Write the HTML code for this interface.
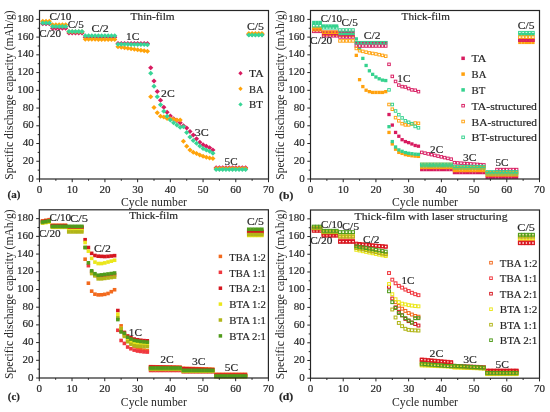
<!DOCTYPE html>
<html><head><meta charset="utf-8"><style>html,body{margin:0;padding:0;background:#fff;width:550px;height:412px;overflow:hidden;position:relative}</style></head><body>
<svg width="550" height="412" viewBox="0 0 550 412" style="position:absolute;left:0;top:0;will-change:transform">
<rect width="550" height="412" fill="#fff"/>
<path d="M40.17 23.80L42.77 21.30L45.37 23.80L42.77 26.30Z" fill="#d81b60"/>
<path d="M43.44 23.80L46.04 21.30L48.64 23.80L46.04 26.30Z" fill="#d81b60"/>
<path d="M46.71 23.80L49.31 21.30L51.91 23.80L49.31 26.30Z" fill="#d81b60"/>
<path d="M49.99 28.24L52.59 25.74L55.19 28.24L52.59 30.74Z" fill="#d81b60"/>
<path d="M53.26 28.24L55.86 25.74L58.46 28.24L55.86 30.74Z" fill="#d81b60"/>
<path d="M56.53 28.24L59.13 25.74L61.73 28.24L59.13 30.74Z" fill="#d81b60"/>
<path d="M59.80 28.24L62.40 25.74L65.00 28.24L62.40 30.74Z" fill="#d81b60"/>
<path d="M63.07 28.24L65.67 25.74L68.27 28.24L65.67 30.74Z" fill="#d81b60"/>
<path d="M66.34 33.11L68.94 30.61L71.54 33.11L68.94 35.61Z" fill="#d81b60"/>
<path d="M69.61 33.11L72.21 30.61L74.81 33.11L72.21 35.61Z" fill="#d81b60"/>
<path d="M72.89 33.11L75.49 30.61L78.09 33.11L75.49 35.61Z" fill="#d81b60"/>
<path d="M76.16 33.11L78.76 30.61L81.36 33.11L78.76 35.61Z" fill="#d81b60"/>
<path d="M79.43 33.11L82.03 30.61L84.63 33.11L82.03 35.61Z" fill="#d81b60"/>
<path d="M82.70 37.28L85.30 34.78L87.90 37.28L85.30 39.78Z" fill="#d81b60"/>
<path d="M85.97 37.28L88.57 34.78L91.17 37.28L88.57 39.78Z" fill="#d81b60"/>
<path d="M89.24 37.28L91.84 34.78L94.44 37.28L91.84 39.78Z" fill="#d81b60"/>
<path d="M92.51 37.28L95.11 34.78L97.71 37.28L95.11 39.78Z" fill="#d81b60"/>
<path d="M95.79 37.28L98.39 34.78L100.99 37.28L98.39 39.78Z" fill="#d81b60"/>
<path d="M99.06 37.28L101.66 34.78L104.26 37.28L101.66 39.78Z" fill="#d81b60"/>
<path d="M102.33 37.28L104.93 34.78L107.53 37.28L104.93 39.78Z" fill="#d81b60"/>
<path d="M105.60 37.28L108.20 34.78L110.80 37.28L108.20 39.78Z" fill="#d81b60"/>
<path d="M108.87 37.28L111.47 34.78L114.07 37.28L111.47 39.78Z" fill="#d81b60"/>
<path d="M112.14 37.28L114.74 34.78L117.34 37.28L114.74 39.78Z" fill="#d81b60"/>
<path d="M115.41 43.49L118.01 40.99L120.61 43.49L118.01 45.99Z" fill="#d81b60"/>
<path d="M118.69 43.49L121.29 40.99L123.89 43.49L121.29 45.99Z" fill="#d81b60"/>
<path d="M121.96 43.49L124.56 40.99L127.16 43.49L124.56 45.99Z" fill="#d81b60"/>
<path d="M125.23 43.49L127.83 40.99L130.43 43.49L127.83 45.99Z" fill="#d81b60"/>
<path d="M128.50 43.49L131.10 40.99L133.70 43.49L131.10 45.99Z" fill="#d81b60"/>
<path d="M131.77 43.49L134.37 40.99L136.97 43.49L134.37 45.99Z" fill="#d81b60"/>
<path d="M135.04 43.49L137.64 40.99L140.24 43.49L137.64 45.99Z" fill="#d81b60"/>
<path d="M138.31 43.49L140.91 40.99L143.51 43.49L140.91 45.99Z" fill="#d81b60"/>
<path d="M141.59 43.49L144.19 40.99L146.79 43.49L144.19 45.99Z" fill="#d81b60"/>
<path d="M144.86 43.49L147.46 40.99L150.06 43.49L147.46 45.99Z" fill="#d81b60"/>
<path d="M148.13 67.70L150.73 65.20L153.33 67.70L150.73 70.20Z" fill="#d81b60"/>
<path d="M151.40 81.00L154.00 78.50L156.60 81.00L154.00 83.50Z" fill="#d81b60"/>
<path d="M154.67 91.56L157.27 89.06L159.87 91.56L157.27 94.06Z" fill="#d81b60"/>
<path d="M157.94 100.34L160.54 97.84L163.14 100.34L160.54 102.84Z" fill="#d81b60"/>
<path d="M161.21 107.25L163.81 104.75L166.41 107.25L163.81 109.75Z" fill="#d81b60"/>
<path d="M164.49 112.31L167.09 109.81L169.69 112.31L167.09 114.81Z" fill="#d81b60"/>
<path d="M167.76 116.03L170.36 113.53L172.96 116.03L170.36 118.53Z" fill="#d81b60"/>
<path d="M171.03 118.69L173.63 116.19L176.23 118.69L173.63 121.19Z" fill="#d81b60"/>
<path d="M174.30 120.47L176.90 117.97L179.50 120.47L176.90 122.97Z" fill="#d81b60"/>
<path d="M177.57 122.69L180.17 120.19L182.77 122.69L180.17 125.19Z" fill="#d81b60"/>
<path d="M180.84 125.79L183.44 123.29L186.04 125.79L183.44 128.29Z" fill="#d81b60"/>
<path d="M184.11 128.10L186.71 125.60L189.31 128.10L186.71 130.60Z" fill="#d81b60"/>
<path d="M187.39 131.47L189.99 128.97L192.59 131.47L189.99 133.97Z" fill="#d81b60"/>
<path d="M190.66 134.92L193.26 132.42L195.86 134.92L193.26 137.42Z" fill="#d81b60"/>
<path d="M193.93 138.74L196.53 136.24L199.13 138.74L196.53 141.24Z" fill="#d81b60"/>
<path d="M197.20 142.20L199.80 139.70L202.40 142.20L199.80 144.70Z" fill="#d81b60"/>
<path d="M200.47 144.86L203.07 142.36L205.67 144.86L203.07 147.36Z" fill="#d81b60"/>
<path d="M203.74 146.28L206.34 143.78L208.94 146.28L206.34 148.78Z" fill="#d81b60"/>
<path d="M207.01 147.69L209.61 145.19L212.21 147.69L209.61 150.19Z" fill="#d81b60"/>
<path d="M210.29 149.91L212.89 147.41L215.49 149.91L212.89 152.41Z" fill="#d81b60"/>
<path d="M213.56 167.83L216.16 165.33L218.76 167.83L216.16 170.33Z" fill="#d81b60"/>
<path d="M216.83 167.83L219.43 165.33L222.03 167.83L219.43 170.33Z" fill="#d81b60"/>
<path d="M220.10 167.83L222.70 165.33L225.30 167.83L222.70 170.33Z" fill="#d81b60"/>
<path d="M223.37 167.83L225.97 165.33L228.57 167.83L225.97 170.33Z" fill="#d81b60"/>
<path d="M226.64 167.83L229.24 165.33L231.84 167.83L229.24 170.33Z" fill="#d81b60"/>
<path d="M229.91 167.83L232.51 165.33L235.11 167.83L232.51 170.33Z" fill="#d81b60"/>
<path d="M233.19 167.83L235.79 165.33L238.39 167.83L235.79 170.33Z" fill="#d81b60"/>
<path d="M236.46 167.83L239.06 165.33L241.66 167.83L239.06 170.33Z" fill="#d81b60"/>
<path d="M239.73 167.83L242.33 165.33L244.93 167.83L242.33 170.33Z" fill="#d81b60"/>
<path d="M243.00 167.83L245.60 165.33L248.20 167.83L245.60 170.33Z" fill="#d81b60"/>
<path d="M246.27 34.44L248.87 31.94L251.47 34.44L248.87 36.94Z" fill="#d81b60"/>
<path d="M249.54 34.44L252.14 31.94L254.74 34.44L252.14 36.94Z" fill="#d81b60"/>
<path d="M252.81 34.44L255.41 31.94L258.01 34.44L255.41 36.94Z" fill="#d81b60"/>
<path d="M256.09 34.44L258.69 31.94L261.29 34.44L258.69 36.94Z" fill="#d81b60"/>
<path d="M259.36 34.44L261.96 31.94L264.56 34.44L261.96 36.94Z" fill="#d81b60"/>
<path d="M40.17 21.14L42.77 18.64L45.37 21.14L42.77 23.64Z" fill="#ffa30a"/>
<path d="M43.44 21.14L46.04 18.64L48.64 21.14L46.04 23.64Z" fill="#ffa30a"/>
<path d="M46.71 21.14L49.31 18.64L51.91 21.14L49.31 23.64Z" fill="#ffa30a"/>
<path d="M49.99 24.69L52.59 22.19L55.19 24.69L52.59 27.19Z" fill="#ffa30a"/>
<path d="M53.26 24.69L55.86 22.19L58.46 24.69L55.86 27.19Z" fill="#ffa30a"/>
<path d="M56.53 24.69L59.13 22.19L61.73 24.69L59.13 27.19Z" fill="#ffa30a"/>
<path d="M59.80 24.69L62.40 22.19L65.00 24.69L62.40 27.19Z" fill="#ffa30a"/>
<path d="M63.07 24.69L65.67 22.19L68.27 24.69L65.67 27.19Z" fill="#ffa30a"/>
<path d="M66.34 31.78L68.94 29.28L71.54 31.78L68.94 34.28Z" fill="#ffa30a"/>
<path d="M69.61 31.78L72.21 29.28L74.81 31.78L72.21 34.28Z" fill="#ffa30a"/>
<path d="M72.89 31.78L75.49 29.28L78.09 31.78L75.49 34.28Z" fill="#ffa30a"/>
<path d="M76.16 31.78L78.76 29.28L81.36 31.78L78.76 34.28Z" fill="#ffa30a"/>
<path d="M79.43 31.78L82.03 29.28L84.63 31.78L82.03 34.28Z" fill="#ffa30a"/>
<path d="M82.70 39.23L85.30 36.73L87.90 39.23L85.30 41.73Z" fill="#ffa30a"/>
<path d="M85.97 39.27L88.57 36.77L91.17 39.27L88.57 41.77Z" fill="#ffa30a"/>
<path d="M89.24 39.31L91.84 36.81L94.44 39.31L91.84 41.81Z" fill="#ffa30a"/>
<path d="M92.51 39.35L95.11 36.85L97.71 39.35L95.11 41.85Z" fill="#ffa30a"/>
<path d="M95.79 39.39L98.39 36.89L100.99 39.39L98.39 41.89Z" fill="#ffa30a"/>
<path d="M99.06 39.43L101.66 36.93L104.26 39.43L101.66 41.93Z" fill="#ffa30a"/>
<path d="M102.33 39.47L104.93 36.97L107.53 39.47L104.93 41.97Z" fill="#ffa30a"/>
<path d="M105.60 39.51L108.20 37.01L110.80 39.51L108.20 42.01Z" fill="#ffa30a"/>
<path d="M108.87 39.55L111.47 37.05L114.07 39.55L111.47 42.05Z" fill="#ffa30a"/>
<path d="M112.14 39.59L114.74 37.09L117.34 39.59L114.74 42.09Z" fill="#ffa30a"/>
<path d="M115.41 46.86L118.01 44.36L120.61 46.86L118.01 49.36Z" fill="#ffa30a"/>
<path d="M118.69 47.35L121.29 44.85L123.89 47.35L121.29 49.85Z" fill="#ffa30a"/>
<path d="M121.96 47.85L124.56 45.35L127.16 47.85L124.56 50.35Z" fill="#ffa30a"/>
<path d="M125.23 48.34L127.83 45.84L130.43 48.34L127.83 50.84Z" fill="#ffa30a"/>
<path d="M128.50 48.83L131.10 46.33L133.70 48.83L131.10 51.33Z" fill="#ffa30a"/>
<path d="M131.77 49.32L134.37 46.82L136.97 49.32L134.37 51.82Z" fill="#ffa30a"/>
<path d="M135.04 49.82L137.64 47.32L140.24 49.82L137.64 52.32Z" fill="#ffa30a"/>
<path d="M138.31 50.31L140.91 47.81L143.51 50.31L140.91 52.81Z" fill="#ffa30a"/>
<path d="M141.59 50.80L144.19 48.30L146.79 50.80L144.19 53.30Z" fill="#ffa30a"/>
<path d="M144.86 51.29L147.46 48.79L150.06 51.29L147.46 53.79Z" fill="#ffa30a"/>
<path d="M148.13 96.70L150.73 94.20L153.33 96.70L150.73 99.20Z" fill="#ffa30a"/>
<path d="M151.40 107.61L154.00 105.11L156.60 107.61L154.00 110.11Z" fill="#ffa30a"/>
<path d="M154.67 112.66L157.27 110.16L159.87 112.66L157.27 115.16Z" fill="#ffa30a"/>
<path d="M157.94 116.30L160.54 113.80L163.14 116.30L160.54 118.80Z" fill="#ffa30a"/>
<path d="M161.21 117.10L163.81 114.60L166.41 117.10L163.81 119.60Z" fill="#ffa30a"/>
<path d="M164.49 118.52L167.09 116.02L169.69 118.52L167.09 121.02Z" fill="#ffa30a"/>
<path d="M167.76 118.87L170.36 116.37L172.96 118.87L170.36 121.37Z" fill="#ffa30a"/>
<path d="M171.03 119.32L173.63 116.82L176.23 119.32L173.63 121.82Z" fill="#ffa30a"/>
<path d="M174.30 119.94L176.90 117.44L179.50 119.94L176.90 122.44Z" fill="#ffa30a"/>
<path d="M177.57 119.94L180.17 117.44L182.77 119.94L180.17 122.44Z" fill="#ffa30a"/>
<path d="M180.84 141.13L183.44 138.63L186.04 141.13L183.44 143.63Z" fill="#ffa30a"/>
<path d="M184.11 146.28L186.71 143.78L189.31 146.28L186.71 148.78Z" fill="#ffa30a"/>
<path d="M187.39 149.91L189.99 147.41L192.59 149.91L189.99 152.41Z" fill="#ffa30a"/>
<path d="M190.66 152.13L193.26 149.63L195.86 152.13L193.26 154.63Z" fill="#ffa30a"/>
<path d="M193.93 153.55L196.53 151.05L199.13 153.55L196.53 156.05Z" fill="#ffa30a"/>
<path d="M197.20 155.06L199.80 152.56L202.40 155.06L199.80 157.56Z" fill="#ffa30a"/>
<path d="M200.47 156.21L203.07 153.71L205.67 156.21L203.07 158.71Z" fill="#ffa30a"/>
<path d="M203.74 157.18L206.34 154.68L208.94 157.18L206.34 159.68Z" fill="#ffa30a"/>
<path d="M207.01 157.89L209.61 155.39L212.21 157.89L209.61 160.39Z" fill="#ffa30a"/>
<path d="M210.29 158.60L212.89 156.10L215.49 158.60L212.89 161.10Z" fill="#ffa30a"/>
<path d="M213.56 168.45L216.16 165.95L218.76 168.45L216.16 170.95Z" fill="#ffa30a"/>
<path d="M216.83 168.45L219.43 165.95L222.03 168.45L219.43 170.95Z" fill="#ffa30a"/>
<path d="M220.10 168.45L222.70 165.95L225.30 168.45L222.70 170.95Z" fill="#ffa30a"/>
<path d="M223.37 168.45L225.97 165.95L228.57 168.45L225.97 170.95Z" fill="#ffa30a"/>
<path d="M226.64 168.45L229.24 165.95L231.84 168.45L229.24 170.95Z" fill="#ffa30a"/>
<path d="M229.91 168.45L232.51 165.95L235.11 168.45L232.51 170.95Z" fill="#ffa30a"/>
<path d="M233.19 168.45L235.79 165.95L238.39 168.45L235.79 170.95Z" fill="#ffa30a"/>
<path d="M236.46 168.45L239.06 165.95L241.66 168.45L239.06 170.95Z" fill="#ffa30a"/>
<path d="M239.73 168.45L242.33 165.95L244.93 168.45L242.33 170.95Z" fill="#ffa30a"/>
<path d="M243.00 168.45L245.60 165.95L248.20 168.45L245.60 170.95Z" fill="#ffa30a"/>
<path d="M246.27 33.56L248.87 31.06L251.47 33.56L248.87 36.06Z" fill="#ffa30a"/>
<path d="M249.54 33.56L252.14 31.06L254.74 33.56L252.14 36.06Z" fill="#ffa30a"/>
<path d="M252.81 33.56L255.41 31.06L258.01 33.56L255.41 36.06Z" fill="#ffa30a"/>
<path d="M256.09 33.56L258.69 31.06L261.29 33.56L258.69 36.06Z" fill="#ffa30a"/>
<path d="M259.36 33.56L261.96 31.06L264.56 33.56L261.96 36.06Z" fill="#ffa30a"/>
<path d="M40.17 22.92L42.77 20.42L45.37 22.92L42.77 25.42Z" fill="#38d596"/>
<path d="M43.44 22.92L46.04 20.42L48.64 22.92L46.04 25.42Z" fill="#38d596"/>
<path d="M46.71 22.92L49.31 20.42L51.91 22.92L49.31 25.42Z" fill="#38d596"/>
<path d="M49.99 26.46L52.59 23.96L55.19 26.46L52.59 28.96Z" fill="#38d596"/>
<path d="M53.26 26.46L55.86 23.96L58.46 26.46L55.86 28.96Z" fill="#38d596"/>
<path d="M56.53 26.46L59.13 23.96L61.73 26.46L59.13 28.96Z" fill="#38d596"/>
<path d="M59.80 26.46L62.40 23.96L65.00 26.46L62.40 28.96Z" fill="#38d596"/>
<path d="M63.07 26.46L65.67 23.96L68.27 26.46L65.67 28.96Z" fill="#38d596"/>
<path d="M66.34 31.52L68.94 29.02L71.54 31.52L68.94 34.02Z" fill="#38d596"/>
<path d="M69.61 31.52L72.21 29.02L74.81 31.52L72.21 34.02Z" fill="#38d596"/>
<path d="M72.89 31.52L75.49 29.02L78.09 31.52L75.49 34.02Z" fill="#38d596"/>
<path d="M76.16 31.52L78.76 29.02L81.36 31.52L78.76 34.02Z" fill="#38d596"/>
<path d="M79.43 31.52L82.03 29.02L84.63 31.52L82.03 34.02Z" fill="#38d596"/>
<path d="M82.70 35.86L85.30 33.36L87.90 35.86L85.30 38.36Z" fill="#38d596"/>
<path d="M85.97 35.86L88.57 33.36L91.17 35.86L88.57 38.36Z" fill="#38d596"/>
<path d="M89.24 35.86L91.84 33.36L94.44 35.86L91.84 38.36Z" fill="#38d596"/>
<path d="M92.51 35.86L95.11 33.36L97.71 35.86L95.11 38.36Z" fill="#38d596"/>
<path d="M95.79 35.86L98.39 33.36L100.99 35.86L98.39 38.36Z" fill="#38d596"/>
<path d="M99.06 35.86L101.66 33.36L104.26 35.86L101.66 38.36Z" fill="#38d596"/>
<path d="M102.33 35.86L104.93 33.36L107.53 35.86L104.93 38.36Z" fill="#38d596"/>
<path d="M105.60 35.86L108.20 33.36L110.80 35.86L108.20 38.36Z" fill="#38d596"/>
<path d="M108.87 35.86L111.47 33.36L114.07 35.86L111.47 38.36Z" fill="#38d596"/>
<path d="M112.14 35.86L114.74 33.36L117.34 35.86L114.74 38.36Z" fill="#38d596"/>
<path d="M115.41 44.20L118.01 41.70L120.61 44.20L118.01 46.70Z" fill="#38d596"/>
<path d="M118.69 44.25L121.29 41.75L123.89 44.25L121.29 46.75Z" fill="#38d596"/>
<path d="M121.96 44.30L124.56 41.80L127.16 44.30L124.56 46.80Z" fill="#38d596"/>
<path d="M125.23 44.35L127.83 41.85L130.43 44.35L127.83 46.85Z" fill="#38d596"/>
<path d="M128.50 44.40L131.10 41.90L133.70 44.40L131.10 46.90Z" fill="#38d596"/>
<path d="M131.77 44.45L134.37 41.95L136.97 44.45L134.37 46.95Z" fill="#38d596"/>
<path d="M135.04 44.50L137.64 42.00L140.24 44.50L137.64 47.00Z" fill="#38d596"/>
<path d="M138.31 44.54L140.91 42.04L143.51 44.54L140.91 47.04Z" fill="#38d596"/>
<path d="M141.59 44.59L144.19 42.09L146.79 44.59L144.19 47.09Z" fill="#38d596"/>
<path d="M144.86 44.64L147.46 42.14L150.06 44.64L147.46 47.14Z" fill="#38d596"/>
<path d="M148.13 73.20L150.73 70.70L153.33 73.20L150.73 75.70Z" fill="#38d596"/>
<path d="M151.40 86.15L154.00 83.65L156.60 86.15L154.00 88.65Z" fill="#38d596"/>
<path d="M154.67 96.70L157.27 94.20L159.87 96.70L157.27 99.20Z" fill="#38d596"/>
<path d="M157.94 104.68L160.54 102.18L163.14 104.68L160.54 107.18Z" fill="#38d596"/>
<path d="M161.21 111.16L163.81 108.66L166.41 111.16L163.81 113.66Z" fill="#38d596"/>
<path d="M164.49 116.30L167.09 113.80L169.69 116.30L167.09 118.80Z" fill="#38d596"/>
<path d="M167.76 119.94L170.36 117.44L172.96 119.94L170.36 122.44Z" fill="#38d596"/>
<path d="M171.03 122.86L173.63 120.36L176.23 122.86L173.63 125.36Z" fill="#38d596"/>
<path d="M174.30 125.08L176.90 122.58L179.50 125.08L176.90 127.58Z" fill="#38d596"/>
<path d="M177.57 127.30L180.17 124.80L182.77 127.30L180.17 129.80Z" fill="#38d596"/>
<path d="M180.84 126.68L183.44 124.18L186.04 126.68L183.44 129.18Z" fill="#38d596"/>
<path d="M184.11 132.44L186.71 129.94L189.31 132.44L186.71 134.94Z" fill="#38d596"/>
<path d="M187.39 136.88L189.99 134.38L192.59 136.88L189.99 139.38Z" fill="#38d596"/>
<path d="M190.66 140.42L193.26 137.92L195.86 140.42L193.26 142.92Z" fill="#38d596"/>
<path d="M193.93 143.35L196.53 140.85L199.13 143.35L196.53 145.85Z" fill="#38d596"/>
<path d="M197.20 146.01L199.80 143.51L202.40 146.01L199.80 148.51Z" fill="#38d596"/>
<path d="M200.47 148.40L203.07 145.90L205.67 148.40L203.07 150.90Z" fill="#38d596"/>
<path d="M203.74 149.91L206.34 147.41L208.94 149.91L206.34 152.41Z" fill="#38d596"/>
<path d="M207.01 151.33L209.61 148.83L212.21 151.33L209.61 153.83Z" fill="#38d596"/>
<path d="M210.29 153.19L212.89 150.69L215.49 153.19L212.89 155.69Z" fill="#38d596"/>
<path d="M213.56 169.60L216.16 167.10L218.76 169.60L216.16 172.10Z" fill="#38d596"/>
<path d="M216.83 169.60L219.43 167.10L222.03 169.60L219.43 172.10Z" fill="#38d596"/>
<path d="M220.10 169.60L222.70 167.10L225.30 169.60L222.70 172.10Z" fill="#38d596"/>
<path d="M223.37 169.60L225.97 167.10L228.57 169.60L225.97 172.10Z" fill="#38d596"/>
<path d="M226.64 169.60L229.24 167.10L231.84 169.60L229.24 172.10Z" fill="#38d596"/>
<path d="M229.91 169.60L232.51 167.10L235.11 169.60L232.51 172.10Z" fill="#38d596"/>
<path d="M233.19 169.60L235.79 167.10L238.39 169.60L235.79 172.10Z" fill="#38d596"/>
<path d="M236.46 169.60L239.06 167.10L241.66 169.60L239.06 172.10Z" fill="#38d596"/>
<path d="M239.73 169.60L242.33 167.10L244.93 169.60L242.33 172.10Z" fill="#38d596"/>
<path d="M243.00 169.60L245.60 167.10L248.20 169.60L245.60 172.10Z" fill="#38d596"/>
<path d="M246.27 34.89L248.87 32.39L251.47 34.89L248.87 37.39Z" fill="#38d596"/>
<path d="M249.54 34.89L252.14 32.39L254.74 34.89L252.14 37.39Z" fill="#38d596"/>
<path d="M252.81 34.89L255.41 32.39L258.01 34.89L255.41 37.39Z" fill="#38d596"/>
<path d="M256.09 34.89L258.69 32.39L261.29 34.89L258.69 37.39Z" fill="#38d596"/>
<path d="M259.36 34.89L261.96 32.39L264.56 34.89L261.96 37.39Z" fill="#38d596"/>
<rect x="39.50" y="10.50" width="229.00" height="168.50" fill="none" stroke="#262626" stroke-width="1.2"/>
<line x1="36.30" y1="179.00" x2="39.50" y2="179.00" stroke="#262626" stroke-width="1"/>
<text x="33.80" y="181.50" font-size="11" text-anchor="end" fill="#262626" stroke="#262626" stroke-width="0.18" font-family="'Liberation Serif', serif">0</text>
<line x1="37.70" y1="170.13" x2="39.50" y2="170.13" stroke="#262626" stroke-width="1"/>
<line x1="36.30" y1="161.26" x2="39.50" y2="161.26" stroke="#262626" stroke-width="1"/>
<text x="33.80" y="163.76" font-size="11" text-anchor="end" fill="#262626" stroke="#262626" stroke-width="0.18" font-family="'Liberation Serif', serif">20</text>
<line x1="37.70" y1="152.39" x2="39.50" y2="152.39" stroke="#262626" stroke-width="1"/>
<line x1="36.30" y1="143.53" x2="39.50" y2="143.53" stroke="#262626" stroke-width="1"/>
<text x="33.80" y="146.03" font-size="11" text-anchor="end" fill="#262626" stroke="#262626" stroke-width="0.18" font-family="'Liberation Serif', serif">40</text>
<line x1="37.70" y1="134.66" x2="39.50" y2="134.66" stroke="#262626" stroke-width="1"/>
<line x1="36.30" y1="125.79" x2="39.50" y2="125.79" stroke="#262626" stroke-width="1"/>
<text x="33.80" y="128.29" font-size="11" text-anchor="end" fill="#262626" stroke="#262626" stroke-width="0.18" font-family="'Liberation Serif', serif">60</text>
<line x1="37.70" y1="116.92" x2="39.50" y2="116.92" stroke="#262626" stroke-width="1"/>
<line x1="36.30" y1="108.05" x2="39.50" y2="108.05" stroke="#262626" stroke-width="1"/>
<text x="33.80" y="110.55" font-size="11" text-anchor="end" fill="#262626" stroke="#262626" stroke-width="0.18" font-family="'Liberation Serif', serif">80</text>
<line x1="37.70" y1="99.18" x2="39.50" y2="99.18" stroke="#262626" stroke-width="1"/>
<line x1="36.30" y1="90.32" x2="39.50" y2="90.32" stroke="#262626" stroke-width="1"/>
<text x="33.80" y="92.82" font-size="11" text-anchor="end" fill="#262626" stroke="#262626" stroke-width="0.18" font-family="'Liberation Serif', serif">100</text>
<line x1="37.70" y1="81.45" x2="39.50" y2="81.45" stroke="#262626" stroke-width="1"/>
<line x1="36.30" y1="72.58" x2="39.50" y2="72.58" stroke="#262626" stroke-width="1"/>
<text x="33.80" y="75.08" font-size="11" text-anchor="end" fill="#262626" stroke="#262626" stroke-width="0.18" font-family="'Liberation Serif', serif">120</text>
<line x1="37.70" y1="63.71" x2="39.50" y2="63.71" stroke="#262626" stroke-width="1"/>
<line x1="36.30" y1="54.84" x2="39.50" y2="54.84" stroke="#262626" stroke-width="1"/>
<text x="33.80" y="57.34" font-size="11" text-anchor="end" fill="#262626" stroke="#262626" stroke-width="0.18" font-family="'Liberation Serif', serif">140</text>
<line x1="37.70" y1="45.97" x2="39.50" y2="45.97" stroke="#262626" stroke-width="1"/>
<line x1="36.30" y1="37.11" x2="39.50" y2="37.11" stroke="#262626" stroke-width="1"/>
<text x="33.80" y="39.61" font-size="11" text-anchor="end" fill="#262626" stroke="#262626" stroke-width="0.18" font-family="'Liberation Serif', serif">160</text>
<line x1="37.70" y1="28.24" x2="39.50" y2="28.24" stroke="#262626" stroke-width="1"/>
<line x1="36.30" y1="19.37" x2="39.50" y2="19.37" stroke="#262626" stroke-width="1"/>
<text x="33.80" y="21.87" font-size="11" text-anchor="end" fill="#262626" stroke="#262626" stroke-width="0.18" font-family="'Liberation Serif', serif">180</text>
<line x1="39.50" y1="179.00" x2="39.50" y2="182.20" stroke="#262626" stroke-width="1"/>
<text x="39.50" y="192.50" font-size="11" text-anchor="middle" fill="#262626" stroke="#262626" stroke-width="0.18" font-family="'Liberation Serif', serif">0</text>
<line x1="55.86" y1="179.00" x2="55.86" y2="180.80" stroke="#262626" stroke-width="1"/>
<line x1="72.21" y1="179.00" x2="72.21" y2="182.20" stroke="#262626" stroke-width="1"/>
<text x="72.21" y="192.50" font-size="11" text-anchor="middle" fill="#262626" stroke="#262626" stroke-width="0.18" font-family="'Liberation Serif', serif">10</text>
<line x1="88.57" y1="179.00" x2="88.57" y2="180.80" stroke="#262626" stroke-width="1"/>
<line x1="104.93" y1="179.00" x2="104.93" y2="182.20" stroke="#262626" stroke-width="1"/>
<text x="104.93" y="192.50" font-size="11" text-anchor="middle" fill="#262626" stroke="#262626" stroke-width="0.18" font-family="'Liberation Serif', serif">20</text>
<line x1="121.29" y1="179.00" x2="121.29" y2="180.80" stroke="#262626" stroke-width="1"/>
<line x1="137.64" y1="179.00" x2="137.64" y2="182.20" stroke="#262626" stroke-width="1"/>
<text x="137.64" y="192.50" font-size="11" text-anchor="middle" fill="#262626" stroke="#262626" stroke-width="0.18" font-family="'Liberation Serif', serif">30</text>
<line x1="154.00" y1="179.00" x2="154.00" y2="180.80" stroke="#262626" stroke-width="1"/>
<line x1="170.36" y1="179.00" x2="170.36" y2="182.20" stroke="#262626" stroke-width="1"/>
<text x="170.36" y="192.50" font-size="11" text-anchor="middle" fill="#262626" stroke="#262626" stroke-width="0.18" font-family="'Liberation Serif', serif">40</text>
<line x1="186.71" y1="179.00" x2="186.71" y2="180.80" stroke="#262626" stroke-width="1"/>
<line x1="203.07" y1="179.00" x2="203.07" y2="182.20" stroke="#262626" stroke-width="1"/>
<text x="203.07" y="192.50" font-size="11" text-anchor="middle" fill="#262626" stroke="#262626" stroke-width="0.18" font-family="'Liberation Serif', serif">50</text>
<line x1="219.43" y1="179.00" x2="219.43" y2="180.80" stroke="#262626" stroke-width="1"/>
<line x1="235.79" y1="179.00" x2="235.79" y2="182.20" stroke="#262626" stroke-width="1"/>
<text x="235.79" y="192.50" font-size="11" text-anchor="middle" fill="#262626" stroke="#262626" stroke-width="0.18" font-family="'Liberation Serif', serif">60</text>
<line x1="252.14" y1="179.00" x2="252.14" y2="180.80" stroke="#262626" stroke-width="1"/>
<line x1="268.50" y1="179.00" x2="268.50" y2="182.20" stroke="#262626" stroke-width="1"/>
<text x="268.50" y="192.50" font-size="11" text-anchor="middle" fill="#262626" stroke="#262626" stroke-width="0.18" font-family="'Liberation Serif', serif">70</text>
<text x="0" y="0" transform="translate(12.70,95.05) rotate(-90)" font-size="11.9" text-anchor="middle" textLength="169.5" lengthAdjust="spacingAndGlyphs" fill="#262626" font-family="'Liberation Serif', serif">Specific discharge capacity (mAh/g)</text>
<text x="154.00" y="205.60" font-size="11.8" text-anchor="middle" textLength="66" lengthAdjust="spacingAndGlyphs" fill="#262626" font-family="'Liberation Serif', serif">Cycle number</text>
<text x="130.60" y="19.90" font-size="11.4" text-anchor="start" fill="#262626" stroke="#262626" stroke-width="0.18" font-family="'Liberation Serif', serif" textLength="44.0" lengthAdjust="spacingAndGlyphs">Thin-film</text>
<text x="49.50" y="20.00" font-size="11.4" text-anchor="start" fill="#262626" stroke="#262626" stroke-width="0.18" font-family="'Liberation Serif', serif" textLength="22.0" lengthAdjust="spacingAndGlyphs">C/10</text>
<text x="39.30" y="37.30" font-size="11.4" text-anchor="start" fill="#262626" stroke="#262626" stroke-width="0.18" font-family="'Liberation Serif', serif" textLength="21.7" lengthAdjust="spacingAndGlyphs">C/20</text>
<text x="67.70" y="27.70" font-size="11.4" text-anchor="start" fill="#262626" stroke="#262626" stroke-width="0.18" font-family="'Liberation Serif', serif" textLength="16.1" lengthAdjust="spacingAndGlyphs">C/5</text>
<text x="91.50" y="31.90" font-size="11.4" text-anchor="start" fill="#262626" stroke="#262626" stroke-width="0.18" font-family="'Liberation Serif', serif" textLength="17.2" lengthAdjust="spacingAndGlyphs">C/2</text>
<text x="126.10" y="39.70" font-size="11.4" text-anchor="start" fill="#262626" stroke="#262626" stroke-width="0.18" font-family="'Liberation Serif', serif" textLength="13.3" lengthAdjust="spacingAndGlyphs">1C</text>
<text x="161.10" y="96.80" font-size="11.4" text-anchor="start" fill="#262626" stroke="#262626" stroke-width="0.18" font-family="'Liberation Serif', serif" textLength="13.6" lengthAdjust="spacingAndGlyphs">2C</text>
<text x="194.80" y="135.80" font-size="11.4" text-anchor="start" fill="#262626" stroke="#262626" stroke-width="0.18" font-family="'Liberation Serif', serif" textLength="14.0" lengthAdjust="spacingAndGlyphs">3C</text>
<text x="224.60" y="164.50" font-size="11.4" text-anchor="start" fill="#262626" stroke="#262626" stroke-width="0.18" font-family="'Liberation Serif', serif" textLength="13.0" lengthAdjust="spacingAndGlyphs">5C</text>
<text x="247.00" y="29.50" font-size="11.4" text-anchor="start" fill="#262626" stroke="#262626" stroke-width="0.18" font-family="'Liberation Serif', serif" textLength="17.0" lengthAdjust="spacingAndGlyphs">C/5</text>
<path d="M238.30 73.20L240.50 71.00L242.70 73.20L240.50 75.40Z" fill="#d81b60"/>
<text x="249.00" y="77.20" font-size="11.4" text-anchor="start" fill="#262626" stroke="#262626" stroke-width="0.18" font-family="'Liberation Serif', serif" textLength="14.6" lengthAdjust="spacingAndGlyphs">TA</text>
<path d="M238.30 88.80L240.50 86.60L242.70 88.80L240.50 91.00Z" fill="#ffa30a"/>
<text x="249.00" y="92.80" font-size="11.4" text-anchor="start" fill="#262626" stroke="#262626" stroke-width="0.18" font-family="'Liberation Serif', serif" textLength="14.6" lengthAdjust="spacingAndGlyphs">BA</text>
<path d="M238.30 104.40L240.50 102.20L242.70 104.40L240.50 106.60Z" fill="#38d596"/>
<text x="249.00" y="108.40" font-size="11.4" text-anchor="start" fill="#262626" stroke="#262626" stroke-width="0.18" font-family="'Liberation Serif', serif" textLength="13.8" lengthAdjust="spacingAndGlyphs">BT</text>
<text x="7.60" y="198.40" font-size="11" text-anchor="start" fill="#262626" stroke="#262626" stroke-width="0.18" font-family="'Liberation Serif', serif" textLength="12.8" lengthAdjust="spacingAndGlyphs" font-weight="bold">(a)</text>
<rect x="312.12" y="27.92" width="3.30" height="3.30" fill="#d81b60"/>
<rect x="315.39" y="27.92" width="3.30" height="3.30" fill="#d81b60"/>
<rect x="318.66" y="27.92" width="3.30" height="3.30" fill="#d81b60"/>
<rect x="321.94" y="30.58" width="3.30" height="3.30" fill="#d81b60"/>
<rect x="325.21" y="30.58" width="3.30" height="3.30" fill="#d81b60"/>
<rect x="328.48" y="30.58" width="3.30" height="3.30" fill="#d81b60"/>
<rect x="331.75" y="30.58" width="3.30" height="3.30" fill="#d81b60"/>
<rect x="335.02" y="30.58" width="3.30" height="3.30" fill="#d81b60"/>
<rect x="338.29" y="30.84" width="3.30" height="3.30" fill="#d81b60"/>
<rect x="341.56" y="30.84" width="3.30" height="3.30" fill="#d81b60"/>
<rect x="344.84" y="30.84" width="3.30" height="3.30" fill="#d81b60"/>
<rect x="348.11" y="30.84" width="3.30" height="3.30" fill="#d81b60"/>
<rect x="351.38" y="30.84" width="3.30" height="3.30" fill="#d81b60"/>
<rect x="354.65" y="41.04" width="3.30" height="3.30" fill="#d81b60"/>
<rect x="357.92" y="41.04" width="3.30" height="3.30" fill="#d81b60"/>
<rect x="361.19" y="41.04" width="3.30" height="3.30" fill="#d81b60"/>
<rect x="364.46" y="41.04" width="3.30" height="3.30" fill="#d81b60"/>
<rect x="367.74" y="41.04" width="3.30" height="3.30" fill="#d81b60"/>
<rect x="371.01" y="41.04" width="3.30" height="3.30" fill="#d81b60"/>
<rect x="374.28" y="41.04" width="3.30" height="3.30" fill="#d81b60"/>
<rect x="377.55" y="41.04" width="3.30" height="3.30" fill="#d81b60"/>
<rect x="380.82" y="41.04" width="3.30" height="3.30" fill="#d81b60"/>
<rect x="384.09" y="41.04" width="3.30" height="3.30" fill="#d81b60"/>
<rect x="387.36" y="112.88" width="3.30" height="3.30" fill="#d81b60"/>
<rect x="390.64" y="123.43" width="3.30" height="3.30" fill="#d81b60"/>
<rect x="393.91" y="130.79" width="3.30" height="3.30" fill="#d81b60"/>
<rect x="397.18" y="134.60" width="3.30" height="3.30" fill="#d81b60"/>
<rect x="400.45" y="138.06" width="3.30" height="3.30" fill="#d81b60"/>
<rect x="403.72" y="139.93" width="3.30" height="3.30" fill="#d81b60"/>
<rect x="406.99" y="140.99" width="3.30" height="3.30" fill="#d81b60"/>
<rect x="410.26" y="142.32" width="3.30" height="3.30" fill="#d81b60"/>
<rect x="413.54" y="143.83" width="3.30" height="3.30" fill="#d81b60"/>
<rect x="416.81" y="144.54" width="3.30" height="3.30" fill="#d81b60"/>
<rect x="420.08" y="167.95" width="3.30" height="3.30" fill="#d81b60"/>
<rect x="423.35" y="167.95" width="3.30" height="3.30" fill="#d81b60"/>
<rect x="426.62" y="167.95" width="3.30" height="3.30" fill="#d81b60"/>
<rect x="429.89" y="167.95" width="3.30" height="3.30" fill="#d81b60"/>
<rect x="433.16" y="167.95" width="3.30" height="3.30" fill="#d81b60"/>
<rect x="436.44" y="167.95" width="3.30" height="3.30" fill="#d81b60"/>
<rect x="439.71" y="167.95" width="3.30" height="3.30" fill="#d81b60"/>
<rect x="442.98" y="167.95" width="3.30" height="3.30" fill="#d81b60"/>
<rect x="446.25" y="167.95" width="3.30" height="3.30" fill="#d81b60"/>
<rect x="449.52" y="167.95" width="3.30" height="3.30" fill="#d81b60"/>
<rect x="452.79" y="170.96" width="3.30" height="3.30" fill="#d81b60"/>
<rect x="456.06" y="170.96" width="3.30" height="3.30" fill="#d81b60"/>
<rect x="459.34" y="170.96" width="3.30" height="3.30" fill="#d81b60"/>
<rect x="462.61" y="170.96" width="3.30" height="3.30" fill="#d81b60"/>
<rect x="465.88" y="170.96" width="3.30" height="3.30" fill="#d81b60"/>
<rect x="469.15" y="170.96" width="3.30" height="3.30" fill="#d81b60"/>
<rect x="472.42" y="170.96" width="3.30" height="3.30" fill="#d81b60"/>
<rect x="475.69" y="170.96" width="3.30" height="3.30" fill="#d81b60"/>
<rect x="478.96" y="170.96" width="3.30" height="3.30" fill="#d81b60"/>
<rect x="482.24" y="170.96" width="3.30" height="3.30" fill="#d81b60"/>
<rect x="485.51" y="175.58" width="3.30" height="3.30" fill="#d81b60"/>
<rect x="488.78" y="175.58" width="3.30" height="3.30" fill="#d81b60"/>
<rect x="492.05" y="175.58" width="3.30" height="3.30" fill="#d81b60"/>
<rect x="495.32" y="175.58" width="3.30" height="3.30" fill="#d81b60"/>
<rect x="498.59" y="175.58" width="3.30" height="3.30" fill="#d81b60"/>
<rect x="501.86" y="175.58" width="3.30" height="3.30" fill="#d81b60"/>
<rect x="505.14" y="175.58" width="3.30" height="3.30" fill="#d81b60"/>
<rect x="508.41" y="175.58" width="3.30" height="3.30" fill="#d81b60"/>
<rect x="511.68" y="175.58" width="3.30" height="3.30" fill="#d81b60"/>
<rect x="514.95" y="175.58" width="3.30" height="3.30" fill="#d81b60"/>
<rect x="518.22" y="38.56" width="3.30" height="3.30" fill="#d81b60"/>
<rect x="521.49" y="38.56" width="3.30" height="3.30" fill="#d81b60"/>
<rect x="524.76" y="38.56" width="3.30" height="3.30" fill="#d81b60"/>
<rect x="528.04" y="38.56" width="3.30" height="3.30" fill="#d81b60"/>
<rect x="531.31" y="38.56" width="3.30" height="3.30" fill="#d81b60"/>
<rect x="312.12" y="26.59" width="3.30" height="3.30" fill="#ffa10e"/>
<rect x="315.39" y="26.59" width="3.30" height="3.30" fill="#ffa10e"/>
<rect x="318.66" y="26.59" width="3.30" height="3.30" fill="#ffa10e"/>
<rect x="321.94" y="32.79" width="3.30" height="3.30" fill="#ffa10e"/>
<rect x="325.21" y="32.79" width="3.30" height="3.30" fill="#ffa10e"/>
<rect x="328.48" y="32.79" width="3.30" height="3.30" fill="#ffa10e"/>
<rect x="331.75" y="32.79" width="3.30" height="3.30" fill="#ffa10e"/>
<rect x="335.02" y="32.79" width="3.30" height="3.30" fill="#ffa10e"/>
<rect x="338.29" y="33.68" width="3.30" height="3.30" fill="#ffa10e"/>
<rect x="341.56" y="33.68" width="3.30" height="3.30" fill="#ffa10e"/>
<rect x="344.84" y="33.68" width="3.30" height="3.30" fill="#ffa10e"/>
<rect x="348.11" y="33.68" width="3.30" height="3.30" fill="#ffa10e"/>
<rect x="351.38" y="33.68" width="3.30" height="3.30" fill="#ffa10e"/>
<rect x="354.65" y="53.72" width="3.30" height="3.30" fill="#ffa10e"/>
<rect x="357.92" y="78.02" width="3.30" height="3.30" fill="#ffa10e"/>
<rect x="361.19" y="84.94" width="3.30" height="3.30" fill="#ffa10e"/>
<rect x="364.46" y="88.58" width="3.30" height="3.30" fill="#ffa10e"/>
<rect x="367.74" y="90.00" width="3.30" height="3.30" fill="#ffa10e"/>
<rect x="371.01" y="90.79" width="3.30" height="3.30" fill="#ffa10e"/>
<rect x="374.28" y="90.79" width="3.30" height="3.30" fill="#ffa10e"/>
<rect x="377.55" y="90.79" width="3.30" height="3.30" fill="#ffa10e"/>
<rect x="380.82" y="90.79" width="3.30" height="3.30" fill="#ffa10e"/>
<rect x="384.09" y="90.00" width="3.30" height="3.30" fill="#ffa10e"/>
<rect x="387.36" y="130.79" width="3.30" height="3.30" fill="#ffa10e"/>
<rect x="390.64" y="142.32" width="3.30" height="3.30" fill="#ffa10e"/>
<rect x="393.91" y="147.55" width="3.30" height="3.30" fill="#ffa10e"/>
<rect x="397.18" y="150.74" width="3.30" height="3.30" fill="#ffa10e"/>
<rect x="400.45" y="151.72" width="3.30" height="3.30" fill="#ffa10e"/>
<rect x="403.72" y="152.96" width="3.30" height="3.30" fill="#ffa10e"/>
<rect x="406.99" y="153.58" width="3.30" height="3.30" fill="#ffa10e"/>
<rect x="410.26" y="154.11" width="3.30" height="3.30" fill="#ffa10e"/>
<rect x="413.54" y="154.47" width="3.30" height="3.30" fill="#ffa10e"/>
<rect x="416.81" y="154.74" width="3.30" height="3.30" fill="#ffa10e"/>
<rect x="420.08" y="165.82" width="3.30" height="3.30" fill="#ffa10e"/>
<rect x="423.35" y="165.82" width="3.30" height="3.30" fill="#ffa10e"/>
<rect x="426.62" y="165.82" width="3.30" height="3.30" fill="#ffa10e"/>
<rect x="429.89" y="165.82" width="3.30" height="3.30" fill="#ffa10e"/>
<rect x="433.16" y="165.82" width="3.30" height="3.30" fill="#ffa10e"/>
<rect x="436.44" y="165.82" width="3.30" height="3.30" fill="#ffa10e"/>
<rect x="439.71" y="165.82" width="3.30" height="3.30" fill="#ffa10e"/>
<rect x="442.98" y="165.82" width="3.30" height="3.30" fill="#ffa10e"/>
<rect x="446.25" y="165.82" width="3.30" height="3.30" fill="#ffa10e"/>
<rect x="449.52" y="165.82" width="3.30" height="3.30" fill="#ffa10e"/>
<rect x="452.79" y="168.92" width="3.30" height="3.30" fill="#ffa10e"/>
<rect x="456.06" y="168.92" width="3.30" height="3.30" fill="#ffa10e"/>
<rect x="459.34" y="168.92" width="3.30" height="3.30" fill="#ffa10e"/>
<rect x="462.61" y="168.92" width="3.30" height="3.30" fill="#ffa10e"/>
<rect x="465.88" y="168.92" width="3.30" height="3.30" fill="#ffa10e"/>
<rect x="469.15" y="168.92" width="3.30" height="3.30" fill="#ffa10e"/>
<rect x="472.42" y="168.92" width="3.30" height="3.30" fill="#ffa10e"/>
<rect x="475.69" y="168.92" width="3.30" height="3.30" fill="#ffa10e"/>
<rect x="478.96" y="168.92" width="3.30" height="3.30" fill="#ffa10e"/>
<rect x="482.24" y="168.92" width="3.30" height="3.30" fill="#ffa10e"/>
<rect x="485.51" y="173.36" width="3.30" height="3.30" fill="#ffa10e"/>
<rect x="488.78" y="173.36" width="3.30" height="3.30" fill="#ffa10e"/>
<rect x="492.05" y="173.36" width="3.30" height="3.30" fill="#ffa10e"/>
<rect x="495.32" y="173.36" width="3.30" height="3.30" fill="#ffa10e"/>
<rect x="498.59" y="173.36" width="3.30" height="3.30" fill="#ffa10e"/>
<rect x="501.86" y="173.36" width="3.30" height="3.30" fill="#ffa10e"/>
<rect x="505.14" y="173.36" width="3.30" height="3.30" fill="#ffa10e"/>
<rect x="508.41" y="173.36" width="3.30" height="3.30" fill="#ffa10e"/>
<rect x="511.68" y="173.36" width="3.30" height="3.30" fill="#ffa10e"/>
<rect x="514.95" y="173.36" width="3.30" height="3.30" fill="#ffa10e"/>
<rect x="518.22" y="40.78" width="3.30" height="3.30" fill="#ffa10e"/>
<rect x="521.49" y="40.78" width="3.30" height="3.30" fill="#ffa10e"/>
<rect x="524.76" y="40.78" width="3.30" height="3.30" fill="#ffa10e"/>
<rect x="528.04" y="40.78" width="3.30" height="3.30" fill="#ffa10e"/>
<rect x="531.31" y="40.78" width="3.30" height="3.30" fill="#ffa10e"/>
<rect x="312.12" y="20.82" width="3.30" height="3.30" fill="#34d28e"/>
<rect x="315.39" y="20.82" width="3.30" height="3.30" fill="#34d28e"/>
<rect x="318.66" y="20.82" width="3.30" height="3.30" fill="#34d28e"/>
<rect x="321.94" y="24.37" width="3.30" height="3.30" fill="#34d28e"/>
<rect x="325.21" y="24.37" width="3.30" height="3.30" fill="#34d28e"/>
<rect x="328.48" y="24.37" width="3.30" height="3.30" fill="#34d28e"/>
<rect x="331.75" y="24.37" width="3.30" height="3.30" fill="#34d28e"/>
<rect x="335.02" y="24.37" width="3.30" height="3.30" fill="#34d28e"/>
<rect x="338.29" y="32.62" width="3.30" height="3.30" fill="#34d28e"/>
<rect x="341.56" y="32.62" width="3.30" height="3.30" fill="#34d28e"/>
<rect x="344.84" y="32.62" width="3.30" height="3.30" fill="#34d28e"/>
<rect x="348.11" y="32.62" width="3.30" height="3.30" fill="#34d28e"/>
<rect x="351.38" y="32.62" width="3.30" height="3.30" fill="#34d28e"/>
<rect x="354.65" y="37.23" width="3.30" height="3.30" fill="#34d28e"/>
<rect x="357.92" y="46.98" width="3.30" height="3.30" fill="#34d28e"/>
<rect x="361.19" y="56.74" width="3.30" height="3.30" fill="#34d28e"/>
<rect x="364.46" y="63.83" width="3.30" height="3.30" fill="#34d28e"/>
<rect x="367.74" y="69.16" width="3.30" height="3.30" fill="#34d28e"/>
<rect x="371.01" y="72.70" width="3.30" height="3.30" fill="#34d28e"/>
<rect x="374.28" y="75.36" width="3.30" height="3.30" fill="#34d28e"/>
<rect x="377.55" y="77.14" width="3.30" height="3.30" fill="#34d28e"/>
<rect x="380.82" y="78.47" width="3.30" height="3.30" fill="#34d28e"/>
<rect x="384.09" y="78.91" width="3.30" height="3.30" fill="#34d28e"/>
<rect x="387.36" y="125.03" width="3.30" height="3.30" fill="#34d28e"/>
<rect x="390.64" y="139.93" width="3.30" height="3.30" fill="#34d28e"/>
<rect x="393.91" y="145.34" width="3.30" height="3.30" fill="#34d28e"/>
<rect x="397.18" y="148.26" width="3.30" height="3.30" fill="#34d28e"/>
<rect x="400.45" y="149.68" width="3.30" height="3.30" fill="#34d28e"/>
<rect x="403.72" y="150.92" width="3.30" height="3.30" fill="#34d28e"/>
<rect x="406.99" y="151.63" width="3.30" height="3.30" fill="#34d28e"/>
<rect x="410.26" y="152.07" width="3.30" height="3.30" fill="#34d28e"/>
<rect x="413.54" y="152.52" width="3.30" height="3.30" fill="#34d28e"/>
<rect x="416.81" y="152.70" width="3.30" height="3.30" fill="#34d28e"/>
<rect x="420.08" y="164.05" width="3.30" height="3.30" fill="#34d28e"/>
<rect x="423.35" y="164.05" width="3.30" height="3.30" fill="#34d28e"/>
<rect x="426.62" y="164.05" width="3.30" height="3.30" fill="#34d28e"/>
<rect x="429.89" y="164.05" width="3.30" height="3.30" fill="#34d28e"/>
<rect x="433.16" y="164.05" width="3.30" height="3.30" fill="#34d28e"/>
<rect x="436.44" y="164.05" width="3.30" height="3.30" fill="#34d28e"/>
<rect x="439.71" y="164.05" width="3.30" height="3.30" fill="#34d28e"/>
<rect x="442.98" y="164.05" width="3.30" height="3.30" fill="#34d28e"/>
<rect x="446.25" y="164.05" width="3.30" height="3.30" fill="#34d28e"/>
<rect x="449.52" y="164.05" width="3.30" height="3.30" fill="#34d28e"/>
<rect x="452.79" y="166.26" width="3.30" height="3.30" fill="#34d28e"/>
<rect x="456.06" y="166.26" width="3.30" height="3.30" fill="#34d28e"/>
<rect x="459.34" y="166.26" width="3.30" height="3.30" fill="#34d28e"/>
<rect x="462.61" y="166.26" width="3.30" height="3.30" fill="#34d28e"/>
<rect x="465.88" y="166.26" width="3.30" height="3.30" fill="#34d28e"/>
<rect x="469.15" y="166.26" width="3.30" height="3.30" fill="#34d28e"/>
<rect x="472.42" y="166.26" width="3.30" height="3.30" fill="#34d28e"/>
<rect x="475.69" y="166.26" width="3.30" height="3.30" fill="#34d28e"/>
<rect x="478.96" y="166.26" width="3.30" height="3.30" fill="#34d28e"/>
<rect x="482.24" y="166.26" width="3.30" height="3.30" fill="#34d28e"/>
<rect x="485.51" y="172.03" width="3.30" height="3.30" fill="#34d28e"/>
<rect x="488.78" y="172.03" width="3.30" height="3.30" fill="#34d28e"/>
<rect x="492.05" y="172.03" width="3.30" height="3.30" fill="#34d28e"/>
<rect x="495.32" y="172.03" width="3.30" height="3.30" fill="#34d28e"/>
<rect x="498.59" y="172.03" width="3.30" height="3.30" fill="#34d28e"/>
<rect x="501.86" y="172.03" width="3.30" height="3.30" fill="#34d28e"/>
<rect x="505.14" y="172.03" width="3.30" height="3.30" fill="#34d28e"/>
<rect x="508.41" y="172.03" width="3.30" height="3.30" fill="#34d28e"/>
<rect x="511.68" y="172.03" width="3.30" height="3.30" fill="#34d28e"/>
<rect x="514.95" y="172.03" width="3.30" height="3.30" fill="#34d28e"/>
<rect x="518.22" y="32.79" width="3.30" height="3.30" fill="#34d28e"/>
<rect x="521.49" y="32.79" width="3.30" height="3.30" fill="#34d28e"/>
<rect x="524.76" y="32.79" width="3.30" height="3.30" fill="#34d28e"/>
<rect x="528.04" y="32.79" width="3.30" height="3.30" fill="#34d28e"/>
<rect x="531.31" y="32.79" width="3.30" height="3.30" fill="#34d28e"/>
<rect x="312.50" y="30.07" width="2.55" height="2.55" fill="none" stroke="#d81b60" stroke-width="0.95"/>
<rect x="315.77" y="30.07" width="2.55" height="2.55" fill="none" stroke="#d81b60" stroke-width="0.95"/>
<rect x="319.04" y="30.07" width="2.55" height="2.55" fill="none" stroke="#d81b60" stroke-width="0.95"/>
<rect x="322.31" y="34.50" width="2.55" height="2.55" fill="none" stroke="#d81b60" stroke-width="0.95"/>
<rect x="325.58" y="34.50" width="2.55" height="2.55" fill="none" stroke="#d81b60" stroke-width="0.95"/>
<rect x="328.85" y="34.50" width="2.55" height="2.55" fill="none" stroke="#d81b60" stroke-width="0.95"/>
<rect x="332.12" y="34.50" width="2.55" height="2.55" fill="none" stroke="#d81b60" stroke-width="0.95"/>
<rect x="335.40" y="34.50" width="2.55" height="2.55" fill="none" stroke="#d81b60" stroke-width="0.95"/>
<rect x="338.67" y="35.65" width="2.55" height="2.55" fill="none" stroke="#d81b60" stroke-width="0.95"/>
<rect x="341.94" y="35.65" width="2.55" height="2.55" fill="none" stroke="#d81b60" stroke-width="0.95"/>
<rect x="345.21" y="35.65" width="2.55" height="2.55" fill="none" stroke="#d81b60" stroke-width="0.95"/>
<rect x="348.48" y="35.65" width="2.55" height="2.55" fill="none" stroke="#d81b60" stroke-width="0.95"/>
<rect x="351.75" y="35.65" width="2.55" height="2.55" fill="none" stroke="#d81b60" stroke-width="0.95"/>
<rect x="355.03" y="44.70" width="2.55" height="2.55" fill="none" stroke="#d81b60" stroke-width="0.95"/>
<rect x="358.30" y="44.70" width="2.55" height="2.55" fill="none" stroke="#d81b60" stroke-width="0.95"/>
<rect x="361.57" y="44.70" width="2.55" height="2.55" fill="none" stroke="#d81b60" stroke-width="0.95"/>
<rect x="364.84" y="44.70" width="2.55" height="2.55" fill="none" stroke="#d81b60" stroke-width="0.95"/>
<rect x="368.11" y="44.70" width="2.55" height="2.55" fill="none" stroke="#d81b60" stroke-width="0.95"/>
<rect x="371.38" y="44.70" width="2.55" height="2.55" fill="none" stroke="#d81b60" stroke-width="0.95"/>
<rect x="374.65" y="44.70" width="2.55" height="2.55" fill="none" stroke="#d81b60" stroke-width="0.95"/>
<rect x="377.93" y="44.70" width="2.55" height="2.55" fill="none" stroke="#d81b60" stroke-width="0.95"/>
<rect x="381.20" y="44.70" width="2.55" height="2.55" fill="none" stroke="#d81b60" stroke-width="0.95"/>
<rect x="384.47" y="44.70" width="2.55" height="2.55" fill="none" stroke="#d81b60" stroke-width="0.95"/>
<rect x="387.74" y="63.06" width="2.55" height="2.55" fill="none" stroke="#d81b60" stroke-width="0.95"/>
<rect x="391.01" y="75.12" width="2.55" height="2.55" fill="none" stroke="#d81b60" stroke-width="0.95"/>
<rect x="394.28" y="80.17" width="2.55" height="2.55" fill="none" stroke="#d81b60" stroke-width="0.95"/>
<rect x="397.55" y="83.81" width="2.55" height="2.55" fill="none" stroke="#d81b60" stroke-width="0.95"/>
<rect x="400.83" y="85.32" width="2.55" height="2.55" fill="none" stroke="#d81b60" stroke-width="0.95"/>
<rect x="404.10" y="85.76" width="2.55" height="2.55" fill="none" stroke="#d81b60" stroke-width="0.95"/>
<rect x="407.37" y="87.27" width="2.55" height="2.55" fill="none" stroke="#d81b60" stroke-width="0.95"/>
<rect x="410.64" y="88.60" width="2.55" height="2.55" fill="none" stroke="#d81b60" stroke-width="0.95"/>
<rect x="413.91" y="88.95" width="2.55" height="2.55" fill="none" stroke="#d81b60" stroke-width="0.95"/>
<rect x="417.18" y="90.37" width="2.55" height="2.55" fill="none" stroke="#d81b60" stroke-width="0.95"/>
<rect x="420.45" y="151.12" width="2.55" height="2.55" fill="none" stroke="#d81b60" stroke-width="0.95"/>
<rect x="423.73" y="151.87" width="2.55" height="2.55" fill="none" stroke="#d81b60" stroke-width="0.95"/>
<rect x="427.00" y="152.62" width="2.55" height="2.55" fill="none" stroke="#d81b60" stroke-width="0.95"/>
<rect x="430.27" y="153.37" width="2.55" height="2.55" fill="none" stroke="#d81b60" stroke-width="0.95"/>
<rect x="433.54" y="154.12" width="2.55" height="2.55" fill="none" stroke="#d81b60" stroke-width="0.95"/>
<rect x="436.81" y="154.86" width="2.55" height="2.55" fill="none" stroke="#d81b60" stroke-width="0.95"/>
<rect x="440.08" y="155.61" width="2.55" height="2.55" fill="none" stroke="#d81b60" stroke-width="0.95"/>
<rect x="443.35" y="156.36" width="2.55" height="2.55" fill="none" stroke="#d81b60" stroke-width="0.95"/>
<rect x="446.62" y="157.11" width="2.55" height="2.55" fill="none" stroke="#d81b60" stroke-width="0.95"/>
<rect x="449.90" y="157.86" width="2.55" height="2.55" fill="none" stroke="#d81b60" stroke-width="0.95"/>
<rect x="453.17" y="161.41" width="2.55" height="2.55" fill="none" stroke="#d81b60" stroke-width="0.95"/>
<rect x="456.44" y="161.65" width="2.55" height="2.55" fill="none" stroke="#d81b60" stroke-width="0.95"/>
<rect x="459.71" y="161.90" width="2.55" height="2.55" fill="none" stroke="#d81b60" stroke-width="0.95"/>
<rect x="462.98" y="162.15" width="2.55" height="2.55" fill="none" stroke="#d81b60" stroke-width="0.95"/>
<rect x="466.25" y="162.39" width="2.55" height="2.55" fill="none" stroke="#d81b60" stroke-width="0.95"/>
<rect x="469.53" y="162.64" width="2.55" height="2.55" fill="none" stroke="#d81b60" stroke-width="0.95"/>
<rect x="472.80" y="162.89" width="2.55" height="2.55" fill="none" stroke="#d81b60" stroke-width="0.95"/>
<rect x="476.07" y="163.13" width="2.55" height="2.55" fill="none" stroke="#d81b60" stroke-width="0.95"/>
<rect x="479.34" y="163.38" width="2.55" height="2.55" fill="none" stroke="#d81b60" stroke-width="0.95"/>
<rect x="482.61" y="163.62" width="2.55" height="2.55" fill="none" stroke="#d81b60" stroke-width="0.95"/>
<rect x="495.70" y="168.32" width="2.55" height="2.55" fill="none" stroke="#d81b60" stroke-width="0.95"/>
<rect x="498.97" y="168.32" width="2.55" height="2.55" fill="none" stroke="#d81b60" stroke-width="0.95"/>
<rect x="502.24" y="168.32" width="2.55" height="2.55" fill="none" stroke="#d81b60" stroke-width="0.95"/>
<rect x="505.51" y="168.32" width="2.55" height="2.55" fill="none" stroke="#d81b60" stroke-width="0.95"/>
<rect x="508.78" y="168.32" width="2.55" height="2.55" fill="none" stroke="#d81b60" stroke-width="0.95"/>
<rect x="512.05" y="168.32" width="2.55" height="2.55" fill="none" stroke="#d81b60" stroke-width="0.95"/>
<rect x="515.33" y="168.32" width="2.55" height="2.55" fill="none" stroke="#d81b60" stroke-width="0.95"/>
<rect x="518.60" y="38.93" width="2.55" height="2.55" fill="none" stroke="#d81b60" stroke-width="0.95"/>
<rect x="521.87" y="38.93" width="2.55" height="2.55" fill="none" stroke="#d81b60" stroke-width="0.95"/>
<rect x="525.14" y="38.93" width="2.55" height="2.55" fill="none" stroke="#d81b60" stroke-width="0.95"/>
<rect x="528.41" y="38.93" width="2.55" height="2.55" fill="none" stroke="#d81b60" stroke-width="0.95"/>
<rect x="531.68" y="38.93" width="2.55" height="2.55" fill="none" stroke="#d81b60" stroke-width="0.95"/>
<rect x="312.50" y="28.29" width="2.55" height="2.55" fill="none" stroke="#ffa10e" stroke-width="0.95"/>
<rect x="315.77" y="28.29" width="2.55" height="2.55" fill="none" stroke="#ffa10e" stroke-width="0.95"/>
<rect x="319.04" y="28.29" width="2.55" height="2.55" fill="none" stroke="#ffa10e" stroke-width="0.95"/>
<rect x="322.31" y="30.95" width="2.55" height="2.55" fill="none" stroke="#ffa10e" stroke-width="0.95"/>
<rect x="325.58" y="30.95" width="2.55" height="2.55" fill="none" stroke="#ffa10e" stroke-width="0.95"/>
<rect x="328.85" y="30.95" width="2.55" height="2.55" fill="none" stroke="#ffa10e" stroke-width="0.95"/>
<rect x="332.12" y="30.95" width="2.55" height="2.55" fill="none" stroke="#ffa10e" stroke-width="0.95"/>
<rect x="335.40" y="30.95" width="2.55" height="2.55" fill="none" stroke="#ffa10e" stroke-width="0.95"/>
<rect x="338.67" y="39.64" width="2.55" height="2.55" fill="none" stroke="#ffa10e" stroke-width="0.95"/>
<rect x="341.94" y="39.64" width="2.55" height="2.55" fill="none" stroke="#ffa10e" stroke-width="0.95"/>
<rect x="345.21" y="39.64" width="2.55" height="2.55" fill="none" stroke="#ffa10e" stroke-width="0.95"/>
<rect x="348.48" y="39.64" width="2.55" height="2.55" fill="none" stroke="#ffa10e" stroke-width="0.95"/>
<rect x="351.75" y="39.64" width="2.55" height="2.55" fill="none" stroke="#ffa10e" stroke-width="0.95"/>
<rect x="355.03" y="47.18" width="2.55" height="2.55" fill="none" stroke="#ffa10e" stroke-width="0.95"/>
<rect x="358.30" y="49.40" width="2.55" height="2.55" fill="none" stroke="#ffa10e" stroke-width="0.95"/>
<rect x="361.57" y="50.11" width="2.55" height="2.55" fill="none" stroke="#ffa10e" stroke-width="0.95"/>
<rect x="364.84" y="50.91" width="2.55" height="2.55" fill="none" stroke="#ffa10e" stroke-width="0.95"/>
<rect x="368.11" y="51.62" width="2.55" height="2.55" fill="none" stroke="#ffa10e" stroke-width="0.95"/>
<rect x="371.38" y="52.15" width="2.55" height="2.55" fill="none" stroke="#ffa10e" stroke-width="0.95"/>
<rect x="374.65" y="52.68" width="2.55" height="2.55" fill="none" stroke="#ffa10e" stroke-width="0.95"/>
<rect x="377.93" y="53.39" width="2.55" height="2.55" fill="none" stroke="#ffa10e" stroke-width="0.95"/>
<rect x="381.20" y="54.10" width="2.55" height="2.55" fill="none" stroke="#ffa10e" stroke-width="0.95"/>
<rect x="384.47" y="54.90" width="2.55" height="2.55" fill="none" stroke="#ffa10e" stroke-width="0.95"/>
<rect x="387.74" y="103.23" width="2.55" height="2.55" fill="none" stroke="#ffa10e" stroke-width="0.95"/>
<rect x="391.01" y="107.93" width="2.55" height="2.55" fill="none" stroke="#ffa10e" stroke-width="0.95"/>
<rect x="394.28" y="116.36" width="2.55" height="2.55" fill="none" stroke="#ffa10e" stroke-width="0.95"/>
<rect x="397.55" y="119.55" width="2.55" height="2.55" fill="none" stroke="#ffa10e" stroke-width="0.95"/>
<rect x="400.83" y="122.39" width="2.55" height="2.55" fill="none" stroke="#ffa10e" stroke-width="0.95"/>
<rect x="404.10" y="123.63" width="2.55" height="2.55" fill="none" stroke="#ffa10e" stroke-width="0.95"/>
<rect x="407.37" y="123.63" width="2.55" height="2.55" fill="none" stroke="#ffa10e" stroke-width="0.95"/>
<rect x="410.64" y="122.74" width="2.55" height="2.55" fill="none" stroke="#ffa10e" stroke-width="0.95"/>
<rect x="413.91" y="121.77" width="2.55" height="2.55" fill="none" stroke="#ffa10e" stroke-width="0.95"/>
<rect x="417.18" y="122.03" width="2.55" height="2.55" fill="none" stroke="#ffa10e" stroke-width="0.95"/>
<rect x="420.45" y="163.18" width="2.55" height="2.55" fill="none" stroke="#ffa10e" stroke-width="0.95"/>
<rect x="423.73" y="163.18" width="2.55" height="2.55" fill="none" stroke="#ffa10e" stroke-width="0.95"/>
<rect x="427.00" y="163.18" width="2.55" height="2.55" fill="none" stroke="#ffa10e" stroke-width="0.95"/>
<rect x="430.27" y="163.18" width="2.55" height="2.55" fill="none" stroke="#ffa10e" stroke-width="0.95"/>
<rect x="433.54" y="163.18" width="2.55" height="2.55" fill="none" stroke="#ffa10e" stroke-width="0.95"/>
<rect x="436.81" y="163.18" width="2.55" height="2.55" fill="none" stroke="#ffa10e" stroke-width="0.95"/>
<rect x="440.08" y="163.18" width="2.55" height="2.55" fill="none" stroke="#ffa10e" stroke-width="0.95"/>
<rect x="443.35" y="163.18" width="2.55" height="2.55" fill="none" stroke="#ffa10e" stroke-width="0.95"/>
<rect x="446.62" y="163.18" width="2.55" height="2.55" fill="none" stroke="#ffa10e" stroke-width="0.95"/>
<rect x="449.90" y="163.18" width="2.55" height="2.55" fill="none" stroke="#ffa10e" stroke-width="0.95"/>
<rect x="453.17" y="166.20" width="2.55" height="2.55" fill="none" stroke="#ffa10e" stroke-width="0.95"/>
<rect x="456.44" y="166.20" width="2.55" height="2.55" fill="none" stroke="#ffa10e" stroke-width="0.95"/>
<rect x="459.71" y="166.20" width="2.55" height="2.55" fill="none" stroke="#ffa10e" stroke-width="0.95"/>
<rect x="462.98" y="166.20" width="2.55" height="2.55" fill="none" stroke="#ffa10e" stroke-width="0.95"/>
<rect x="466.25" y="166.20" width="2.55" height="2.55" fill="none" stroke="#ffa10e" stroke-width="0.95"/>
<rect x="469.53" y="166.20" width="2.55" height="2.55" fill="none" stroke="#ffa10e" stroke-width="0.95"/>
<rect x="472.80" y="166.20" width="2.55" height="2.55" fill="none" stroke="#ffa10e" stroke-width="0.95"/>
<rect x="476.07" y="166.20" width="2.55" height="2.55" fill="none" stroke="#ffa10e" stroke-width="0.95"/>
<rect x="479.34" y="166.20" width="2.55" height="2.55" fill="none" stroke="#ffa10e" stroke-width="0.95"/>
<rect x="482.61" y="166.20" width="2.55" height="2.55" fill="none" stroke="#ffa10e" stroke-width="0.95"/>
<rect x="485.88" y="171.52" width="2.55" height="2.55" fill="none" stroke="#ffa10e" stroke-width="0.95"/>
<rect x="489.15" y="171.52" width="2.55" height="2.55" fill="none" stroke="#ffa10e" stroke-width="0.95"/>
<rect x="492.43" y="171.52" width="2.55" height="2.55" fill="none" stroke="#ffa10e" stroke-width="0.95"/>
<rect x="495.70" y="171.52" width="2.55" height="2.55" fill="none" stroke="#ffa10e" stroke-width="0.95"/>
<rect x="498.97" y="171.52" width="2.55" height="2.55" fill="none" stroke="#ffa10e" stroke-width="0.95"/>
<rect x="502.24" y="171.52" width="2.55" height="2.55" fill="none" stroke="#ffa10e" stroke-width="0.95"/>
<rect x="505.51" y="171.52" width="2.55" height="2.55" fill="none" stroke="#ffa10e" stroke-width="0.95"/>
<rect x="508.78" y="171.52" width="2.55" height="2.55" fill="none" stroke="#ffa10e" stroke-width="0.95"/>
<rect x="512.05" y="171.52" width="2.55" height="2.55" fill="none" stroke="#ffa10e" stroke-width="0.95"/>
<rect x="515.33" y="171.52" width="2.55" height="2.55" fill="none" stroke="#ffa10e" stroke-width="0.95"/>
<rect x="518.60" y="35.83" width="2.55" height="2.55" fill="none" stroke="#ffa10e" stroke-width="0.95"/>
<rect x="521.87" y="35.83" width="2.55" height="2.55" fill="none" stroke="#ffa10e" stroke-width="0.95"/>
<rect x="525.14" y="35.83" width="2.55" height="2.55" fill="none" stroke="#ffa10e" stroke-width="0.95"/>
<rect x="528.41" y="35.83" width="2.55" height="2.55" fill="none" stroke="#ffa10e" stroke-width="0.95"/>
<rect x="531.68" y="35.83" width="2.55" height="2.55" fill="none" stroke="#ffa10e" stroke-width="0.95"/>
<rect x="312.50" y="24.48" width="2.55" height="2.55" fill="none" stroke="#34d28e" stroke-width="0.95"/>
<rect x="315.77" y="24.48" width="2.55" height="2.55" fill="none" stroke="#34d28e" stroke-width="0.95"/>
<rect x="319.04" y="24.48" width="2.55" height="2.55" fill="none" stroke="#34d28e" stroke-width="0.95"/>
<rect x="322.31" y="26.52" width="2.55" height="2.55" fill="none" stroke="#34d28e" stroke-width="0.95"/>
<rect x="325.58" y="26.52" width="2.55" height="2.55" fill="none" stroke="#34d28e" stroke-width="0.95"/>
<rect x="328.85" y="26.52" width="2.55" height="2.55" fill="none" stroke="#34d28e" stroke-width="0.95"/>
<rect x="332.12" y="26.52" width="2.55" height="2.55" fill="none" stroke="#34d28e" stroke-width="0.95"/>
<rect x="335.40" y="26.52" width="2.55" height="2.55" fill="none" stroke="#34d28e" stroke-width="0.95"/>
<rect x="338.67" y="28.74" width="2.55" height="2.55" fill="none" stroke="#34d28e" stroke-width="0.95"/>
<rect x="341.94" y="28.74" width="2.55" height="2.55" fill="none" stroke="#34d28e" stroke-width="0.95"/>
<rect x="345.21" y="28.74" width="2.55" height="2.55" fill="none" stroke="#34d28e" stroke-width="0.95"/>
<rect x="348.48" y="28.74" width="2.55" height="2.55" fill="none" stroke="#34d28e" stroke-width="0.95"/>
<rect x="351.75" y="28.74" width="2.55" height="2.55" fill="none" stroke="#34d28e" stroke-width="0.95"/>
<rect x="355.03" y="41.42" width="2.55" height="2.55" fill="none" stroke="#34d28e" stroke-width="0.95"/>
<rect x="358.30" y="41.42" width="2.55" height="2.55" fill="none" stroke="#34d28e" stroke-width="0.95"/>
<rect x="361.57" y="41.42" width="2.55" height="2.55" fill="none" stroke="#34d28e" stroke-width="0.95"/>
<rect x="364.84" y="41.42" width="2.55" height="2.55" fill="none" stroke="#34d28e" stroke-width="0.95"/>
<rect x="368.11" y="41.42" width="2.55" height="2.55" fill="none" stroke="#34d28e" stroke-width="0.95"/>
<rect x="371.38" y="41.42" width="2.55" height="2.55" fill="none" stroke="#34d28e" stroke-width="0.95"/>
<rect x="374.65" y="41.42" width="2.55" height="2.55" fill="none" stroke="#34d28e" stroke-width="0.95"/>
<rect x="377.93" y="41.42" width="2.55" height="2.55" fill="none" stroke="#34d28e" stroke-width="0.95"/>
<rect x="381.20" y="41.42" width="2.55" height="2.55" fill="none" stroke="#34d28e" stroke-width="0.95"/>
<rect x="384.47" y="41.42" width="2.55" height="2.55" fill="none" stroke="#34d28e" stroke-width="0.95"/>
<rect x="387.74" y="88.60" width="2.55" height="2.55" fill="none" stroke="#34d28e" stroke-width="0.95"/>
<rect x="391.01" y="103.23" width="2.55" height="2.55" fill="none" stroke="#34d28e" stroke-width="0.95"/>
<rect x="394.28" y="109.70" width="2.55" height="2.55" fill="none" stroke="#34d28e" stroke-width="0.95"/>
<rect x="397.55" y="113.43" width="2.55" height="2.55" fill="none" stroke="#34d28e" stroke-width="0.95"/>
<rect x="400.83" y="116.62" width="2.55" height="2.55" fill="none" stroke="#34d28e" stroke-width="0.95"/>
<rect x="404.10" y="119.55" width="2.55" height="2.55" fill="none" stroke="#34d28e" stroke-width="0.95"/>
<rect x="407.37" y="120.97" width="2.55" height="2.55" fill="none" stroke="#34d28e" stroke-width="0.95"/>
<rect x="410.64" y="122.39" width="2.55" height="2.55" fill="none" stroke="#34d28e" stroke-width="0.95"/>
<rect x="413.91" y="125.14" width="2.55" height="2.55" fill="none" stroke="#34d28e" stroke-width="0.95"/>
<rect x="417.18" y="126.55" width="2.55" height="2.55" fill="none" stroke="#34d28e" stroke-width="0.95"/>
<rect x="420.45" y="163.09" width="2.55" height="2.55" fill="none" stroke="#34d28e" stroke-width="0.95"/>
<rect x="423.73" y="163.09" width="2.55" height="2.55" fill="none" stroke="#34d28e" stroke-width="0.95"/>
<rect x="427.00" y="163.09" width="2.55" height="2.55" fill="none" stroke="#34d28e" stroke-width="0.95"/>
<rect x="430.27" y="163.09" width="2.55" height="2.55" fill="none" stroke="#34d28e" stroke-width="0.95"/>
<rect x="433.54" y="163.09" width="2.55" height="2.55" fill="none" stroke="#34d28e" stroke-width="0.95"/>
<rect x="436.81" y="163.09" width="2.55" height="2.55" fill="none" stroke="#34d28e" stroke-width="0.95"/>
<rect x="440.08" y="163.09" width="2.55" height="2.55" fill="none" stroke="#34d28e" stroke-width="0.95"/>
<rect x="443.35" y="163.09" width="2.55" height="2.55" fill="none" stroke="#34d28e" stroke-width="0.95"/>
<rect x="446.62" y="163.09" width="2.55" height="2.55" fill="none" stroke="#34d28e" stroke-width="0.95"/>
<rect x="449.90" y="163.09" width="2.55" height="2.55" fill="none" stroke="#34d28e" stroke-width="0.95"/>
<rect x="453.17" y="165.31" width="2.55" height="2.55" fill="none" stroke="#34d28e" stroke-width="0.95"/>
<rect x="456.44" y="165.31" width="2.55" height="2.55" fill="none" stroke="#34d28e" stroke-width="0.95"/>
<rect x="459.71" y="165.31" width="2.55" height="2.55" fill="none" stroke="#34d28e" stroke-width="0.95"/>
<rect x="462.98" y="165.31" width="2.55" height="2.55" fill="none" stroke="#34d28e" stroke-width="0.95"/>
<rect x="466.25" y="165.31" width="2.55" height="2.55" fill="none" stroke="#34d28e" stroke-width="0.95"/>
<rect x="469.53" y="165.31" width="2.55" height="2.55" fill="none" stroke="#34d28e" stroke-width="0.95"/>
<rect x="472.80" y="165.31" width="2.55" height="2.55" fill="none" stroke="#34d28e" stroke-width="0.95"/>
<rect x="476.07" y="165.31" width="2.55" height="2.55" fill="none" stroke="#34d28e" stroke-width="0.95"/>
<rect x="479.34" y="165.31" width="2.55" height="2.55" fill="none" stroke="#34d28e" stroke-width="0.95"/>
<rect x="482.61" y="165.31" width="2.55" height="2.55" fill="none" stroke="#34d28e" stroke-width="0.95"/>
<rect x="485.88" y="170.63" width="2.55" height="2.55" fill="none" stroke="#34d28e" stroke-width="0.95"/>
<rect x="489.15" y="170.63" width="2.55" height="2.55" fill="none" stroke="#34d28e" stroke-width="0.95"/>
<rect x="492.43" y="170.63" width="2.55" height="2.55" fill="none" stroke="#34d28e" stroke-width="0.95"/>
<rect x="495.70" y="170.63" width="2.55" height="2.55" fill="none" stroke="#34d28e" stroke-width="0.95"/>
<rect x="498.97" y="170.63" width="2.55" height="2.55" fill="none" stroke="#34d28e" stroke-width="0.95"/>
<rect x="502.24" y="170.63" width="2.55" height="2.55" fill="none" stroke="#34d28e" stroke-width="0.95"/>
<rect x="505.51" y="170.63" width="2.55" height="2.55" fill="none" stroke="#34d28e" stroke-width="0.95"/>
<rect x="508.78" y="170.63" width="2.55" height="2.55" fill="none" stroke="#34d28e" stroke-width="0.95"/>
<rect x="512.05" y="170.63" width="2.55" height="2.55" fill="none" stroke="#34d28e" stroke-width="0.95"/>
<rect x="515.33" y="170.63" width="2.55" height="2.55" fill="none" stroke="#34d28e" stroke-width="0.95"/>
<rect x="518.60" y="31.40" width="2.55" height="2.55" fill="none" stroke="#34d28e" stroke-width="0.95"/>
<rect x="521.87" y="31.40" width="2.55" height="2.55" fill="none" stroke="#34d28e" stroke-width="0.95"/>
<rect x="525.14" y="31.40" width="2.55" height="2.55" fill="none" stroke="#34d28e" stroke-width="0.95"/>
<rect x="528.41" y="31.40" width="2.55" height="2.55" fill="none" stroke="#34d28e" stroke-width="0.95"/>
<rect x="531.68" y="31.40" width="2.55" height="2.55" fill="none" stroke="#34d28e" stroke-width="0.95"/>
<rect x="310.50" y="10.50" width="229.00" height="168.50" fill="none" stroke="#262626" stroke-width="1.2"/>
<line x1="307.30" y1="179.00" x2="310.50" y2="179.00" stroke="#262626" stroke-width="1"/>
<text x="304.80" y="181.50" font-size="11" text-anchor="end" fill="#262626" stroke="#262626" stroke-width="0.18" font-family="'Liberation Serif', serif">0</text>
<line x1="308.70" y1="170.13" x2="310.50" y2="170.13" stroke="#262626" stroke-width="1"/>
<line x1="307.30" y1="161.26" x2="310.50" y2="161.26" stroke="#262626" stroke-width="1"/>
<text x="304.80" y="163.76" font-size="11" text-anchor="end" fill="#262626" stroke="#262626" stroke-width="0.18" font-family="'Liberation Serif', serif">20</text>
<line x1="308.70" y1="152.39" x2="310.50" y2="152.39" stroke="#262626" stroke-width="1"/>
<line x1="307.30" y1="143.53" x2="310.50" y2="143.53" stroke="#262626" stroke-width="1"/>
<text x="304.80" y="146.03" font-size="11" text-anchor="end" fill="#262626" stroke="#262626" stroke-width="0.18" font-family="'Liberation Serif', serif">40</text>
<line x1="308.70" y1="134.66" x2="310.50" y2="134.66" stroke="#262626" stroke-width="1"/>
<line x1="307.30" y1="125.79" x2="310.50" y2="125.79" stroke="#262626" stroke-width="1"/>
<text x="304.80" y="128.29" font-size="11" text-anchor="end" fill="#262626" stroke="#262626" stroke-width="0.18" font-family="'Liberation Serif', serif">60</text>
<line x1="308.70" y1="116.92" x2="310.50" y2="116.92" stroke="#262626" stroke-width="1"/>
<line x1="307.30" y1="108.05" x2="310.50" y2="108.05" stroke="#262626" stroke-width="1"/>
<text x="304.80" y="110.55" font-size="11" text-anchor="end" fill="#262626" stroke="#262626" stroke-width="0.18" font-family="'Liberation Serif', serif">80</text>
<line x1="308.70" y1="99.18" x2="310.50" y2="99.18" stroke="#262626" stroke-width="1"/>
<line x1="307.30" y1="90.32" x2="310.50" y2="90.32" stroke="#262626" stroke-width="1"/>
<text x="304.80" y="92.82" font-size="11" text-anchor="end" fill="#262626" stroke="#262626" stroke-width="0.18" font-family="'Liberation Serif', serif">100</text>
<line x1="308.70" y1="81.45" x2="310.50" y2="81.45" stroke="#262626" stroke-width="1"/>
<line x1="307.30" y1="72.58" x2="310.50" y2="72.58" stroke="#262626" stroke-width="1"/>
<text x="304.80" y="75.08" font-size="11" text-anchor="end" fill="#262626" stroke="#262626" stroke-width="0.18" font-family="'Liberation Serif', serif">120</text>
<line x1="308.70" y1="63.71" x2="310.50" y2="63.71" stroke="#262626" stroke-width="1"/>
<line x1="307.30" y1="54.84" x2="310.50" y2="54.84" stroke="#262626" stroke-width="1"/>
<text x="304.80" y="57.34" font-size="11" text-anchor="end" fill="#262626" stroke="#262626" stroke-width="0.18" font-family="'Liberation Serif', serif">140</text>
<line x1="308.70" y1="45.97" x2="310.50" y2="45.97" stroke="#262626" stroke-width="1"/>
<line x1="307.30" y1="37.11" x2="310.50" y2="37.11" stroke="#262626" stroke-width="1"/>
<text x="304.80" y="39.61" font-size="11" text-anchor="end" fill="#262626" stroke="#262626" stroke-width="0.18" font-family="'Liberation Serif', serif">160</text>
<line x1="308.70" y1="28.24" x2="310.50" y2="28.24" stroke="#262626" stroke-width="1"/>
<line x1="307.30" y1="19.37" x2="310.50" y2="19.37" stroke="#262626" stroke-width="1"/>
<text x="304.80" y="21.87" font-size="11" text-anchor="end" fill="#262626" stroke="#262626" stroke-width="0.18" font-family="'Liberation Serif', serif">180</text>
<line x1="310.50" y1="179.00" x2="310.50" y2="182.20" stroke="#262626" stroke-width="1"/>
<text x="310.50" y="192.50" font-size="11" text-anchor="middle" fill="#262626" stroke="#262626" stroke-width="0.18" font-family="'Liberation Serif', serif">0</text>
<line x1="326.86" y1="179.00" x2="326.86" y2="180.80" stroke="#262626" stroke-width="1"/>
<line x1="343.21" y1="179.00" x2="343.21" y2="182.20" stroke="#262626" stroke-width="1"/>
<text x="343.21" y="192.50" font-size="11" text-anchor="middle" fill="#262626" stroke="#262626" stroke-width="0.18" font-family="'Liberation Serif', serif">10</text>
<line x1="359.57" y1="179.00" x2="359.57" y2="180.80" stroke="#262626" stroke-width="1"/>
<line x1="375.93" y1="179.00" x2="375.93" y2="182.20" stroke="#262626" stroke-width="1"/>
<text x="375.93" y="192.50" font-size="11" text-anchor="middle" fill="#262626" stroke="#262626" stroke-width="0.18" font-family="'Liberation Serif', serif">20</text>
<line x1="392.29" y1="179.00" x2="392.29" y2="180.80" stroke="#262626" stroke-width="1"/>
<line x1="408.64" y1="179.00" x2="408.64" y2="182.20" stroke="#262626" stroke-width="1"/>
<text x="408.64" y="192.50" font-size="11" text-anchor="middle" fill="#262626" stroke="#262626" stroke-width="0.18" font-family="'Liberation Serif', serif">30</text>
<line x1="425.00" y1="179.00" x2="425.00" y2="180.80" stroke="#262626" stroke-width="1"/>
<line x1="441.36" y1="179.00" x2="441.36" y2="182.20" stroke="#262626" stroke-width="1"/>
<text x="441.36" y="192.50" font-size="11" text-anchor="middle" fill="#262626" stroke="#262626" stroke-width="0.18" font-family="'Liberation Serif', serif">40</text>
<line x1="457.71" y1="179.00" x2="457.71" y2="180.80" stroke="#262626" stroke-width="1"/>
<line x1="474.07" y1="179.00" x2="474.07" y2="182.20" stroke="#262626" stroke-width="1"/>
<text x="474.07" y="192.50" font-size="11" text-anchor="middle" fill="#262626" stroke="#262626" stroke-width="0.18" font-family="'Liberation Serif', serif">50</text>
<line x1="490.43" y1="179.00" x2="490.43" y2="180.80" stroke="#262626" stroke-width="1"/>
<line x1="506.79" y1="179.00" x2="506.79" y2="182.20" stroke="#262626" stroke-width="1"/>
<text x="506.79" y="192.50" font-size="11" text-anchor="middle" fill="#262626" stroke="#262626" stroke-width="0.18" font-family="'Liberation Serif', serif">60</text>
<line x1="523.14" y1="179.00" x2="523.14" y2="180.80" stroke="#262626" stroke-width="1"/>
<line x1="539.50" y1="179.00" x2="539.50" y2="182.20" stroke="#262626" stroke-width="1"/>
<text x="539.50" y="192.50" font-size="11" text-anchor="middle" fill="#262626" stroke="#262626" stroke-width="0.18" font-family="'Liberation Serif', serif">70</text>
<text x="0" y="0" transform="translate(283.70,95.05) rotate(-90)" font-size="11.9" text-anchor="middle" textLength="169.5" lengthAdjust="spacingAndGlyphs" fill="#262626" font-family="'Liberation Serif', serif">Specific discharge capacity (mAh/g)</text>
<text x="425.00" y="205.60" font-size="11.8" text-anchor="middle" textLength="66" lengthAdjust="spacingAndGlyphs" fill="#262626" font-family="'Liberation Serif', serif">Cycle number</text>
<text x="401.60" y="19.90" font-size="11.4" text-anchor="start" fill="#262626" stroke="#262626" stroke-width="0.18" font-family="'Liberation Serif', serif" textLength="48.3" lengthAdjust="spacingAndGlyphs">Thick-film</text>
<text x="320.80" y="22.20" font-size="11.4" text-anchor="start" fill="#262626" stroke="#262626" stroke-width="0.18" font-family="'Liberation Serif', serif" textLength="21.3" lengthAdjust="spacingAndGlyphs">C/10</text>
<text x="310.10" y="44.40" font-size="11.4" text-anchor="start" fill="#262626" stroke="#262626" stroke-width="0.18" font-family="'Liberation Serif', serif" textLength="22.2" lengthAdjust="spacingAndGlyphs">C/20</text>
<text x="341.50" y="26.40" font-size="11.4" text-anchor="start" fill="#262626" stroke="#262626" stroke-width="0.18" font-family="'Liberation Serif', serif" textLength="16.4" lengthAdjust="spacingAndGlyphs">C/5</text>
<text x="363.80" y="39.30" font-size="11.4" text-anchor="start" fill="#262626" stroke="#262626" stroke-width="0.18" font-family="'Liberation Serif', serif" textLength="16.7" lengthAdjust="spacingAndGlyphs">C/2</text>
<text x="397.30" y="82.00" font-size="11.4" text-anchor="start" fill="#262626" stroke="#262626" stroke-width="0.18" font-family="'Liberation Serif', serif" textLength="13.1" lengthAdjust="spacingAndGlyphs">1C</text>
<text x="430.10" y="153.00" font-size="11.4" text-anchor="start" fill="#262626" stroke="#262626" stroke-width="0.18" font-family="'Liberation Serif', serif" textLength="13.0" lengthAdjust="spacingAndGlyphs">2C</text>
<text x="463.10" y="160.50" font-size="11.4" text-anchor="start" fill="#262626" stroke="#262626" stroke-width="0.18" font-family="'Liberation Serif', serif" textLength="13.4" lengthAdjust="spacingAndGlyphs">3C</text>
<text x="495.50" y="166.40" font-size="11.4" text-anchor="start" fill="#262626" stroke="#262626" stroke-width="0.18" font-family="'Liberation Serif', serif" textLength="13.0" lengthAdjust="spacingAndGlyphs">5C</text>
<text x="517.80" y="28.90" font-size="11.4" text-anchor="start" fill="#262626" stroke="#262626" stroke-width="0.18" font-family="'Liberation Serif', serif" textLength="16.7" lengthAdjust="spacingAndGlyphs">C/5</text>
<rect x="461.35" y="56.55" width="3.50" height="3.50" fill="#d81b60"/>
<text x="471.60" y="62.40" font-size="11.4" text-anchor="start" fill="#262626" stroke="#262626" stroke-width="0.18" font-family="'Liberation Serif', serif" textLength="14.8" lengthAdjust="spacingAndGlyphs">TA</text>
<rect x="461.35" y="72.35" width="3.50" height="3.50" fill="#ffa10e"/>
<text x="471.60" y="78.20" font-size="11.4" text-anchor="start" fill="#262626" stroke="#262626" stroke-width="0.18" font-family="'Liberation Serif', serif" textLength="14.8" lengthAdjust="spacingAndGlyphs">BA</text>
<rect x="461.35" y="88.15" width="3.50" height="3.50" fill="#34d28e"/>
<text x="471.60" y="94.00" font-size="11.4" text-anchor="start" fill="#262626" stroke="#262626" stroke-width="0.18" font-family="'Liberation Serif', serif" textLength="13.8" lengthAdjust="spacingAndGlyphs">BT</text>
<rect x="461.83" y="104.42" width="2.55" height="2.55" fill="none" stroke="#d81b60" stroke-width="0.95"/>
<text x="471.60" y="109.80" font-size="11.4" text-anchor="start" fill="#262626" stroke="#262626" stroke-width="0.18" font-family="'Liberation Serif', serif" textLength="65.4" lengthAdjust="spacingAndGlyphs">TA-structured</text>
<rect x="461.83" y="120.22" width="2.55" height="2.55" fill="none" stroke="#ffa10e" stroke-width="0.95"/>
<text x="471.60" y="125.60" font-size="11.4" text-anchor="start" fill="#262626" stroke="#262626" stroke-width="0.18" font-family="'Liberation Serif', serif" textLength="65.4" lengthAdjust="spacingAndGlyphs">BA-structured</text>
<rect x="461.83" y="136.03" width="2.55" height="2.55" fill="none" stroke="#34d28e" stroke-width="0.95"/>
<text x="471.60" y="141.40" font-size="11.4" text-anchor="start" fill="#262626" stroke="#262626" stroke-width="0.18" font-family="'Liberation Serif', serif" textLength="65.4" lengthAdjust="spacingAndGlyphs">BT-structured</text>
<text x="279.10" y="198.80" font-size="11" text-anchor="start" fill="#262626" stroke="#262626" stroke-width="0.18" font-family="'Liberation Serif', serif" textLength="14.2" lengthAdjust="spacingAndGlyphs" font-weight="bold">(b)</text>
<rect x="40.77" y="218.98" width="3.60" height="3.60" fill="#f26a1e"/>
<rect x="44.05" y="218.45" width="3.60" height="3.60" fill="#f26a1e"/>
<rect x="47.32" y="217.91" width="3.60" height="3.60" fill="#f26a1e"/>
<rect x="50.59" y="223.40" width="3.60" height="3.60" fill="#f26a1e"/>
<rect x="53.86" y="223.40" width="3.60" height="3.60" fill="#f26a1e"/>
<rect x="57.14" y="223.40" width="3.60" height="3.60" fill="#f26a1e"/>
<rect x="60.41" y="223.40" width="3.60" height="3.60" fill="#f26a1e"/>
<rect x="63.68" y="223.40" width="3.60" height="3.60" fill="#f26a1e"/>
<rect x="66.96" y="225.88" width="3.60" height="3.60" fill="#f26a1e"/>
<rect x="70.23" y="225.88" width="3.60" height="3.60" fill="#f26a1e"/>
<rect x="73.50" y="225.88" width="3.60" height="3.60" fill="#f26a1e"/>
<rect x="76.77" y="225.88" width="3.60" height="3.60" fill="#f26a1e"/>
<rect x="80.05" y="225.88" width="3.60" height="3.60" fill="#f26a1e"/>
<rect x="83.32" y="257.40" width="3.60" height="3.60" fill="#f26a1e"/>
<rect x="86.59" y="281.39" width="3.60" height="3.60" fill="#f26a1e"/>
<rect x="89.87" y="289.36" width="3.60" height="3.60" fill="#f26a1e"/>
<rect x="93.14" y="292.37" width="3.60" height="3.60" fill="#f26a1e"/>
<rect x="96.41" y="293.07" width="3.60" height="3.60" fill="#f26a1e"/>
<rect x="99.68" y="292.99" width="3.60" height="3.60" fill="#f26a1e"/>
<rect x="102.96" y="292.54" width="3.60" height="3.60" fill="#f26a1e"/>
<rect x="106.23" y="291.66" width="3.60" height="3.60" fill="#f26a1e"/>
<rect x="109.50" y="289.89" width="3.60" height="3.60" fill="#f26a1e"/>
<rect x="112.78" y="287.94" width="3.60" height="3.60" fill="#f26a1e"/>
<rect x="119.32" y="324.06" width="3.60" height="3.60" fill="#f26a1e"/>
<rect x="122.59" y="332.82" width="3.60" height="3.60" fill="#f26a1e"/>
<rect x="125.87" y="337.25" width="3.60" height="3.60" fill="#f26a1e"/>
<rect x="129.14" y="340.79" width="3.60" height="3.60" fill="#f26a1e"/>
<rect x="132.41" y="344.33" width="3.60" height="3.60" fill="#f26a1e"/>
<rect x="135.69" y="346.10" width="3.60" height="3.60" fill="#f26a1e"/>
<rect x="138.96" y="347.43" width="3.60" height="3.60" fill="#f26a1e"/>
<rect x="142.23" y="348.31" width="3.60" height="3.60" fill="#f26a1e"/>
<rect x="145.50" y="348.85" width="3.60" height="3.60" fill="#f26a1e"/>
<rect x="148.78" y="364.87" width="3.60" height="3.60" fill="#f26a1e"/>
<rect x="152.05" y="364.93" width="3.60" height="3.60" fill="#f26a1e"/>
<rect x="155.32" y="364.99" width="3.60" height="3.60" fill="#f26a1e"/>
<rect x="158.60" y="365.05" width="3.60" height="3.60" fill="#f26a1e"/>
<rect x="161.87" y="365.10" width="3.60" height="3.60" fill="#f26a1e"/>
<rect x="165.14" y="365.16" width="3.60" height="3.60" fill="#f26a1e"/>
<rect x="168.41" y="365.22" width="3.60" height="3.60" fill="#f26a1e"/>
<rect x="171.69" y="365.28" width="3.60" height="3.60" fill="#f26a1e"/>
<rect x="174.96" y="365.34" width="3.60" height="3.60" fill="#f26a1e"/>
<rect x="178.23" y="365.40" width="3.60" height="3.60" fill="#f26a1e"/>
<rect x="181.51" y="366.46" width="3.60" height="3.60" fill="#f26a1e"/>
<rect x="184.78" y="366.56" width="3.60" height="3.60" fill="#f26a1e"/>
<rect x="188.05" y="366.66" width="3.60" height="3.60" fill="#f26a1e"/>
<rect x="191.32" y="366.76" width="3.60" height="3.60" fill="#f26a1e"/>
<rect x="194.60" y="366.86" width="3.60" height="3.60" fill="#f26a1e"/>
<rect x="197.87" y="366.95" width="3.60" height="3.60" fill="#f26a1e"/>
<rect x="201.14" y="367.05" width="3.60" height="3.60" fill="#f26a1e"/>
<rect x="204.42" y="367.15" width="3.60" height="3.60" fill="#f26a1e"/>
<rect x="207.69" y="367.25" width="3.60" height="3.60" fill="#f26a1e"/>
<rect x="210.96" y="367.35" width="3.60" height="3.60" fill="#f26a1e"/>
<rect x="214.23" y="372.48" width="3.60" height="3.60" fill="#f26a1e"/>
<rect x="217.51" y="372.48" width="3.60" height="3.60" fill="#f26a1e"/>
<rect x="220.78" y="372.48" width="3.60" height="3.60" fill="#f26a1e"/>
<rect x="224.05" y="372.48" width="3.60" height="3.60" fill="#f26a1e"/>
<rect x="227.33" y="372.48" width="3.60" height="3.60" fill="#f26a1e"/>
<rect x="230.60" y="372.48" width="3.60" height="3.60" fill="#f26a1e"/>
<rect x="233.87" y="372.48" width="3.60" height="3.60" fill="#f26a1e"/>
<rect x="237.14" y="372.48" width="3.60" height="3.60" fill="#f26a1e"/>
<rect x="240.42" y="372.48" width="3.60" height="3.60" fill="#f26a1e"/>
<rect x="243.69" y="372.48" width="3.60" height="3.60" fill="#f26a1e"/>
<rect x="246.96" y="229.25" width="3.60" height="3.60" fill="#f26a1e"/>
<rect x="250.24" y="229.25" width="3.60" height="3.60" fill="#f26a1e"/>
<rect x="253.51" y="229.25" width="3.60" height="3.60" fill="#f26a1e"/>
<rect x="256.78" y="229.25" width="3.60" height="3.60" fill="#f26a1e"/>
<rect x="260.05" y="229.25" width="3.60" height="3.60" fill="#f26a1e"/>
<rect x="40.77" y="219.69" width="3.60" height="3.60" fill="#f0383f"/>
<rect x="44.05" y="219.15" width="3.60" height="3.60" fill="#f0383f"/>
<rect x="47.32" y="218.62" width="3.60" height="3.60" fill="#f0383f"/>
<rect x="50.59" y="223.93" width="3.60" height="3.60" fill="#f0383f"/>
<rect x="53.86" y="223.93" width="3.60" height="3.60" fill="#f0383f"/>
<rect x="57.14" y="223.93" width="3.60" height="3.60" fill="#f0383f"/>
<rect x="60.41" y="223.93" width="3.60" height="3.60" fill="#f0383f"/>
<rect x="63.68" y="223.93" width="3.60" height="3.60" fill="#f0383f"/>
<rect x="66.96" y="226.15" width="3.60" height="3.60" fill="#f0383f"/>
<rect x="70.23" y="226.15" width="3.60" height="3.60" fill="#f0383f"/>
<rect x="73.50" y="226.15" width="3.60" height="3.60" fill="#f0383f"/>
<rect x="76.77" y="226.15" width="3.60" height="3.60" fill="#f0383f"/>
<rect x="80.05" y="226.15" width="3.60" height="3.60" fill="#f0383f"/>
<rect x="86.59" y="263.86" width="3.60" height="3.60" fill="#f0383f"/>
<rect x="89.87" y="269.97" width="3.60" height="3.60" fill="#f0383f"/>
<rect x="93.14" y="273.51" width="3.60" height="3.60" fill="#f0383f"/>
<rect x="96.41" y="274.84" width="3.60" height="3.60" fill="#f0383f"/>
<rect x="99.68" y="274.84" width="3.60" height="3.60" fill="#f0383f"/>
<rect x="102.96" y="274.39" width="3.60" height="3.60" fill="#f0383f"/>
<rect x="106.23" y="273.95" width="3.60" height="3.60" fill="#f0383f"/>
<rect x="109.50" y="273.51" width="3.60" height="3.60" fill="#f0383f"/>
<rect x="112.78" y="273.07" width="3.60" height="3.60" fill="#f0383f"/>
<rect x="116.05" y="328.48" width="3.60" height="3.60" fill="#f0383f"/>
<rect x="119.32" y="338.66" width="3.60" height="3.60" fill="#f0383f"/>
<rect x="122.59" y="341.59" width="3.60" height="3.60" fill="#f0383f"/>
<rect x="125.87" y="345.22" width="3.60" height="3.60" fill="#f0383f"/>
<rect x="129.14" y="346.99" width="3.60" height="3.60" fill="#f0383f"/>
<rect x="132.41" y="348.31" width="3.60" height="3.60" fill="#f0383f"/>
<rect x="135.69" y="349.20" width="3.60" height="3.60" fill="#f0383f"/>
<rect x="138.96" y="349.64" width="3.60" height="3.60" fill="#f0383f"/>
<rect x="142.23" y="350.08" width="3.60" height="3.60" fill="#f0383f"/>
<rect x="145.50" y="350.26" width="3.60" height="3.60" fill="#f0383f"/>
<rect x="148.78" y="368.68" width="3.60" height="3.60" fill="#f0383f"/>
<rect x="152.05" y="368.68" width="3.60" height="3.60" fill="#f0383f"/>
<rect x="155.32" y="368.68" width="3.60" height="3.60" fill="#f0383f"/>
<rect x="158.60" y="368.68" width="3.60" height="3.60" fill="#f0383f"/>
<rect x="161.87" y="368.68" width="3.60" height="3.60" fill="#f0383f"/>
<rect x="165.14" y="368.68" width="3.60" height="3.60" fill="#f0383f"/>
<rect x="168.41" y="368.68" width="3.60" height="3.60" fill="#f0383f"/>
<rect x="171.69" y="368.68" width="3.60" height="3.60" fill="#f0383f"/>
<rect x="174.96" y="368.68" width="3.60" height="3.60" fill="#f0383f"/>
<rect x="178.23" y="368.68" width="3.60" height="3.60" fill="#f0383f"/>
<rect x="181.51" y="370.00" width="3.60" height="3.60" fill="#f0383f"/>
<rect x="184.78" y="370.00" width="3.60" height="3.60" fill="#f0383f"/>
<rect x="188.05" y="370.00" width="3.60" height="3.60" fill="#f0383f"/>
<rect x="191.32" y="370.00" width="3.60" height="3.60" fill="#f0383f"/>
<rect x="194.60" y="370.00" width="3.60" height="3.60" fill="#f0383f"/>
<rect x="197.87" y="370.00" width="3.60" height="3.60" fill="#f0383f"/>
<rect x="201.14" y="370.00" width="3.60" height="3.60" fill="#f0383f"/>
<rect x="204.42" y="370.00" width="3.60" height="3.60" fill="#f0383f"/>
<rect x="207.69" y="370.00" width="3.60" height="3.60" fill="#f0383f"/>
<rect x="210.96" y="370.00" width="3.60" height="3.60" fill="#f0383f"/>
<rect x="214.23" y="373.99" width="3.60" height="3.60" fill="#f0383f"/>
<rect x="217.51" y="373.99" width="3.60" height="3.60" fill="#f0383f"/>
<rect x="220.78" y="373.99" width="3.60" height="3.60" fill="#f0383f"/>
<rect x="224.05" y="373.99" width="3.60" height="3.60" fill="#f0383f"/>
<rect x="227.33" y="373.99" width="3.60" height="3.60" fill="#f0383f"/>
<rect x="230.60" y="373.99" width="3.60" height="3.60" fill="#f0383f"/>
<rect x="233.87" y="373.99" width="3.60" height="3.60" fill="#f0383f"/>
<rect x="237.14" y="373.99" width="3.60" height="3.60" fill="#f0383f"/>
<rect x="240.42" y="373.99" width="3.60" height="3.60" fill="#f0383f"/>
<rect x="243.69" y="373.99" width="3.60" height="3.60" fill="#f0383f"/>
<rect x="246.96" y="231.02" width="3.60" height="3.60" fill="#f0383f"/>
<rect x="250.24" y="231.02" width="3.60" height="3.60" fill="#f0383f"/>
<rect x="253.51" y="231.02" width="3.60" height="3.60" fill="#f0383f"/>
<rect x="256.78" y="231.02" width="3.60" height="3.60" fill="#f0383f"/>
<rect x="260.05" y="231.02" width="3.60" height="3.60" fill="#f0383f"/>
<rect x="40.77" y="219.95" width="3.60" height="3.60" fill="#d5161f"/>
<rect x="44.05" y="219.42" width="3.60" height="3.60" fill="#d5161f"/>
<rect x="47.32" y="218.89" width="3.60" height="3.60" fill="#d5161f"/>
<rect x="50.59" y="224.11" width="3.60" height="3.60" fill="#d5161f"/>
<rect x="53.86" y="224.11" width="3.60" height="3.60" fill="#d5161f"/>
<rect x="57.14" y="224.11" width="3.60" height="3.60" fill="#d5161f"/>
<rect x="60.41" y="224.11" width="3.60" height="3.60" fill="#d5161f"/>
<rect x="63.68" y="224.11" width="3.60" height="3.60" fill="#d5161f"/>
<rect x="66.96" y="225.26" width="3.60" height="3.60" fill="#d5161f"/>
<rect x="70.23" y="225.26" width="3.60" height="3.60" fill="#d5161f"/>
<rect x="73.50" y="225.26" width="3.60" height="3.60" fill="#d5161f"/>
<rect x="76.77" y="225.26" width="3.60" height="3.60" fill="#d5161f"/>
<rect x="80.05" y="225.26" width="3.60" height="3.60" fill="#d5161f"/>
<rect x="83.32" y="237.92" width="3.60" height="3.60" fill="#d5161f"/>
<rect x="86.59" y="245.71" width="3.60" height="3.60" fill="#d5161f"/>
<rect x="89.87" y="251.55" width="3.60" height="3.60" fill="#d5161f"/>
<rect x="93.14" y="253.68" width="3.60" height="3.60" fill="#d5161f"/>
<rect x="96.41" y="254.39" width="3.60" height="3.60" fill="#d5161f"/>
<rect x="99.68" y="254.56" width="3.60" height="3.60" fill="#d5161f"/>
<rect x="102.96" y="254.74" width="3.60" height="3.60" fill="#d5161f"/>
<rect x="106.23" y="254.56" width="3.60" height="3.60" fill="#d5161f"/>
<rect x="109.50" y="254.21" width="3.60" height="3.60" fill="#d5161f"/>
<rect x="112.78" y="253.86" width="3.60" height="3.60" fill="#d5161f"/>
<rect x="116.05" y="308.74" width="3.60" height="3.60" fill="#d5161f"/>
<rect x="119.32" y="329.19" width="3.60" height="3.60" fill="#d5161f"/>
<rect x="122.59" y="330.61" width="3.60" height="3.60" fill="#d5161f"/>
<rect x="125.87" y="334.15" width="3.60" height="3.60" fill="#d5161f"/>
<rect x="129.14" y="335.92" width="3.60" height="3.60" fill="#d5161f"/>
<rect x="132.41" y="337.25" width="3.60" height="3.60" fill="#d5161f"/>
<rect x="135.69" y="337.96" width="3.60" height="3.60" fill="#d5161f"/>
<rect x="138.96" y="338.49" width="3.60" height="3.60" fill="#d5161f"/>
<rect x="142.23" y="338.84" width="3.60" height="3.60" fill="#d5161f"/>
<rect x="145.50" y="339.02" width="3.60" height="3.60" fill="#d5161f"/>
<rect x="148.78" y="365.13" width="3.60" height="3.60" fill="#d5161f"/>
<rect x="152.05" y="365.20" width="3.60" height="3.60" fill="#d5161f"/>
<rect x="155.32" y="365.27" width="3.60" height="3.60" fill="#d5161f"/>
<rect x="158.60" y="365.34" width="3.60" height="3.60" fill="#d5161f"/>
<rect x="161.87" y="365.41" width="3.60" height="3.60" fill="#d5161f"/>
<rect x="165.14" y="365.48" width="3.60" height="3.60" fill="#d5161f"/>
<rect x="168.41" y="365.55" width="3.60" height="3.60" fill="#d5161f"/>
<rect x="171.69" y="365.62" width="3.60" height="3.60" fill="#d5161f"/>
<rect x="174.96" y="365.69" width="3.60" height="3.60" fill="#d5161f"/>
<rect x="178.23" y="365.75" width="3.60" height="3.60" fill="#d5161f"/>
<rect x="181.51" y="366.90" width="3.60" height="3.60" fill="#d5161f"/>
<rect x="184.78" y="367.02" width="3.60" height="3.60" fill="#d5161f"/>
<rect x="188.05" y="367.14" width="3.60" height="3.60" fill="#d5161f"/>
<rect x="191.32" y="367.26" width="3.60" height="3.60" fill="#d5161f"/>
<rect x="194.60" y="367.38" width="3.60" height="3.60" fill="#d5161f"/>
<rect x="197.87" y="367.49" width="3.60" height="3.60" fill="#d5161f"/>
<rect x="201.14" y="367.61" width="3.60" height="3.60" fill="#d5161f"/>
<rect x="204.42" y="367.73" width="3.60" height="3.60" fill="#d5161f"/>
<rect x="207.69" y="367.85" width="3.60" height="3.60" fill="#d5161f"/>
<rect x="210.96" y="367.97" width="3.60" height="3.60" fill="#d5161f"/>
<rect x="214.23" y="373.37" width="3.60" height="3.60" fill="#d5161f"/>
<rect x="217.51" y="373.37" width="3.60" height="3.60" fill="#d5161f"/>
<rect x="220.78" y="373.37" width="3.60" height="3.60" fill="#d5161f"/>
<rect x="224.05" y="373.37" width="3.60" height="3.60" fill="#d5161f"/>
<rect x="227.33" y="373.37" width="3.60" height="3.60" fill="#d5161f"/>
<rect x="230.60" y="373.37" width="3.60" height="3.60" fill="#d5161f"/>
<rect x="233.87" y="373.37" width="3.60" height="3.60" fill="#d5161f"/>
<rect x="237.14" y="373.37" width="3.60" height="3.60" fill="#d5161f"/>
<rect x="240.42" y="373.37" width="3.60" height="3.60" fill="#d5161f"/>
<rect x="243.69" y="373.37" width="3.60" height="3.60" fill="#d5161f"/>
<rect x="246.96" y="230.13" width="3.60" height="3.60" fill="#d5161f"/>
<rect x="250.24" y="230.13" width="3.60" height="3.60" fill="#d5161f"/>
<rect x="253.51" y="230.13" width="3.60" height="3.60" fill="#d5161f"/>
<rect x="256.78" y="230.13" width="3.60" height="3.60" fill="#d5161f"/>
<rect x="260.05" y="230.13" width="3.60" height="3.60" fill="#d5161f"/>
<rect x="40.77" y="221.28" width="3.60" height="3.60" fill="#ebe71c"/>
<rect x="44.05" y="220.84" width="3.60" height="3.60" fill="#ebe71c"/>
<rect x="47.32" y="220.39" width="3.60" height="3.60" fill="#ebe71c"/>
<rect x="50.59" y="225.53" width="3.60" height="3.60" fill="#ebe71c"/>
<rect x="53.86" y="225.53" width="3.60" height="3.60" fill="#ebe71c"/>
<rect x="57.14" y="225.53" width="3.60" height="3.60" fill="#ebe71c"/>
<rect x="60.41" y="225.53" width="3.60" height="3.60" fill="#ebe71c"/>
<rect x="63.68" y="225.53" width="3.60" height="3.60" fill="#ebe71c"/>
<rect x="66.96" y="228.80" width="3.60" height="3.60" fill="#ebe71c"/>
<rect x="70.23" y="228.80" width="3.60" height="3.60" fill="#ebe71c"/>
<rect x="73.50" y="228.80" width="3.60" height="3.60" fill="#ebe71c"/>
<rect x="76.77" y="228.80" width="3.60" height="3.60" fill="#ebe71c"/>
<rect x="80.05" y="228.80" width="3.60" height="3.60" fill="#ebe71c"/>
<rect x="83.32" y="240.75" width="3.60" height="3.60" fill="#ebe71c"/>
<rect x="86.59" y="249.34" width="3.60" height="3.60" fill="#ebe71c"/>
<rect x="89.87" y="256.60" width="3.60" height="3.60" fill="#ebe71c"/>
<rect x="93.14" y="260.32" width="3.60" height="3.60" fill="#ebe71c"/>
<rect x="96.41" y="261.74" width="3.60" height="3.60" fill="#ebe71c"/>
<rect x="99.68" y="261.74" width="3.60" height="3.60" fill="#ebe71c"/>
<rect x="102.96" y="261.12" width="3.60" height="3.60" fill="#ebe71c"/>
<rect x="106.23" y="260.23" width="3.60" height="3.60" fill="#ebe71c"/>
<rect x="109.50" y="259.35" width="3.60" height="3.60" fill="#ebe71c"/>
<rect x="112.78" y="258.46" width="3.60" height="3.60" fill="#ebe71c"/>
<rect x="116.05" y="312.46" width="3.60" height="3.60" fill="#ebe71c"/>
<rect x="119.32" y="326.63" width="3.60" height="3.60" fill="#ebe71c"/>
<rect x="122.59" y="333.71" width="3.60" height="3.60" fill="#ebe71c"/>
<rect x="125.87" y="338.13" width="3.60" height="3.60" fill="#ebe71c"/>
<rect x="129.14" y="339.90" width="3.60" height="3.60" fill="#ebe71c"/>
<rect x="132.41" y="341.23" width="3.60" height="3.60" fill="#ebe71c"/>
<rect x="135.69" y="341.67" width="3.60" height="3.60" fill="#ebe71c"/>
<rect x="138.96" y="342.12" width="3.60" height="3.60" fill="#ebe71c"/>
<rect x="142.23" y="342.38" width="3.60" height="3.60" fill="#ebe71c"/>
<rect x="145.50" y="342.56" width="3.60" height="3.60" fill="#ebe71c"/>
<rect x="148.78" y="366.90" width="3.60" height="3.60" fill="#ebe71c"/>
<rect x="152.05" y="366.90" width="3.60" height="3.60" fill="#ebe71c"/>
<rect x="155.32" y="366.90" width="3.60" height="3.60" fill="#ebe71c"/>
<rect x="158.60" y="366.90" width="3.60" height="3.60" fill="#ebe71c"/>
<rect x="161.87" y="366.90" width="3.60" height="3.60" fill="#ebe71c"/>
<rect x="165.14" y="366.90" width="3.60" height="3.60" fill="#ebe71c"/>
<rect x="168.41" y="366.90" width="3.60" height="3.60" fill="#ebe71c"/>
<rect x="171.69" y="366.90" width="3.60" height="3.60" fill="#ebe71c"/>
<rect x="174.96" y="366.90" width="3.60" height="3.60" fill="#ebe71c"/>
<rect x="178.23" y="366.90" width="3.60" height="3.60" fill="#ebe71c"/>
<rect x="181.51" y="369.12" width="3.60" height="3.60" fill="#ebe71c"/>
<rect x="184.78" y="369.12" width="3.60" height="3.60" fill="#ebe71c"/>
<rect x="188.05" y="369.12" width="3.60" height="3.60" fill="#ebe71c"/>
<rect x="191.32" y="369.12" width="3.60" height="3.60" fill="#ebe71c"/>
<rect x="194.60" y="369.12" width="3.60" height="3.60" fill="#ebe71c"/>
<rect x="197.87" y="369.12" width="3.60" height="3.60" fill="#ebe71c"/>
<rect x="201.14" y="369.12" width="3.60" height="3.60" fill="#ebe71c"/>
<rect x="204.42" y="369.12" width="3.60" height="3.60" fill="#ebe71c"/>
<rect x="207.69" y="369.12" width="3.60" height="3.60" fill="#ebe71c"/>
<rect x="210.96" y="369.12" width="3.60" height="3.60" fill="#ebe71c"/>
<rect x="214.23" y="374.87" width="3.60" height="3.60" fill="#ebe71c"/>
<rect x="217.51" y="374.87" width="3.60" height="3.60" fill="#ebe71c"/>
<rect x="220.78" y="374.87" width="3.60" height="3.60" fill="#ebe71c"/>
<rect x="224.05" y="374.87" width="3.60" height="3.60" fill="#ebe71c"/>
<rect x="227.33" y="374.87" width="3.60" height="3.60" fill="#ebe71c"/>
<rect x="230.60" y="374.87" width="3.60" height="3.60" fill="#ebe71c"/>
<rect x="233.87" y="374.87" width="3.60" height="3.60" fill="#ebe71c"/>
<rect x="237.14" y="374.87" width="3.60" height="3.60" fill="#ebe71c"/>
<rect x="240.42" y="374.87" width="3.60" height="3.60" fill="#ebe71c"/>
<rect x="243.69" y="374.87" width="3.60" height="3.60" fill="#ebe71c"/>
<rect x="246.96" y="233.67" width="3.60" height="3.60" fill="#ebe71c"/>
<rect x="250.24" y="233.67" width="3.60" height="3.60" fill="#ebe71c"/>
<rect x="253.51" y="233.67" width="3.60" height="3.60" fill="#ebe71c"/>
<rect x="256.78" y="233.67" width="3.60" height="3.60" fill="#ebe71c"/>
<rect x="260.05" y="233.67" width="3.60" height="3.60" fill="#ebe71c"/>
<rect x="40.77" y="220.84" width="3.60" height="3.60" fill="#b1b519"/>
<rect x="44.05" y="220.22" width="3.60" height="3.60" fill="#b1b519"/>
<rect x="47.32" y="219.51" width="3.60" height="3.60" fill="#b1b519"/>
<rect x="50.59" y="225.17" width="3.60" height="3.60" fill="#b1b519"/>
<rect x="53.86" y="225.17" width="3.60" height="3.60" fill="#b1b519"/>
<rect x="57.14" y="225.17" width="3.60" height="3.60" fill="#b1b519"/>
<rect x="60.41" y="225.17" width="3.60" height="3.60" fill="#b1b519"/>
<rect x="63.68" y="225.17" width="3.60" height="3.60" fill="#b1b519"/>
<rect x="66.96" y="230.13" width="3.60" height="3.60" fill="#b1b519"/>
<rect x="70.23" y="230.13" width="3.60" height="3.60" fill="#b1b519"/>
<rect x="73.50" y="230.13" width="3.60" height="3.60" fill="#b1b519"/>
<rect x="76.77" y="230.13" width="3.60" height="3.60" fill="#b1b519"/>
<rect x="80.05" y="230.13" width="3.60" height="3.60" fill="#b1b519"/>
<rect x="83.32" y="245.71" width="3.60" height="3.60" fill="#b1b519"/>
<rect x="89.87" y="271.74" width="3.60" height="3.60" fill="#b1b519"/>
<rect x="93.14" y="274.04" width="3.60" height="3.60" fill="#b1b519"/>
<rect x="96.41" y="277.05" width="3.60" height="3.60" fill="#b1b519"/>
<rect x="99.68" y="277.05" width="3.60" height="3.60" fill="#b1b519"/>
<rect x="102.96" y="276.61" width="3.60" height="3.60" fill="#b1b519"/>
<rect x="106.23" y="276.17" width="3.60" height="3.60" fill="#b1b519"/>
<rect x="109.50" y="275.72" width="3.60" height="3.60" fill="#b1b519"/>
<rect x="112.78" y="275.28" width="3.60" height="3.60" fill="#b1b519"/>
<rect x="116.05" y="316.00" width="3.60" height="3.60" fill="#b1b519"/>
<rect x="119.32" y="326.98" width="3.60" height="3.60" fill="#b1b519"/>
<rect x="122.59" y="334.59" width="3.60" height="3.60" fill="#b1b519"/>
<rect x="125.87" y="339.90" width="3.60" height="3.60" fill="#b1b519"/>
<rect x="129.14" y="342.56" width="3.60" height="3.60" fill="#b1b519"/>
<rect x="132.41" y="343.89" width="3.60" height="3.60" fill="#b1b519"/>
<rect x="135.69" y="344.33" width="3.60" height="3.60" fill="#b1b519"/>
<rect x="138.96" y="344.51" width="3.60" height="3.60" fill="#b1b519"/>
<rect x="142.23" y="344.68" width="3.60" height="3.60" fill="#b1b519"/>
<rect x="145.50" y="344.77" width="3.60" height="3.60" fill="#b1b519"/>
<rect x="148.78" y="367.52" width="3.60" height="3.60" fill="#b1b519"/>
<rect x="152.05" y="367.52" width="3.60" height="3.60" fill="#b1b519"/>
<rect x="155.32" y="367.52" width="3.60" height="3.60" fill="#b1b519"/>
<rect x="158.60" y="367.52" width="3.60" height="3.60" fill="#b1b519"/>
<rect x="161.87" y="367.52" width="3.60" height="3.60" fill="#b1b519"/>
<rect x="165.14" y="367.52" width="3.60" height="3.60" fill="#b1b519"/>
<rect x="168.41" y="367.52" width="3.60" height="3.60" fill="#b1b519"/>
<rect x="171.69" y="367.52" width="3.60" height="3.60" fill="#b1b519"/>
<rect x="174.96" y="367.52" width="3.60" height="3.60" fill="#b1b519"/>
<rect x="178.23" y="367.52" width="3.60" height="3.60" fill="#b1b519"/>
<rect x="181.51" y="369.56" width="3.60" height="3.60" fill="#b1b519"/>
<rect x="184.78" y="369.56" width="3.60" height="3.60" fill="#b1b519"/>
<rect x="188.05" y="369.56" width="3.60" height="3.60" fill="#b1b519"/>
<rect x="191.32" y="369.56" width="3.60" height="3.60" fill="#b1b519"/>
<rect x="194.60" y="369.56" width="3.60" height="3.60" fill="#b1b519"/>
<rect x="197.87" y="369.56" width="3.60" height="3.60" fill="#b1b519"/>
<rect x="201.14" y="369.56" width="3.60" height="3.60" fill="#b1b519"/>
<rect x="204.42" y="369.56" width="3.60" height="3.60" fill="#b1b519"/>
<rect x="207.69" y="369.56" width="3.60" height="3.60" fill="#b1b519"/>
<rect x="210.96" y="369.56" width="3.60" height="3.60" fill="#b1b519"/>
<rect x="214.23" y="374.87" width="3.60" height="3.60" fill="#b1b519"/>
<rect x="217.51" y="374.87" width="3.60" height="3.60" fill="#b1b519"/>
<rect x="220.78" y="374.87" width="3.60" height="3.60" fill="#b1b519"/>
<rect x="224.05" y="374.87" width="3.60" height="3.60" fill="#b1b519"/>
<rect x="227.33" y="374.87" width="3.60" height="3.60" fill="#b1b519"/>
<rect x="230.60" y="374.87" width="3.60" height="3.60" fill="#b1b519"/>
<rect x="233.87" y="374.87" width="3.60" height="3.60" fill="#b1b519"/>
<rect x="237.14" y="374.87" width="3.60" height="3.60" fill="#b1b519"/>
<rect x="240.42" y="374.87" width="3.60" height="3.60" fill="#b1b519"/>
<rect x="243.69" y="374.87" width="3.60" height="3.60" fill="#b1b519"/>
<rect x="246.96" y="232.79" width="3.60" height="3.60" fill="#b1b519"/>
<rect x="250.24" y="232.79" width="3.60" height="3.60" fill="#b1b519"/>
<rect x="253.51" y="232.79" width="3.60" height="3.60" fill="#b1b519"/>
<rect x="256.78" y="232.79" width="3.60" height="3.60" fill="#b1b519"/>
<rect x="260.05" y="232.79" width="3.60" height="3.60" fill="#b1b519"/>
<rect x="40.77" y="220.22" width="3.60" height="3.60" fill="#4f9b1b"/>
<rect x="44.05" y="219.69" width="3.60" height="3.60" fill="#4f9b1b"/>
<rect x="47.32" y="219.15" width="3.60" height="3.60" fill="#4f9b1b"/>
<rect x="50.59" y="224.55" width="3.60" height="3.60" fill="#4f9b1b"/>
<rect x="53.86" y="224.55" width="3.60" height="3.60" fill="#4f9b1b"/>
<rect x="57.14" y="224.55" width="3.60" height="3.60" fill="#4f9b1b"/>
<rect x="60.41" y="224.55" width="3.60" height="3.60" fill="#4f9b1b"/>
<rect x="63.68" y="224.55" width="3.60" height="3.60" fill="#4f9b1b"/>
<rect x="66.96" y="224.55" width="3.60" height="3.60" fill="#4f9b1b"/>
<rect x="70.23" y="224.55" width="3.60" height="3.60" fill="#4f9b1b"/>
<rect x="73.50" y="224.55" width="3.60" height="3.60" fill="#4f9b1b"/>
<rect x="76.77" y="224.55" width="3.60" height="3.60" fill="#4f9b1b"/>
<rect x="80.05" y="224.55" width="3.60" height="3.60" fill="#4f9b1b"/>
<rect x="83.32" y="245.71" width="3.60" height="3.60" fill="#4f9b1b"/>
<rect x="86.59" y="261.03" width="3.60" height="3.60" fill="#4f9b1b"/>
<rect x="89.87" y="268.99" width="3.60" height="3.60" fill="#4f9b1b"/>
<rect x="93.14" y="271.92" width="3.60" height="3.60" fill="#4f9b1b"/>
<rect x="96.41" y="273.42" width="3.60" height="3.60" fill="#4f9b1b"/>
<rect x="99.68" y="273.07" width="3.60" height="3.60" fill="#4f9b1b"/>
<rect x="102.96" y="272.62" width="3.60" height="3.60" fill="#4f9b1b"/>
<rect x="106.23" y="272.18" width="3.60" height="3.60" fill="#4f9b1b"/>
<rect x="109.50" y="271.74" width="3.60" height="3.60" fill="#4f9b1b"/>
<rect x="112.78" y="271.21" width="3.60" height="3.60" fill="#4f9b1b"/>
<rect x="116.05" y="317.77" width="3.60" height="3.60" fill="#4f9b1b"/>
<rect x="119.32" y="330.17" width="3.60" height="3.60" fill="#4f9b1b"/>
<rect x="122.59" y="331.41" width="3.60" height="3.60" fill="#4f9b1b"/>
<rect x="125.87" y="335.48" width="3.60" height="3.60" fill="#4f9b1b"/>
<rect x="129.14" y="337.25" width="3.60" height="3.60" fill="#4f9b1b"/>
<rect x="132.41" y="338.58" width="3.60" height="3.60" fill="#4f9b1b"/>
<rect x="135.69" y="339.20" width="3.60" height="3.60" fill="#4f9b1b"/>
<rect x="138.96" y="339.73" width="3.60" height="3.60" fill="#4f9b1b"/>
<rect x="142.23" y="340.08" width="3.60" height="3.60" fill="#4f9b1b"/>
<rect x="145.50" y="340.35" width="3.60" height="3.60" fill="#4f9b1b"/>
<rect x="148.78" y="366.20" width="3.60" height="3.60" fill="#4f9b1b"/>
<rect x="152.05" y="366.20" width="3.60" height="3.60" fill="#4f9b1b"/>
<rect x="155.32" y="366.20" width="3.60" height="3.60" fill="#4f9b1b"/>
<rect x="158.60" y="366.20" width="3.60" height="3.60" fill="#4f9b1b"/>
<rect x="161.87" y="366.20" width="3.60" height="3.60" fill="#4f9b1b"/>
<rect x="165.14" y="366.20" width="3.60" height="3.60" fill="#4f9b1b"/>
<rect x="168.41" y="366.20" width="3.60" height="3.60" fill="#4f9b1b"/>
<rect x="171.69" y="366.20" width="3.60" height="3.60" fill="#4f9b1b"/>
<rect x="174.96" y="366.20" width="3.60" height="3.60" fill="#4f9b1b"/>
<rect x="178.23" y="366.20" width="3.60" height="3.60" fill="#4f9b1b"/>
<rect x="181.51" y="368.50" width="3.60" height="3.60" fill="#4f9b1b"/>
<rect x="184.78" y="368.50" width="3.60" height="3.60" fill="#4f9b1b"/>
<rect x="188.05" y="368.50" width="3.60" height="3.60" fill="#4f9b1b"/>
<rect x="191.32" y="368.50" width="3.60" height="3.60" fill="#4f9b1b"/>
<rect x="194.60" y="368.50" width="3.60" height="3.60" fill="#4f9b1b"/>
<rect x="197.87" y="368.50" width="3.60" height="3.60" fill="#4f9b1b"/>
<rect x="201.14" y="368.50" width="3.60" height="3.60" fill="#4f9b1b"/>
<rect x="204.42" y="368.50" width="3.60" height="3.60" fill="#4f9b1b"/>
<rect x="207.69" y="368.50" width="3.60" height="3.60" fill="#4f9b1b"/>
<rect x="210.96" y="368.50" width="3.60" height="3.60" fill="#4f9b1b"/>
<rect x="214.23" y="374.25" width="3.60" height="3.60" fill="#4f9b1b"/>
<rect x="217.51" y="374.25" width="3.60" height="3.60" fill="#4f9b1b"/>
<rect x="220.78" y="374.25" width="3.60" height="3.60" fill="#4f9b1b"/>
<rect x="224.05" y="374.25" width="3.60" height="3.60" fill="#4f9b1b"/>
<rect x="227.33" y="374.25" width="3.60" height="3.60" fill="#4f9b1b"/>
<rect x="230.60" y="374.25" width="3.60" height="3.60" fill="#4f9b1b"/>
<rect x="233.87" y="374.25" width="3.60" height="3.60" fill="#4f9b1b"/>
<rect x="237.14" y="374.25" width="3.60" height="3.60" fill="#4f9b1b"/>
<rect x="240.42" y="374.25" width="3.60" height="3.60" fill="#4f9b1b"/>
<rect x="243.69" y="374.25" width="3.60" height="3.60" fill="#4f9b1b"/>
<rect x="246.96" y="227.48" width="3.60" height="3.60" fill="#4f9b1b"/>
<rect x="250.24" y="227.48" width="3.60" height="3.60" fill="#4f9b1b"/>
<rect x="253.51" y="227.48" width="3.60" height="3.60" fill="#4f9b1b"/>
<rect x="256.78" y="227.48" width="3.60" height="3.60" fill="#4f9b1b"/>
<rect x="260.05" y="227.48" width="3.60" height="3.60" fill="#4f9b1b"/>
<rect x="39.30" y="209.80" width="229.10" height="168.20" fill="none" stroke="#262626" stroke-width="1.2"/>
<line x1="36.10" y1="378.00" x2="39.30" y2="378.00" stroke="#262626" stroke-width="1"/>
<text x="33.60" y="380.50" font-size="11" text-anchor="end" fill="#262626" stroke="#262626" stroke-width="0.18" font-family="'Liberation Serif', serif">0</text>
<line x1="37.50" y1="369.15" x2="39.30" y2="369.15" stroke="#262626" stroke-width="1"/>
<line x1="36.10" y1="360.29" x2="39.30" y2="360.29" stroke="#262626" stroke-width="1"/>
<text x="33.60" y="362.79" font-size="11" text-anchor="end" fill="#262626" stroke="#262626" stroke-width="0.18" font-family="'Liberation Serif', serif">20</text>
<line x1="37.50" y1="351.44" x2="39.30" y2="351.44" stroke="#262626" stroke-width="1"/>
<line x1="36.10" y1="342.59" x2="39.30" y2="342.59" stroke="#262626" stroke-width="1"/>
<text x="33.60" y="345.09" font-size="11" text-anchor="end" fill="#262626" stroke="#262626" stroke-width="0.18" font-family="'Liberation Serif', serif">40</text>
<line x1="37.50" y1="333.74" x2="39.30" y2="333.74" stroke="#262626" stroke-width="1"/>
<line x1="36.10" y1="324.88" x2="39.30" y2="324.88" stroke="#262626" stroke-width="1"/>
<text x="33.60" y="327.38" font-size="11" text-anchor="end" fill="#262626" stroke="#262626" stroke-width="0.18" font-family="'Liberation Serif', serif">60</text>
<line x1="37.50" y1="316.03" x2="39.30" y2="316.03" stroke="#262626" stroke-width="1"/>
<line x1="36.10" y1="307.18" x2="39.30" y2="307.18" stroke="#262626" stroke-width="1"/>
<text x="33.60" y="309.68" font-size="11" text-anchor="end" fill="#262626" stroke="#262626" stroke-width="0.18" font-family="'Liberation Serif', serif">80</text>
<line x1="37.50" y1="298.33" x2="39.30" y2="298.33" stroke="#262626" stroke-width="1"/>
<line x1="36.10" y1="289.47" x2="39.30" y2="289.47" stroke="#262626" stroke-width="1"/>
<text x="33.60" y="291.97" font-size="11" text-anchor="end" fill="#262626" stroke="#262626" stroke-width="0.18" font-family="'Liberation Serif', serif">100</text>
<line x1="37.50" y1="280.62" x2="39.30" y2="280.62" stroke="#262626" stroke-width="1"/>
<line x1="36.10" y1="271.77" x2="39.30" y2="271.77" stroke="#262626" stroke-width="1"/>
<text x="33.60" y="274.27" font-size="11" text-anchor="end" fill="#262626" stroke="#262626" stroke-width="0.18" font-family="'Liberation Serif', serif">120</text>
<line x1="37.50" y1="262.92" x2="39.30" y2="262.92" stroke="#262626" stroke-width="1"/>
<line x1="36.10" y1="254.06" x2="39.30" y2="254.06" stroke="#262626" stroke-width="1"/>
<text x="33.60" y="256.56" font-size="11" text-anchor="end" fill="#262626" stroke="#262626" stroke-width="0.18" font-family="'Liberation Serif', serif">140</text>
<line x1="37.50" y1="245.21" x2="39.30" y2="245.21" stroke="#262626" stroke-width="1"/>
<line x1="36.10" y1="236.36" x2="39.30" y2="236.36" stroke="#262626" stroke-width="1"/>
<text x="33.60" y="238.86" font-size="11" text-anchor="end" fill="#262626" stroke="#262626" stroke-width="0.18" font-family="'Liberation Serif', serif">160</text>
<line x1="37.50" y1="227.51" x2="39.30" y2="227.51" stroke="#262626" stroke-width="1"/>
<line x1="36.10" y1="218.65" x2="39.30" y2="218.65" stroke="#262626" stroke-width="1"/>
<text x="33.60" y="221.15" font-size="11" text-anchor="end" fill="#262626" stroke="#262626" stroke-width="0.18" font-family="'Liberation Serif', serif">180</text>
<line x1="39.30" y1="378.00" x2="39.30" y2="381.20" stroke="#262626" stroke-width="1"/>
<text x="39.30" y="391.50" font-size="11" text-anchor="middle" fill="#262626" stroke="#262626" stroke-width="0.18" font-family="'Liberation Serif', serif">0</text>
<line x1="55.66" y1="378.00" x2="55.66" y2="379.80" stroke="#262626" stroke-width="1"/>
<line x1="72.03" y1="378.00" x2="72.03" y2="381.20" stroke="#262626" stroke-width="1"/>
<text x="72.03" y="391.50" font-size="11" text-anchor="middle" fill="#262626" stroke="#262626" stroke-width="0.18" font-family="'Liberation Serif', serif">10</text>
<line x1="88.39" y1="378.00" x2="88.39" y2="379.80" stroke="#262626" stroke-width="1"/>
<line x1="104.76" y1="378.00" x2="104.76" y2="381.20" stroke="#262626" stroke-width="1"/>
<text x="104.76" y="391.50" font-size="11" text-anchor="middle" fill="#262626" stroke="#262626" stroke-width="0.18" font-family="'Liberation Serif', serif">20</text>
<line x1="121.12" y1="378.00" x2="121.12" y2="379.80" stroke="#262626" stroke-width="1"/>
<line x1="137.49" y1="378.00" x2="137.49" y2="381.20" stroke="#262626" stroke-width="1"/>
<text x="137.49" y="391.50" font-size="11" text-anchor="middle" fill="#262626" stroke="#262626" stroke-width="0.18" font-family="'Liberation Serif', serif">30</text>
<line x1="153.85" y1="378.00" x2="153.85" y2="379.80" stroke="#262626" stroke-width="1"/>
<line x1="170.21" y1="378.00" x2="170.21" y2="381.20" stroke="#262626" stroke-width="1"/>
<text x="170.21" y="391.50" font-size="11" text-anchor="middle" fill="#262626" stroke="#262626" stroke-width="0.18" font-family="'Liberation Serif', serif">40</text>
<line x1="186.58" y1="378.00" x2="186.58" y2="379.80" stroke="#262626" stroke-width="1"/>
<line x1="202.94" y1="378.00" x2="202.94" y2="381.20" stroke="#262626" stroke-width="1"/>
<text x="202.94" y="391.50" font-size="11" text-anchor="middle" fill="#262626" stroke="#262626" stroke-width="0.18" font-family="'Liberation Serif', serif">50</text>
<line x1="219.31" y1="378.00" x2="219.31" y2="379.80" stroke="#262626" stroke-width="1"/>
<line x1="235.67" y1="378.00" x2="235.67" y2="381.20" stroke="#262626" stroke-width="1"/>
<text x="235.67" y="391.50" font-size="11" text-anchor="middle" fill="#262626" stroke="#262626" stroke-width="0.18" font-family="'Liberation Serif', serif">60</text>
<line x1="252.04" y1="378.00" x2="252.04" y2="379.80" stroke="#262626" stroke-width="1"/>
<line x1="268.40" y1="378.00" x2="268.40" y2="381.20" stroke="#262626" stroke-width="1"/>
<text x="268.40" y="391.50" font-size="11" text-anchor="middle" fill="#262626" stroke="#262626" stroke-width="0.18" font-family="'Liberation Serif', serif">70</text>
<text x="0" y="0" transform="translate(12.50,294.20) rotate(-90)" font-size="11.9" text-anchor="middle" textLength="169.5" lengthAdjust="spacingAndGlyphs" fill="#262626" font-family="'Liberation Serif', serif">Specific discharge capacity (mAh/g)</text>
<text x="153.85" y="405.70" font-size="11.8" text-anchor="middle" textLength="66" lengthAdjust="spacingAndGlyphs" fill="#262626" font-family="'Liberation Serif', serif">Cycle number</text>
<text x="129.20" y="219.30" font-size="11.4" text-anchor="start" fill="#262626" stroke="#262626" stroke-width="0.18" font-family="'Liberation Serif', serif" textLength="48.9" lengthAdjust="spacingAndGlyphs">Thick-film</text>
<text x="49.60" y="220.80" font-size="11.4" text-anchor="start" fill="#262626" stroke="#262626" stroke-width="0.18" font-family="'Liberation Serif', serif" textLength="21.5" lengthAdjust="spacingAndGlyphs">C/10</text>
<text x="38.90" y="236.80" font-size="11.4" text-anchor="start" fill="#262626" stroke="#262626" stroke-width="0.18" font-family="'Liberation Serif', serif" textLength="21.8" lengthAdjust="spacingAndGlyphs">C/20</text>
<text x="70.00" y="221.50" font-size="11.4" text-anchor="start" fill="#262626" stroke="#262626" stroke-width="0.18" font-family="'Liberation Serif', serif" textLength="18.0" lengthAdjust="spacingAndGlyphs">C/5</text>
<text x="93.90" y="252.40" font-size="11.4" text-anchor="start" fill="#262626" stroke="#262626" stroke-width="0.18" font-family="'Liberation Serif', serif" textLength="17.0" lengthAdjust="spacingAndGlyphs">C/2</text>
<text x="128.80" y="335.50" font-size="11.4" text-anchor="start" fill="#262626" stroke="#262626" stroke-width="0.18" font-family="'Liberation Serif', serif" textLength="13.1" lengthAdjust="spacingAndGlyphs">1C</text>
<text x="160.20" y="363.20" font-size="11.4" text-anchor="start" fill="#262626" stroke="#262626" stroke-width="0.18" font-family="'Liberation Serif', serif" textLength="13.5" lengthAdjust="spacingAndGlyphs">2C</text>
<text x="192.00" y="365.00" font-size="11.4" text-anchor="start" fill="#262626" stroke="#262626" stroke-width="0.18" font-family="'Liberation Serif', serif" textLength="13.5" lengthAdjust="spacingAndGlyphs">3C</text>
<text x="224.70" y="371.40" font-size="11.4" text-anchor="start" fill="#262626" stroke="#262626" stroke-width="0.18" font-family="'Liberation Serif', serif" textLength="13.3" lengthAdjust="spacingAndGlyphs">5C</text>
<text x="247.00" y="224.90" font-size="11.4" text-anchor="start" fill="#262626" stroke="#262626" stroke-width="0.18" font-family="'Liberation Serif', serif" textLength="16.8" lengthAdjust="spacingAndGlyphs">C/5</text>
<rect x="218.65" y="254.65" width="3.50" height="3.50" fill="#f26a1e"/>
<text x="229.30" y="260.60" font-size="11.4" text-anchor="start" fill="#262626" stroke="#262626" stroke-width="0.18" font-family="'Liberation Serif', serif" textLength="36.6" lengthAdjust="spacingAndGlyphs">TBA 1:2</text>
<rect x="218.65" y="270.55" width="3.50" height="3.50" fill="#f0383f"/>
<text x="229.30" y="276.50" font-size="11.4" text-anchor="start" fill="#262626" stroke="#262626" stroke-width="0.18" font-family="'Liberation Serif', serif" textLength="36.6" lengthAdjust="spacingAndGlyphs">TBA 1:1</text>
<rect x="218.65" y="286.45" width="3.50" height="3.50" fill="#d5161f"/>
<text x="229.30" y="292.40" font-size="11.4" text-anchor="start" fill="#262626" stroke="#262626" stroke-width="0.18" font-family="'Liberation Serif', serif" textLength="36.6" lengthAdjust="spacingAndGlyphs">TBA 2:1</text>
<rect x="218.65" y="302.35" width="3.50" height="3.50" fill="#ebe71c"/>
<text x="229.30" y="308.30" font-size="11.4" text-anchor="start" fill="#262626" stroke="#262626" stroke-width="0.18" font-family="'Liberation Serif', serif" textLength="36.6" lengthAdjust="spacingAndGlyphs">BTA 1:2</text>
<rect x="218.65" y="318.25" width="3.50" height="3.50" fill="#b1b519"/>
<text x="229.30" y="324.20" font-size="11.4" text-anchor="start" fill="#262626" stroke="#262626" stroke-width="0.18" font-family="'Liberation Serif', serif" textLength="36.6" lengthAdjust="spacingAndGlyphs">BTA 1:1</text>
<rect x="218.65" y="334.15" width="3.50" height="3.50" fill="#4f9b1b"/>
<text x="229.30" y="340.10" font-size="11.4" text-anchor="start" fill="#262626" stroke="#262626" stroke-width="0.18" font-family="'Liberation Serif', serif" textLength="36.6" lengthAdjust="spacingAndGlyphs">BTA 2:1</text>
<text x="7.80" y="399.80" font-size="11" text-anchor="start" fill="#262626" stroke="#262626" stroke-width="0.18" font-family="'Liberation Serif', serif" textLength="12.0" lengthAdjust="spacingAndGlyphs" font-weight="bold">(c)</text>
<rect x="312.35" y="227.17" width="2.85" height="2.85" fill="none" stroke="#f26a1e" stroke-width="1.05"/>
<rect x="315.62" y="227.17" width="2.85" height="2.85" fill="none" stroke="#f26a1e" stroke-width="1.05"/>
<rect x="318.89" y="227.17" width="2.85" height="2.85" fill="none" stroke="#f26a1e" stroke-width="1.05"/>
<rect x="322.16" y="232.03" width="2.85" height="2.85" fill="none" stroke="#f26a1e" stroke-width="1.05"/>
<rect x="325.43" y="232.03" width="2.85" height="2.85" fill="none" stroke="#f26a1e" stroke-width="1.05"/>
<rect x="328.70" y="232.03" width="2.85" height="2.85" fill="none" stroke="#f26a1e" stroke-width="1.05"/>
<rect x="331.97" y="232.03" width="2.85" height="2.85" fill="none" stroke="#f26a1e" stroke-width="1.05"/>
<rect x="335.25" y="232.03" width="2.85" height="2.85" fill="none" stroke="#f26a1e" stroke-width="1.05"/>
<rect x="338.52" y="235.13" width="2.85" height="2.85" fill="none" stroke="#f26a1e" stroke-width="1.05"/>
<rect x="341.79" y="235.13" width="2.85" height="2.85" fill="none" stroke="#f26a1e" stroke-width="1.05"/>
<rect x="345.06" y="235.13" width="2.85" height="2.85" fill="none" stroke="#f26a1e" stroke-width="1.05"/>
<rect x="348.33" y="235.13" width="2.85" height="2.85" fill="none" stroke="#f26a1e" stroke-width="1.05"/>
<rect x="351.60" y="235.13" width="2.85" height="2.85" fill="none" stroke="#f26a1e" stroke-width="1.05"/>
<rect x="354.88" y="245.76" width="2.85" height="2.85" fill="none" stroke="#f26a1e" stroke-width="1.05"/>
<rect x="358.15" y="246.54" width="2.85" height="2.85" fill="none" stroke="#f26a1e" stroke-width="1.05"/>
<rect x="361.42" y="247.33" width="2.85" height="2.85" fill="none" stroke="#f26a1e" stroke-width="1.05"/>
<rect x="364.69" y="248.12" width="2.85" height="2.85" fill="none" stroke="#f26a1e" stroke-width="1.05"/>
<rect x="367.96" y="248.90" width="2.85" height="2.85" fill="none" stroke="#f26a1e" stroke-width="1.05"/>
<rect x="371.23" y="249.69" width="2.85" height="2.85" fill="none" stroke="#f26a1e" stroke-width="1.05"/>
<rect x="374.50" y="250.48" width="2.85" height="2.85" fill="none" stroke="#f26a1e" stroke-width="1.05"/>
<rect x="377.77" y="251.26" width="2.85" height="2.85" fill="none" stroke="#f26a1e" stroke-width="1.05"/>
<rect x="381.05" y="252.05" width="2.85" height="2.85" fill="none" stroke="#f26a1e" stroke-width="1.05"/>
<rect x="384.32" y="252.84" width="2.85" height="2.85" fill="none" stroke="#f26a1e" stroke-width="1.05"/>
<rect x="394.13" y="300.73" width="2.85" height="2.85" fill="none" stroke="#f26a1e" stroke-width="1.05"/>
<rect x="397.40" y="304.36" width="2.85" height="2.85" fill="none" stroke="#f26a1e" stroke-width="1.05"/>
<rect x="400.68" y="307.28" width="2.85" height="2.85" fill="none" stroke="#f26a1e" stroke-width="1.05"/>
<rect x="403.95" y="309.49" width="2.85" height="2.85" fill="none" stroke="#f26a1e" stroke-width="1.05"/>
<rect x="407.22" y="311.62" width="2.85" height="2.85" fill="none" stroke="#f26a1e" stroke-width="1.05"/>
<rect x="410.49" y="313.12" width="2.85" height="2.85" fill="none" stroke="#f26a1e" stroke-width="1.05"/>
<rect x="413.76" y="314.54" width="2.85" height="2.85" fill="none" stroke="#f26a1e" stroke-width="1.05"/>
<rect x="417.03" y="315.25" width="2.85" height="2.85" fill="none" stroke="#f26a1e" stroke-width="1.05"/>
<rect x="420.30" y="360.66" width="2.85" height="2.85" fill="none" stroke="#f26a1e" stroke-width="1.05"/>
<rect x="423.57" y="360.94" width="2.85" height="2.85" fill="none" stroke="#f26a1e" stroke-width="1.05"/>
<rect x="426.85" y="361.21" width="2.85" height="2.85" fill="none" stroke="#f26a1e" stroke-width="1.05"/>
<rect x="430.12" y="361.49" width="2.85" height="2.85" fill="none" stroke="#f26a1e" stroke-width="1.05"/>
<rect x="433.39" y="361.76" width="2.85" height="2.85" fill="none" stroke="#f26a1e" stroke-width="1.05"/>
<rect x="436.66" y="362.04" width="2.85" height="2.85" fill="none" stroke="#f26a1e" stroke-width="1.05"/>
<rect x="439.93" y="362.32" width="2.85" height="2.85" fill="none" stroke="#f26a1e" stroke-width="1.05"/>
<rect x="443.20" y="362.59" width="2.85" height="2.85" fill="none" stroke="#f26a1e" stroke-width="1.05"/>
<rect x="446.47" y="362.87" width="2.85" height="2.85" fill="none" stroke="#f26a1e" stroke-width="1.05"/>
<rect x="449.75" y="363.14" width="2.85" height="2.85" fill="none" stroke="#f26a1e" stroke-width="1.05"/>
<rect x="453.02" y="365.27" width="2.85" height="2.85" fill="none" stroke="#f26a1e" stroke-width="1.05"/>
<rect x="456.29" y="365.36" width="2.85" height="2.85" fill="none" stroke="#f26a1e" stroke-width="1.05"/>
<rect x="459.56" y="365.46" width="2.85" height="2.85" fill="none" stroke="#f26a1e" stroke-width="1.05"/>
<rect x="462.83" y="365.56" width="2.85" height="2.85" fill="none" stroke="#f26a1e" stroke-width="1.05"/>
<rect x="466.10" y="365.66" width="2.85" height="2.85" fill="none" stroke="#f26a1e" stroke-width="1.05"/>
<rect x="469.38" y="365.76" width="2.85" height="2.85" fill="none" stroke="#f26a1e" stroke-width="1.05"/>
<rect x="472.65" y="365.86" width="2.85" height="2.85" fill="none" stroke="#f26a1e" stroke-width="1.05"/>
<rect x="475.92" y="365.96" width="2.85" height="2.85" fill="none" stroke="#f26a1e" stroke-width="1.05"/>
<rect x="479.19" y="366.05" width="2.85" height="2.85" fill="none" stroke="#f26a1e" stroke-width="1.05"/>
<rect x="482.46" y="366.15" width="2.85" height="2.85" fill="none" stroke="#f26a1e" stroke-width="1.05"/>
<rect x="485.73" y="370.40" width="2.85" height="2.85" fill="none" stroke="#f26a1e" stroke-width="1.05"/>
<rect x="489.00" y="370.40" width="2.85" height="2.85" fill="none" stroke="#f26a1e" stroke-width="1.05"/>
<rect x="492.27" y="370.40" width="2.85" height="2.85" fill="none" stroke="#f26a1e" stroke-width="1.05"/>
<rect x="495.55" y="370.40" width="2.85" height="2.85" fill="none" stroke="#f26a1e" stroke-width="1.05"/>
<rect x="498.82" y="370.40" width="2.85" height="2.85" fill="none" stroke="#f26a1e" stroke-width="1.05"/>
<rect x="502.09" y="370.40" width="2.85" height="2.85" fill="none" stroke="#f26a1e" stroke-width="1.05"/>
<rect x="505.36" y="370.40" width="2.85" height="2.85" fill="none" stroke="#f26a1e" stroke-width="1.05"/>
<rect x="508.63" y="370.40" width="2.85" height="2.85" fill="none" stroke="#f26a1e" stroke-width="1.05"/>
<rect x="511.90" y="370.40" width="2.85" height="2.85" fill="none" stroke="#f26a1e" stroke-width="1.05"/>
<rect x="515.17" y="370.40" width="2.85" height="2.85" fill="none" stroke="#f26a1e" stroke-width="1.05"/>
<rect x="518.45" y="237.79" width="2.85" height="2.85" fill="none" stroke="#f26a1e" stroke-width="1.05"/>
<rect x="521.72" y="237.79" width="2.85" height="2.85" fill="none" stroke="#f26a1e" stroke-width="1.05"/>
<rect x="524.99" y="237.79" width="2.85" height="2.85" fill="none" stroke="#f26a1e" stroke-width="1.05"/>
<rect x="528.26" y="237.79" width="2.85" height="2.85" fill="none" stroke="#f26a1e" stroke-width="1.05"/>
<rect x="531.53" y="237.79" width="2.85" height="2.85" fill="none" stroke="#f26a1e" stroke-width="1.05"/>
<rect x="312.35" y="228.05" width="2.85" height="2.85" fill="none" stroke="#f0383f" stroke-width="1.05"/>
<rect x="315.62" y="228.05" width="2.85" height="2.85" fill="none" stroke="#f0383f" stroke-width="1.05"/>
<rect x="318.89" y="228.05" width="2.85" height="2.85" fill="none" stroke="#f0383f" stroke-width="1.05"/>
<rect x="322.16" y="233.36" width="2.85" height="2.85" fill="none" stroke="#f0383f" stroke-width="1.05"/>
<rect x="325.43" y="233.36" width="2.85" height="2.85" fill="none" stroke="#f0383f" stroke-width="1.05"/>
<rect x="328.70" y="233.36" width="2.85" height="2.85" fill="none" stroke="#f0383f" stroke-width="1.05"/>
<rect x="331.97" y="233.36" width="2.85" height="2.85" fill="none" stroke="#f0383f" stroke-width="1.05"/>
<rect x="335.25" y="233.36" width="2.85" height="2.85" fill="none" stroke="#f0383f" stroke-width="1.05"/>
<rect x="338.52" y="239.56" width="2.85" height="2.85" fill="none" stroke="#f0383f" stroke-width="1.05"/>
<rect x="341.79" y="239.56" width="2.85" height="2.85" fill="none" stroke="#f0383f" stroke-width="1.05"/>
<rect x="345.06" y="239.56" width="2.85" height="2.85" fill="none" stroke="#f0383f" stroke-width="1.05"/>
<rect x="348.33" y="239.56" width="2.85" height="2.85" fill="none" stroke="#f0383f" stroke-width="1.05"/>
<rect x="351.60" y="239.56" width="2.85" height="2.85" fill="none" stroke="#f0383f" stroke-width="1.05"/>
<rect x="354.88" y="243.10" width="2.85" height="2.85" fill="none" stroke="#f0383f" stroke-width="1.05"/>
<rect x="358.15" y="243.35" width="2.85" height="2.85" fill="none" stroke="#f0383f" stroke-width="1.05"/>
<rect x="361.42" y="243.59" width="2.85" height="2.85" fill="none" stroke="#f0383f" stroke-width="1.05"/>
<rect x="364.69" y="243.84" width="2.85" height="2.85" fill="none" stroke="#f0383f" stroke-width="1.05"/>
<rect x="367.96" y="244.08" width="2.85" height="2.85" fill="none" stroke="#f0383f" stroke-width="1.05"/>
<rect x="371.23" y="244.33" width="2.85" height="2.85" fill="none" stroke="#f0383f" stroke-width="1.05"/>
<rect x="374.50" y="244.58" width="2.85" height="2.85" fill="none" stroke="#f0383f" stroke-width="1.05"/>
<rect x="377.77" y="244.82" width="2.85" height="2.85" fill="none" stroke="#f0383f" stroke-width="1.05"/>
<rect x="381.05" y="245.07" width="2.85" height="2.85" fill="none" stroke="#f0383f" stroke-width="1.05"/>
<rect x="384.32" y="245.31" width="2.85" height="2.85" fill="none" stroke="#f0383f" stroke-width="1.05"/>
<rect x="387.59" y="271.61" width="2.85" height="2.85" fill="none" stroke="#f0383f" stroke-width="1.05"/>
<rect x="390.86" y="278.25" width="2.85" height="2.85" fill="none" stroke="#f0383f" stroke-width="1.05"/>
<rect x="394.13" y="281.87" width="2.85" height="2.85" fill="none" stroke="#f0383f" stroke-width="1.05"/>
<rect x="397.40" y="284.44" width="2.85" height="2.85" fill="none" stroke="#f0383f" stroke-width="1.05"/>
<rect x="400.68" y="286.21" width="2.85" height="2.85" fill="none" stroke="#f0383f" stroke-width="1.05"/>
<rect x="403.95" y="288.16" width="2.85" height="2.85" fill="none" stroke="#f0383f" stroke-width="1.05"/>
<rect x="407.22" y="289.58" width="2.85" height="2.85" fill="none" stroke="#f0383f" stroke-width="1.05"/>
<rect x="410.49" y="291.35" width="2.85" height="2.85" fill="none" stroke="#f0383f" stroke-width="1.05"/>
<rect x="413.76" y="292.76" width="2.85" height="2.85" fill="none" stroke="#f0383f" stroke-width="1.05"/>
<rect x="417.03" y="293.74" width="2.85" height="2.85" fill="none" stroke="#f0383f" stroke-width="1.05"/>
<rect x="420.30" y="358.01" width="2.85" height="2.85" fill="none" stroke="#f0383f" stroke-width="1.05"/>
<rect x="423.57" y="358.30" width="2.85" height="2.85" fill="none" stroke="#f0383f" stroke-width="1.05"/>
<rect x="426.85" y="358.60" width="2.85" height="2.85" fill="none" stroke="#f0383f" stroke-width="1.05"/>
<rect x="430.12" y="358.89" width="2.85" height="2.85" fill="none" stroke="#f0383f" stroke-width="1.05"/>
<rect x="433.39" y="359.19" width="2.85" height="2.85" fill="none" stroke="#f0383f" stroke-width="1.05"/>
<rect x="436.66" y="359.48" width="2.85" height="2.85" fill="none" stroke="#f0383f" stroke-width="1.05"/>
<rect x="439.93" y="359.78" width="2.85" height="2.85" fill="none" stroke="#f0383f" stroke-width="1.05"/>
<rect x="443.20" y="360.07" width="2.85" height="2.85" fill="none" stroke="#f0383f" stroke-width="1.05"/>
<rect x="446.47" y="360.37" width="2.85" height="2.85" fill="none" stroke="#f0383f" stroke-width="1.05"/>
<rect x="449.75" y="360.66" width="2.85" height="2.85" fill="none" stroke="#f0383f" stroke-width="1.05"/>
<rect x="453.02" y="364.38" width="2.85" height="2.85" fill="none" stroke="#f0383f" stroke-width="1.05"/>
<rect x="456.29" y="364.53" width="2.85" height="2.85" fill="none" stroke="#f0383f" stroke-width="1.05"/>
<rect x="459.56" y="364.68" width="2.85" height="2.85" fill="none" stroke="#f0383f" stroke-width="1.05"/>
<rect x="462.83" y="364.82" width="2.85" height="2.85" fill="none" stroke="#f0383f" stroke-width="1.05"/>
<rect x="466.10" y="364.97" width="2.85" height="2.85" fill="none" stroke="#f0383f" stroke-width="1.05"/>
<rect x="469.38" y="365.12" width="2.85" height="2.85" fill="none" stroke="#f0383f" stroke-width="1.05"/>
<rect x="472.65" y="365.27" width="2.85" height="2.85" fill="none" stroke="#f0383f" stroke-width="1.05"/>
<rect x="475.92" y="365.41" width="2.85" height="2.85" fill="none" stroke="#f0383f" stroke-width="1.05"/>
<rect x="479.19" y="365.56" width="2.85" height="2.85" fill="none" stroke="#f0383f" stroke-width="1.05"/>
<rect x="482.46" y="365.71" width="2.85" height="2.85" fill="none" stroke="#f0383f" stroke-width="1.05"/>
<rect x="485.73" y="369.16" width="2.85" height="2.85" fill="none" stroke="#f0383f" stroke-width="1.05"/>
<rect x="489.00" y="369.16" width="2.85" height="2.85" fill="none" stroke="#f0383f" stroke-width="1.05"/>
<rect x="492.27" y="369.16" width="2.85" height="2.85" fill="none" stroke="#f0383f" stroke-width="1.05"/>
<rect x="495.55" y="369.16" width="2.85" height="2.85" fill="none" stroke="#f0383f" stroke-width="1.05"/>
<rect x="498.82" y="369.16" width="2.85" height="2.85" fill="none" stroke="#f0383f" stroke-width="1.05"/>
<rect x="502.09" y="369.16" width="2.85" height="2.85" fill="none" stroke="#f0383f" stroke-width="1.05"/>
<rect x="505.36" y="369.16" width="2.85" height="2.85" fill="none" stroke="#f0383f" stroke-width="1.05"/>
<rect x="508.63" y="369.16" width="2.85" height="2.85" fill="none" stroke="#f0383f" stroke-width="1.05"/>
<rect x="511.90" y="369.16" width="2.85" height="2.85" fill="none" stroke="#f0383f" stroke-width="1.05"/>
<rect x="515.17" y="369.16" width="2.85" height="2.85" fill="none" stroke="#f0383f" stroke-width="1.05"/>
<rect x="518.45" y="241.33" width="2.85" height="2.85" fill="none" stroke="#f0383f" stroke-width="1.05"/>
<rect x="521.72" y="241.33" width="2.85" height="2.85" fill="none" stroke="#f0383f" stroke-width="1.05"/>
<rect x="524.99" y="241.33" width="2.85" height="2.85" fill="none" stroke="#f0383f" stroke-width="1.05"/>
<rect x="528.26" y="241.33" width="2.85" height="2.85" fill="none" stroke="#f0383f" stroke-width="1.05"/>
<rect x="531.53" y="241.33" width="2.85" height="2.85" fill="none" stroke="#f0383f" stroke-width="1.05"/>
<rect x="312.35" y="229.38" width="2.85" height="2.85" fill="none" stroke="#d5161f" stroke-width="1.05"/>
<rect x="315.62" y="229.38" width="2.85" height="2.85" fill="none" stroke="#d5161f" stroke-width="1.05"/>
<rect x="318.89" y="229.38" width="2.85" height="2.85" fill="none" stroke="#d5161f" stroke-width="1.05"/>
<rect x="322.16" y="234.25" width="2.85" height="2.85" fill="none" stroke="#d5161f" stroke-width="1.05"/>
<rect x="325.43" y="234.25" width="2.85" height="2.85" fill="none" stroke="#d5161f" stroke-width="1.05"/>
<rect x="328.70" y="234.25" width="2.85" height="2.85" fill="none" stroke="#d5161f" stroke-width="1.05"/>
<rect x="331.97" y="234.25" width="2.85" height="2.85" fill="none" stroke="#d5161f" stroke-width="1.05"/>
<rect x="335.25" y="234.25" width="2.85" height="2.85" fill="none" stroke="#d5161f" stroke-width="1.05"/>
<rect x="338.52" y="240.44" width="2.85" height="2.85" fill="none" stroke="#d5161f" stroke-width="1.05"/>
<rect x="341.79" y="240.44" width="2.85" height="2.85" fill="none" stroke="#d5161f" stroke-width="1.05"/>
<rect x="345.06" y="240.44" width="2.85" height="2.85" fill="none" stroke="#d5161f" stroke-width="1.05"/>
<rect x="348.33" y="240.44" width="2.85" height="2.85" fill="none" stroke="#d5161f" stroke-width="1.05"/>
<rect x="351.60" y="240.44" width="2.85" height="2.85" fill="none" stroke="#d5161f" stroke-width="1.05"/>
<rect x="354.88" y="242.22" width="2.85" height="2.85" fill="none" stroke="#d5161f" stroke-width="1.05"/>
<rect x="358.15" y="242.54" width="2.85" height="2.85" fill="none" stroke="#d5161f" stroke-width="1.05"/>
<rect x="361.42" y="242.86" width="2.85" height="2.85" fill="none" stroke="#d5161f" stroke-width="1.05"/>
<rect x="364.69" y="243.19" width="2.85" height="2.85" fill="none" stroke="#d5161f" stroke-width="1.05"/>
<rect x="367.96" y="243.51" width="2.85" height="2.85" fill="none" stroke="#d5161f" stroke-width="1.05"/>
<rect x="371.23" y="243.84" width="2.85" height="2.85" fill="none" stroke="#d5161f" stroke-width="1.05"/>
<rect x="374.50" y="244.16" width="2.85" height="2.85" fill="none" stroke="#d5161f" stroke-width="1.05"/>
<rect x="377.77" y="244.49" width="2.85" height="2.85" fill="none" stroke="#d5161f" stroke-width="1.05"/>
<rect x="381.05" y="244.81" width="2.85" height="2.85" fill="none" stroke="#d5161f" stroke-width="1.05"/>
<rect x="384.32" y="245.14" width="2.85" height="2.85" fill="none" stroke="#d5161f" stroke-width="1.05"/>
<rect x="387.59" y="285.42" width="2.85" height="2.85" fill="none" stroke="#d5161f" stroke-width="1.05"/>
<rect x="390.86" y="297.10" width="2.85" height="2.85" fill="none" stroke="#d5161f" stroke-width="1.05"/>
<rect x="394.13" y="305.95" width="2.85" height="2.85" fill="none" stroke="#d5161f" stroke-width="1.05"/>
<rect x="397.40" y="310.38" width="2.85" height="2.85" fill="none" stroke="#d5161f" stroke-width="1.05"/>
<rect x="400.68" y="313.83" width="2.85" height="2.85" fill="none" stroke="#d5161f" stroke-width="1.05"/>
<rect x="403.95" y="317.46" width="2.85" height="2.85" fill="none" stroke="#d5161f" stroke-width="1.05"/>
<rect x="407.22" y="319.68" width="2.85" height="2.85" fill="none" stroke="#d5161f" stroke-width="1.05"/>
<rect x="410.49" y="321.18" width="2.85" height="2.85" fill="none" stroke="#d5161f" stroke-width="1.05"/>
<rect x="413.76" y="322.60" width="2.85" height="2.85" fill="none" stroke="#d5161f" stroke-width="1.05"/>
<rect x="417.03" y="324.10" width="2.85" height="2.85" fill="none" stroke="#d5161f" stroke-width="1.05"/>
<rect x="420.30" y="358.54" width="2.85" height="2.85" fill="none" stroke="#d5161f" stroke-width="1.05"/>
<rect x="423.57" y="358.83" width="2.85" height="2.85" fill="none" stroke="#d5161f" stroke-width="1.05"/>
<rect x="426.85" y="359.13" width="2.85" height="2.85" fill="none" stroke="#d5161f" stroke-width="1.05"/>
<rect x="430.12" y="359.42" width="2.85" height="2.85" fill="none" stroke="#d5161f" stroke-width="1.05"/>
<rect x="433.39" y="359.72" width="2.85" height="2.85" fill="none" stroke="#d5161f" stroke-width="1.05"/>
<rect x="436.66" y="360.01" width="2.85" height="2.85" fill="none" stroke="#d5161f" stroke-width="1.05"/>
<rect x="439.93" y="360.31" width="2.85" height="2.85" fill="none" stroke="#d5161f" stroke-width="1.05"/>
<rect x="443.20" y="360.60" width="2.85" height="2.85" fill="none" stroke="#d5161f" stroke-width="1.05"/>
<rect x="446.47" y="360.90" width="2.85" height="2.85" fill="none" stroke="#d5161f" stroke-width="1.05"/>
<rect x="449.75" y="361.19" width="2.85" height="2.85" fill="none" stroke="#d5161f" stroke-width="1.05"/>
<rect x="453.02" y="364.82" width="2.85" height="2.85" fill="none" stroke="#d5161f" stroke-width="1.05"/>
<rect x="456.29" y="365.02" width="2.85" height="2.85" fill="none" stroke="#d5161f" stroke-width="1.05"/>
<rect x="459.56" y="365.22" width="2.85" height="2.85" fill="none" stroke="#d5161f" stroke-width="1.05"/>
<rect x="462.83" y="365.41" width="2.85" height="2.85" fill="none" stroke="#d5161f" stroke-width="1.05"/>
<rect x="466.10" y="365.61" width="2.85" height="2.85" fill="none" stroke="#d5161f" stroke-width="1.05"/>
<rect x="469.38" y="365.81" width="2.85" height="2.85" fill="none" stroke="#d5161f" stroke-width="1.05"/>
<rect x="472.65" y="366.00" width="2.85" height="2.85" fill="none" stroke="#d5161f" stroke-width="1.05"/>
<rect x="475.92" y="366.20" width="2.85" height="2.85" fill="none" stroke="#d5161f" stroke-width="1.05"/>
<rect x="479.19" y="366.40" width="2.85" height="2.85" fill="none" stroke="#d5161f" stroke-width="1.05"/>
<rect x="482.46" y="366.59" width="2.85" height="2.85" fill="none" stroke="#d5161f" stroke-width="1.05"/>
<rect x="485.73" y="369.43" width="2.85" height="2.85" fill="none" stroke="#d5161f" stroke-width="1.05"/>
<rect x="489.00" y="369.43" width="2.85" height="2.85" fill="none" stroke="#d5161f" stroke-width="1.05"/>
<rect x="492.27" y="369.43" width="2.85" height="2.85" fill="none" stroke="#d5161f" stroke-width="1.05"/>
<rect x="495.55" y="369.43" width="2.85" height="2.85" fill="none" stroke="#d5161f" stroke-width="1.05"/>
<rect x="498.82" y="369.43" width="2.85" height="2.85" fill="none" stroke="#d5161f" stroke-width="1.05"/>
<rect x="502.09" y="369.43" width="2.85" height="2.85" fill="none" stroke="#d5161f" stroke-width="1.05"/>
<rect x="505.36" y="369.43" width="2.85" height="2.85" fill="none" stroke="#d5161f" stroke-width="1.05"/>
<rect x="508.63" y="369.43" width="2.85" height="2.85" fill="none" stroke="#d5161f" stroke-width="1.05"/>
<rect x="511.90" y="369.43" width="2.85" height="2.85" fill="none" stroke="#d5161f" stroke-width="1.05"/>
<rect x="515.17" y="369.43" width="2.85" height="2.85" fill="none" stroke="#d5161f" stroke-width="1.05"/>
<rect x="518.45" y="241.77" width="2.85" height="2.85" fill="none" stroke="#d5161f" stroke-width="1.05"/>
<rect x="521.72" y="241.77" width="2.85" height="2.85" fill="none" stroke="#d5161f" stroke-width="1.05"/>
<rect x="524.99" y="241.77" width="2.85" height="2.85" fill="none" stroke="#d5161f" stroke-width="1.05"/>
<rect x="528.26" y="241.77" width="2.85" height="2.85" fill="none" stroke="#d5161f" stroke-width="1.05"/>
<rect x="531.53" y="241.77" width="2.85" height="2.85" fill="none" stroke="#d5161f" stroke-width="1.05"/>
<rect x="312.35" y="226.28" width="2.85" height="2.85" fill="none" stroke="#ebe71c" stroke-width="1.05"/>
<rect x="315.62" y="226.28" width="2.85" height="2.85" fill="none" stroke="#ebe71c" stroke-width="1.05"/>
<rect x="318.89" y="226.28" width="2.85" height="2.85" fill="none" stroke="#ebe71c" stroke-width="1.05"/>
<rect x="322.16" y="230.26" width="2.85" height="2.85" fill="none" stroke="#ebe71c" stroke-width="1.05"/>
<rect x="325.43" y="230.26" width="2.85" height="2.85" fill="none" stroke="#ebe71c" stroke-width="1.05"/>
<rect x="328.70" y="230.26" width="2.85" height="2.85" fill="none" stroke="#ebe71c" stroke-width="1.05"/>
<rect x="331.97" y="230.26" width="2.85" height="2.85" fill="none" stroke="#ebe71c" stroke-width="1.05"/>
<rect x="335.25" y="230.26" width="2.85" height="2.85" fill="none" stroke="#ebe71c" stroke-width="1.05"/>
<rect x="338.52" y="233.36" width="2.85" height="2.85" fill="none" stroke="#ebe71c" stroke-width="1.05"/>
<rect x="341.79" y="233.36" width="2.85" height="2.85" fill="none" stroke="#ebe71c" stroke-width="1.05"/>
<rect x="345.06" y="233.36" width="2.85" height="2.85" fill="none" stroke="#ebe71c" stroke-width="1.05"/>
<rect x="348.33" y="233.36" width="2.85" height="2.85" fill="none" stroke="#ebe71c" stroke-width="1.05"/>
<rect x="351.60" y="233.36" width="2.85" height="2.85" fill="none" stroke="#ebe71c" stroke-width="1.05"/>
<rect x="354.88" y="248.41" width="2.85" height="2.85" fill="none" stroke="#ebe71c" stroke-width="1.05"/>
<rect x="358.15" y="249.10" width="2.85" height="2.85" fill="none" stroke="#ebe71c" stroke-width="1.05"/>
<rect x="361.42" y="249.79" width="2.85" height="2.85" fill="none" stroke="#ebe71c" stroke-width="1.05"/>
<rect x="364.69" y="250.48" width="2.85" height="2.85" fill="none" stroke="#ebe71c" stroke-width="1.05"/>
<rect x="367.96" y="251.17" width="2.85" height="2.85" fill="none" stroke="#ebe71c" stroke-width="1.05"/>
<rect x="371.23" y="251.85" width="2.85" height="2.85" fill="none" stroke="#ebe71c" stroke-width="1.05"/>
<rect x="374.50" y="252.54" width="2.85" height="2.85" fill="none" stroke="#ebe71c" stroke-width="1.05"/>
<rect x="377.77" y="253.23" width="2.85" height="2.85" fill="none" stroke="#ebe71c" stroke-width="1.05"/>
<rect x="381.05" y="253.92" width="2.85" height="2.85" fill="none" stroke="#ebe71c" stroke-width="1.05"/>
<rect x="384.32" y="254.61" width="2.85" height="2.85" fill="none" stroke="#ebe71c" stroke-width="1.05"/>
<rect x="387.59" y="282.58" width="2.85" height="2.85" fill="none" stroke="#ebe71c" stroke-width="1.05"/>
<rect x="390.86" y="292.76" width="2.85" height="2.85" fill="none" stroke="#ebe71c" stroke-width="1.05"/>
<rect x="394.13" y="297.81" width="2.85" height="2.85" fill="none" stroke="#ebe71c" stroke-width="1.05"/>
<rect x="397.40" y="300.73" width="2.85" height="2.85" fill="none" stroke="#ebe71c" stroke-width="1.05"/>
<rect x="400.68" y="302.24" width="2.85" height="2.85" fill="none" stroke="#ebe71c" stroke-width="1.05"/>
<rect x="403.95" y="302.94" width="2.85" height="2.85" fill="none" stroke="#ebe71c" stroke-width="1.05"/>
<rect x="407.22" y="303.74" width="2.85" height="2.85" fill="none" stroke="#ebe71c" stroke-width="1.05"/>
<rect x="410.49" y="304.18" width="2.85" height="2.85" fill="none" stroke="#ebe71c" stroke-width="1.05"/>
<rect x="413.76" y="304.63" width="2.85" height="2.85" fill="none" stroke="#ebe71c" stroke-width="1.05"/>
<rect x="417.03" y="304.89" width="2.85" height="2.85" fill="none" stroke="#ebe71c" stroke-width="1.05"/>
<rect x="420.30" y="364.03" width="2.85" height="2.85" fill="none" stroke="#ebe71c" stroke-width="1.05"/>
<rect x="423.57" y="364.16" width="2.85" height="2.85" fill="none" stroke="#ebe71c" stroke-width="1.05"/>
<rect x="426.85" y="364.30" width="2.85" height="2.85" fill="none" stroke="#ebe71c" stroke-width="1.05"/>
<rect x="430.12" y="364.44" width="2.85" height="2.85" fill="none" stroke="#ebe71c" stroke-width="1.05"/>
<rect x="433.39" y="364.58" width="2.85" height="2.85" fill="none" stroke="#ebe71c" stroke-width="1.05"/>
<rect x="436.66" y="364.72" width="2.85" height="2.85" fill="none" stroke="#ebe71c" stroke-width="1.05"/>
<rect x="439.93" y="364.85" width="2.85" height="2.85" fill="none" stroke="#ebe71c" stroke-width="1.05"/>
<rect x="443.20" y="364.99" width="2.85" height="2.85" fill="none" stroke="#ebe71c" stroke-width="1.05"/>
<rect x="446.47" y="365.13" width="2.85" height="2.85" fill="none" stroke="#ebe71c" stroke-width="1.05"/>
<rect x="449.75" y="365.27" width="2.85" height="2.85" fill="none" stroke="#ebe71c" stroke-width="1.05"/>
<rect x="453.02" y="366.15" width="2.85" height="2.85" fill="none" stroke="#ebe71c" stroke-width="1.05"/>
<rect x="456.29" y="366.25" width="2.85" height="2.85" fill="none" stroke="#ebe71c" stroke-width="1.05"/>
<rect x="459.56" y="366.35" width="2.85" height="2.85" fill="none" stroke="#ebe71c" stroke-width="1.05"/>
<rect x="462.83" y="366.45" width="2.85" height="2.85" fill="none" stroke="#ebe71c" stroke-width="1.05"/>
<rect x="466.10" y="366.55" width="2.85" height="2.85" fill="none" stroke="#ebe71c" stroke-width="1.05"/>
<rect x="469.38" y="366.64" width="2.85" height="2.85" fill="none" stroke="#ebe71c" stroke-width="1.05"/>
<rect x="472.65" y="366.74" width="2.85" height="2.85" fill="none" stroke="#ebe71c" stroke-width="1.05"/>
<rect x="475.92" y="366.84" width="2.85" height="2.85" fill="none" stroke="#ebe71c" stroke-width="1.05"/>
<rect x="479.19" y="366.94" width="2.85" height="2.85" fill="none" stroke="#ebe71c" stroke-width="1.05"/>
<rect x="482.46" y="367.04" width="2.85" height="2.85" fill="none" stroke="#ebe71c" stroke-width="1.05"/>
<rect x="485.73" y="372.70" width="2.85" height="2.85" fill="none" stroke="#ebe71c" stroke-width="1.05"/>
<rect x="489.00" y="372.70" width="2.85" height="2.85" fill="none" stroke="#ebe71c" stroke-width="1.05"/>
<rect x="492.27" y="372.70" width="2.85" height="2.85" fill="none" stroke="#ebe71c" stroke-width="1.05"/>
<rect x="495.55" y="372.70" width="2.85" height="2.85" fill="none" stroke="#ebe71c" stroke-width="1.05"/>
<rect x="498.82" y="372.70" width="2.85" height="2.85" fill="none" stroke="#ebe71c" stroke-width="1.05"/>
<rect x="502.09" y="372.70" width="2.85" height="2.85" fill="none" stroke="#ebe71c" stroke-width="1.05"/>
<rect x="505.36" y="372.70" width="2.85" height="2.85" fill="none" stroke="#ebe71c" stroke-width="1.05"/>
<rect x="508.63" y="372.70" width="2.85" height="2.85" fill="none" stroke="#ebe71c" stroke-width="1.05"/>
<rect x="511.90" y="372.70" width="2.85" height="2.85" fill="none" stroke="#ebe71c" stroke-width="1.05"/>
<rect x="515.17" y="372.70" width="2.85" height="2.85" fill="none" stroke="#ebe71c" stroke-width="1.05"/>
<rect x="518.45" y="236.90" width="2.85" height="2.85" fill="none" stroke="#ebe71c" stroke-width="1.05"/>
<rect x="521.72" y="236.90" width="2.85" height="2.85" fill="none" stroke="#ebe71c" stroke-width="1.05"/>
<rect x="524.99" y="236.90" width="2.85" height="2.85" fill="none" stroke="#ebe71c" stroke-width="1.05"/>
<rect x="528.26" y="236.90" width="2.85" height="2.85" fill="none" stroke="#ebe71c" stroke-width="1.05"/>
<rect x="531.53" y="236.90" width="2.85" height="2.85" fill="none" stroke="#ebe71c" stroke-width="1.05"/>
<rect x="312.35" y="226.72" width="2.85" height="2.85" fill="none" stroke="#b1b519" stroke-width="1.05"/>
<rect x="315.62" y="226.72" width="2.85" height="2.85" fill="none" stroke="#b1b519" stroke-width="1.05"/>
<rect x="318.89" y="226.72" width="2.85" height="2.85" fill="none" stroke="#b1b519" stroke-width="1.05"/>
<rect x="322.16" y="230.71" width="2.85" height="2.85" fill="none" stroke="#b1b519" stroke-width="1.05"/>
<rect x="325.43" y="230.71" width="2.85" height="2.85" fill="none" stroke="#b1b519" stroke-width="1.05"/>
<rect x="328.70" y="230.71" width="2.85" height="2.85" fill="none" stroke="#b1b519" stroke-width="1.05"/>
<rect x="331.97" y="230.71" width="2.85" height="2.85" fill="none" stroke="#b1b519" stroke-width="1.05"/>
<rect x="335.25" y="230.71" width="2.85" height="2.85" fill="none" stroke="#b1b519" stroke-width="1.05"/>
<rect x="338.52" y="235.13" width="2.85" height="2.85" fill="none" stroke="#b1b519" stroke-width="1.05"/>
<rect x="341.79" y="235.13" width="2.85" height="2.85" fill="none" stroke="#b1b519" stroke-width="1.05"/>
<rect x="345.06" y="235.13" width="2.85" height="2.85" fill="none" stroke="#b1b519" stroke-width="1.05"/>
<rect x="348.33" y="235.13" width="2.85" height="2.85" fill="none" stroke="#b1b519" stroke-width="1.05"/>
<rect x="351.60" y="235.13" width="2.85" height="2.85" fill="none" stroke="#b1b519" stroke-width="1.05"/>
<rect x="354.88" y="246.64" width="2.85" height="2.85" fill="none" stroke="#b1b519" stroke-width="1.05"/>
<rect x="358.15" y="247.33" width="2.85" height="2.85" fill="none" stroke="#b1b519" stroke-width="1.05"/>
<rect x="361.42" y="248.02" width="2.85" height="2.85" fill="none" stroke="#b1b519" stroke-width="1.05"/>
<rect x="364.69" y="248.71" width="2.85" height="2.85" fill="none" stroke="#b1b519" stroke-width="1.05"/>
<rect x="367.96" y="249.40" width="2.85" height="2.85" fill="none" stroke="#b1b519" stroke-width="1.05"/>
<rect x="371.23" y="250.08" width="2.85" height="2.85" fill="none" stroke="#b1b519" stroke-width="1.05"/>
<rect x="374.50" y="250.77" width="2.85" height="2.85" fill="none" stroke="#b1b519" stroke-width="1.05"/>
<rect x="377.77" y="251.46" width="2.85" height="2.85" fill="none" stroke="#b1b519" stroke-width="1.05"/>
<rect x="381.05" y="252.15" width="2.85" height="2.85" fill="none" stroke="#b1b519" stroke-width="1.05"/>
<rect x="384.32" y="252.84" width="2.85" height="2.85" fill="none" stroke="#b1b519" stroke-width="1.05"/>
<rect x="390.86" y="308.08" width="2.85" height="2.85" fill="none" stroke="#b1b519" stroke-width="1.05"/>
<rect x="394.13" y="316.05" width="2.85" height="2.85" fill="none" stroke="#b1b519" stroke-width="1.05"/>
<rect x="397.40" y="321.53" width="2.85" height="2.85" fill="none" stroke="#b1b519" stroke-width="1.05"/>
<rect x="400.68" y="324.72" width="2.85" height="2.85" fill="none" stroke="#b1b519" stroke-width="1.05"/>
<rect x="403.95" y="327.38" width="2.85" height="2.85" fill="none" stroke="#b1b519" stroke-width="1.05"/>
<rect x="407.22" y="328.44" width="2.85" height="2.85" fill="none" stroke="#b1b519" stroke-width="1.05"/>
<rect x="410.49" y="328.79" width="2.85" height="2.85" fill="none" stroke="#b1b519" stroke-width="1.05"/>
<rect x="413.76" y="328.97" width="2.85" height="2.85" fill="none" stroke="#b1b519" stroke-width="1.05"/>
<rect x="417.03" y="329.15" width="2.85" height="2.85" fill="none" stroke="#b1b519" stroke-width="1.05"/>
<rect x="420.30" y="363.23" width="2.85" height="2.85" fill="none" stroke="#b1b519" stroke-width="1.05"/>
<rect x="423.57" y="363.42" width="2.85" height="2.85" fill="none" stroke="#b1b519" stroke-width="1.05"/>
<rect x="426.85" y="363.60" width="2.85" height="2.85" fill="none" stroke="#b1b519" stroke-width="1.05"/>
<rect x="430.12" y="363.79" width="2.85" height="2.85" fill="none" stroke="#b1b519" stroke-width="1.05"/>
<rect x="433.39" y="363.98" width="2.85" height="2.85" fill="none" stroke="#b1b519" stroke-width="1.05"/>
<rect x="436.66" y="364.16" width="2.85" height="2.85" fill="none" stroke="#b1b519" stroke-width="1.05"/>
<rect x="439.93" y="364.35" width="2.85" height="2.85" fill="none" stroke="#b1b519" stroke-width="1.05"/>
<rect x="443.20" y="364.54" width="2.85" height="2.85" fill="none" stroke="#b1b519" stroke-width="1.05"/>
<rect x="446.47" y="364.73" width="2.85" height="2.85" fill="none" stroke="#b1b519" stroke-width="1.05"/>
<rect x="449.75" y="364.91" width="2.85" height="2.85" fill="none" stroke="#b1b519" stroke-width="1.05"/>
<rect x="453.02" y="365.27" width="2.85" height="2.85" fill="none" stroke="#b1b519" stroke-width="1.05"/>
<rect x="456.29" y="365.46" width="2.85" height="2.85" fill="none" stroke="#b1b519" stroke-width="1.05"/>
<rect x="459.56" y="365.66" width="2.85" height="2.85" fill="none" stroke="#b1b519" stroke-width="1.05"/>
<rect x="462.83" y="365.86" width="2.85" height="2.85" fill="none" stroke="#b1b519" stroke-width="1.05"/>
<rect x="466.10" y="366.05" width="2.85" height="2.85" fill="none" stroke="#b1b519" stroke-width="1.05"/>
<rect x="469.38" y="366.25" width="2.85" height="2.85" fill="none" stroke="#b1b519" stroke-width="1.05"/>
<rect x="472.65" y="366.45" width="2.85" height="2.85" fill="none" stroke="#b1b519" stroke-width="1.05"/>
<rect x="475.92" y="366.64" width="2.85" height="2.85" fill="none" stroke="#b1b519" stroke-width="1.05"/>
<rect x="479.19" y="366.84" width="2.85" height="2.85" fill="none" stroke="#b1b519" stroke-width="1.05"/>
<rect x="482.46" y="367.04" width="2.85" height="2.85" fill="none" stroke="#b1b519" stroke-width="1.05"/>
<rect x="485.73" y="372.17" width="2.85" height="2.85" fill="none" stroke="#b1b519" stroke-width="1.05"/>
<rect x="489.00" y="372.17" width="2.85" height="2.85" fill="none" stroke="#b1b519" stroke-width="1.05"/>
<rect x="492.27" y="372.17" width="2.85" height="2.85" fill="none" stroke="#b1b519" stroke-width="1.05"/>
<rect x="495.55" y="372.17" width="2.85" height="2.85" fill="none" stroke="#b1b519" stroke-width="1.05"/>
<rect x="498.82" y="372.17" width="2.85" height="2.85" fill="none" stroke="#b1b519" stroke-width="1.05"/>
<rect x="502.09" y="372.17" width="2.85" height="2.85" fill="none" stroke="#b1b519" stroke-width="1.05"/>
<rect x="505.36" y="372.17" width="2.85" height="2.85" fill="none" stroke="#b1b519" stroke-width="1.05"/>
<rect x="508.63" y="372.17" width="2.85" height="2.85" fill="none" stroke="#b1b519" stroke-width="1.05"/>
<rect x="511.90" y="372.17" width="2.85" height="2.85" fill="none" stroke="#b1b519" stroke-width="1.05"/>
<rect x="515.17" y="372.17" width="2.85" height="2.85" fill="none" stroke="#b1b519" stroke-width="1.05"/>
<rect x="518.45" y="235.13" width="2.85" height="2.85" fill="none" stroke="#b1b519" stroke-width="1.05"/>
<rect x="521.72" y="235.13" width="2.85" height="2.85" fill="none" stroke="#b1b519" stroke-width="1.05"/>
<rect x="524.99" y="235.13" width="2.85" height="2.85" fill="none" stroke="#b1b519" stroke-width="1.05"/>
<rect x="528.26" y="235.13" width="2.85" height="2.85" fill="none" stroke="#b1b519" stroke-width="1.05"/>
<rect x="531.53" y="235.13" width="2.85" height="2.85" fill="none" stroke="#b1b519" stroke-width="1.05"/>
<rect x="312.35" y="225.22" width="2.85" height="2.85" fill="none" stroke="#4f9b1b" stroke-width="1.05"/>
<rect x="315.62" y="225.22" width="2.85" height="2.85" fill="none" stroke="#4f9b1b" stroke-width="1.05"/>
<rect x="318.89" y="225.22" width="2.85" height="2.85" fill="none" stroke="#4f9b1b" stroke-width="1.05"/>
<rect x="322.16" y="229.38" width="2.85" height="2.85" fill="none" stroke="#4f9b1b" stroke-width="1.05"/>
<rect x="325.43" y="229.38" width="2.85" height="2.85" fill="none" stroke="#4f9b1b" stroke-width="1.05"/>
<rect x="328.70" y="229.38" width="2.85" height="2.85" fill="none" stroke="#4f9b1b" stroke-width="1.05"/>
<rect x="331.97" y="229.38" width="2.85" height="2.85" fill="none" stroke="#4f9b1b" stroke-width="1.05"/>
<rect x="335.25" y="229.38" width="2.85" height="2.85" fill="none" stroke="#4f9b1b" stroke-width="1.05"/>
<rect x="338.52" y="230.71" width="2.85" height="2.85" fill="none" stroke="#4f9b1b" stroke-width="1.05"/>
<rect x="341.79" y="230.71" width="2.85" height="2.85" fill="none" stroke="#4f9b1b" stroke-width="1.05"/>
<rect x="345.06" y="230.71" width="2.85" height="2.85" fill="none" stroke="#4f9b1b" stroke-width="1.05"/>
<rect x="348.33" y="230.71" width="2.85" height="2.85" fill="none" stroke="#4f9b1b" stroke-width="1.05"/>
<rect x="351.60" y="230.71" width="2.85" height="2.85" fill="none" stroke="#4f9b1b" stroke-width="1.05"/>
<rect x="354.88" y="244.87" width="2.85" height="2.85" fill="none" stroke="#4f9b1b" stroke-width="1.05"/>
<rect x="358.15" y="245.46" width="2.85" height="2.85" fill="none" stroke="#4f9b1b" stroke-width="1.05"/>
<rect x="361.42" y="246.05" width="2.85" height="2.85" fill="none" stroke="#4f9b1b" stroke-width="1.05"/>
<rect x="364.69" y="246.64" width="2.85" height="2.85" fill="none" stroke="#4f9b1b" stroke-width="1.05"/>
<rect x="367.96" y="247.23" width="2.85" height="2.85" fill="none" stroke="#4f9b1b" stroke-width="1.05"/>
<rect x="371.23" y="247.82" width="2.85" height="2.85" fill="none" stroke="#4f9b1b" stroke-width="1.05"/>
<rect x="374.50" y="248.41" width="2.85" height="2.85" fill="none" stroke="#4f9b1b" stroke-width="1.05"/>
<rect x="377.77" y="249.00" width="2.85" height="2.85" fill="none" stroke="#4f9b1b" stroke-width="1.05"/>
<rect x="381.05" y="249.59" width="2.85" height="2.85" fill="none" stroke="#4f9b1b" stroke-width="1.05"/>
<rect x="384.32" y="250.18" width="2.85" height="2.85" fill="none" stroke="#4f9b1b" stroke-width="1.05"/>
<rect x="387.59" y="289.84" width="2.85" height="2.85" fill="none" stroke="#4f9b1b" stroke-width="1.05"/>
<rect x="390.86" y="300.73" width="2.85" height="2.85" fill="none" stroke="#4f9b1b" stroke-width="1.05"/>
<rect x="394.13" y="306.57" width="2.85" height="2.85" fill="none" stroke="#4f9b1b" stroke-width="1.05"/>
<rect x="397.40" y="311.62" width="2.85" height="2.85" fill="none" stroke="#4f9b1b" stroke-width="1.05"/>
<rect x="400.68" y="313.92" width="2.85" height="2.85" fill="none" stroke="#4f9b1b" stroke-width="1.05"/>
<rect x="403.95" y="316.75" width="2.85" height="2.85" fill="none" stroke="#4f9b1b" stroke-width="1.05"/>
<rect x="407.22" y="318.97" width="2.85" height="2.85" fill="none" stroke="#4f9b1b" stroke-width="1.05"/>
<rect x="410.49" y="321.18" width="2.85" height="2.85" fill="none" stroke="#4f9b1b" stroke-width="1.05"/>
<rect x="413.76" y="316.75" width="2.85" height="2.85" fill="none" stroke="#4f9b1b" stroke-width="1.05"/>
<rect x="417.03" y="316.75" width="2.85" height="2.85" fill="none" stroke="#4f9b1b" stroke-width="1.05"/>
<rect x="420.30" y="362.35" width="2.85" height="2.85" fill="none" stroke="#4f9b1b" stroke-width="1.05"/>
<rect x="423.57" y="362.62" width="2.85" height="2.85" fill="none" stroke="#4f9b1b" stroke-width="1.05"/>
<rect x="426.85" y="362.90" width="2.85" height="2.85" fill="none" stroke="#4f9b1b" stroke-width="1.05"/>
<rect x="430.12" y="363.17" width="2.85" height="2.85" fill="none" stroke="#4f9b1b" stroke-width="1.05"/>
<rect x="433.39" y="363.45" width="2.85" height="2.85" fill="none" stroke="#4f9b1b" stroke-width="1.05"/>
<rect x="436.66" y="363.72" width="2.85" height="2.85" fill="none" stroke="#4f9b1b" stroke-width="1.05"/>
<rect x="439.93" y="364.00" width="2.85" height="2.85" fill="none" stroke="#4f9b1b" stroke-width="1.05"/>
<rect x="443.20" y="364.27" width="2.85" height="2.85" fill="none" stroke="#4f9b1b" stroke-width="1.05"/>
<rect x="446.47" y="364.55" width="2.85" height="2.85" fill="none" stroke="#4f9b1b" stroke-width="1.05"/>
<rect x="449.75" y="364.82" width="2.85" height="2.85" fill="none" stroke="#4f9b1b" stroke-width="1.05"/>
<rect x="453.02" y="364.38" width="2.85" height="2.85" fill="none" stroke="#4f9b1b" stroke-width="1.05"/>
<rect x="456.29" y="364.58" width="2.85" height="2.85" fill="none" stroke="#4f9b1b" stroke-width="1.05"/>
<rect x="459.56" y="364.77" width="2.85" height="2.85" fill="none" stroke="#4f9b1b" stroke-width="1.05"/>
<rect x="462.83" y="364.97" width="2.85" height="2.85" fill="none" stroke="#4f9b1b" stroke-width="1.05"/>
<rect x="466.10" y="365.17" width="2.85" height="2.85" fill="none" stroke="#4f9b1b" stroke-width="1.05"/>
<rect x="469.38" y="365.36" width="2.85" height="2.85" fill="none" stroke="#4f9b1b" stroke-width="1.05"/>
<rect x="472.65" y="365.56" width="2.85" height="2.85" fill="none" stroke="#4f9b1b" stroke-width="1.05"/>
<rect x="475.92" y="365.76" width="2.85" height="2.85" fill="none" stroke="#4f9b1b" stroke-width="1.05"/>
<rect x="479.19" y="365.96" width="2.85" height="2.85" fill="none" stroke="#4f9b1b" stroke-width="1.05"/>
<rect x="482.46" y="366.15" width="2.85" height="2.85" fill="none" stroke="#4f9b1b" stroke-width="1.05"/>
<rect x="485.73" y="371.46" width="2.85" height="2.85" fill="none" stroke="#4f9b1b" stroke-width="1.05"/>
<rect x="489.00" y="371.46" width="2.85" height="2.85" fill="none" stroke="#4f9b1b" stroke-width="1.05"/>
<rect x="492.27" y="371.46" width="2.85" height="2.85" fill="none" stroke="#4f9b1b" stroke-width="1.05"/>
<rect x="495.55" y="371.46" width="2.85" height="2.85" fill="none" stroke="#4f9b1b" stroke-width="1.05"/>
<rect x="498.82" y="371.46" width="2.85" height="2.85" fill="none" stroke="#4f9b1b" stroke-width="1.05"/>
<rect x="502.09" y="371.46" width="2.85" height="2.85" fill="none" stroke="#4f9b1b" stroke-width="1.05"/>
<rect x="505.36" y="371.46" width="2.85" height="2.85" fill="none" stroke="#4f9b1b" stroke-width="1.05"/>
<rect x="508.63" y="371.46" width="2.85" height="2.85" fill="none" stroke="#4f9b1b" stroke-width="1.05"/>
<rect x="511.90" y="371.46" width="2.85" height="2.85" fill="none" stroke="#4f9b1b" stroke-width="1.05"/>
<rect x="515.17" y="371.46" width="2.85" height="2.85" fill="none" stroke="#4f9b1b" stroke-width="1.05"/>
<rect x="518.45" y="233.36" width="2.85" height="2.85" fill="none" stroke="#4f9b1b" stroke-width="1.05"/>
<rect x="521.72" y="233.36" width="2.85" height="2.85" fill="none" stroke="#4f9b1b" stroke-width="1.05"/>
<rect x="524.99" y="233.36" width="2.85" height="2.85" fill="none" stroke="#4f9b1b" stroke-width="1.05"/>
<rect x="528.26" y="233.36" width="2.85" height="2.85" fill="none" stroke="#4f9b1b" stroke-width="1.05"/>
<rect x="531.53" y="233.36" width="2.85" height="2.85" fill="none" stroke="#4f9b1b" stroke-width="1.05"/>
<rect x="310.50" y="210.00" width="229.00" height="168.20" fill="none" stroke="#262626" stroke-width="1.2"/>
<line x1="307.30" y1="378.20" x2="310.50" y2="378.20" stroke="#262626" stroke-width="1"/>
<text x="304.80" y="380.70" font-size="11" text-anchor="end" fill="#262626" stroke="#262626" stroke-width="0.18" font-family="'Liberation Serif', serif">0</text>
<line x1="308.70" y1="369.35" x2="310.50" y2="369.35" stroke="#262626" stroke-width="1"/>
<line x1="307.30" y1="360.49" x2="310.50" y2="360.49" stroke="#262626" stroke-width="1"/>
<text x="304.80" y="362.99" font-size="11" text-anchor="end" fill="#262626" stroke="#262626" stroke-width="0.18" font-family="'Liberation Serif', serif">20</text>
<line x1="308.70" y1="351.64" x2="310.50" y2="351.64" stroke="#262626" stroke-width="1"/>
<line x1="307.30" y1="342.79" x2="310.50" y2="342.79" stroke="#262626" stroke-width="1"/>
<text x="304.80" y="345.29" font-size="11" text-anchor="end" fill="#262626" stroke="#262626" stroke-width="0.18" font-family="'Liberation Serif', serif">40</text>
<line x1="308.70" y1="333.94" x2="310.50" y2="333.94" stroke="#262626" stroke-width="1"/>
<line x1="307.30" y1="325.08" x2="310.50" y2="325.08" stroke="#262626" stroke-width="1"/>
<text x="304.80" y="327.58" font-size="11" text-anchor="end" fill="#262626" stroke="#262626" stroke-width="0.18" font-family="'Liberation Serif', serif">60</text>
<line x1="308.70" y1="316.23" x2="310.50" y2="316.23" stroke="#262626" stroke-width="1"/>
<line x1="307.30" y1="307.38" x2="310.50" y2="307.38" stroke="#262626" stroke-width="1"/>
<text x="304.80" y="309.88" font-size="11" text-anchor="end" fill="#262626" stroke="#262626" stroke-width="0.18" font-family="'Liberation Serif', serif">80</text>
<line x1="308.70" y1="298.53" x2="310.50" y2="298.53" stroke="#262626" stroke-width="1"/>
<line x1="307.30" y1="289.67" x2="310.50" y2="289.67" stroke="#262626" stroke-width="1"/>
<text x="304.80" y="292.17" font-size="11" text-anchor="end" fill="#262626" stroke="#262626" stroke-width="0.18" font-family="'Liberation Serif', serif">100</text>
<line x1="308.70" y1="280.82" x2="310.50" y2="280.82" stroke="#262626" stroke-width="1"/>
<line x1="307.30" y1="271.97" x2="310.50" y2="271.97" stroke="#262626" stroke-width="1"/>
<text x="304.80" y="274.47" font-size="11" text-anchor="end" fill="#262626" stroke="#262626" stroke-width="0.18" font-family="'Liberation Serif', serif">120</text>
<line x1="308.70" y1="263.12" x2="310.50" y2="263.12" stroke="#262626" stroke-width="1"/>
<line x1="307.30" y1="254.26" x2="310.50" y2="254.26" stroke="#262626" stroke-width="1"/>
<text x="304.80" y="256.76" font-size="11" text-anchor="end" fill="#262626" stroke="#262626" stroke-width="0.18" font-family="'Liberation Serif', serif">140</text>
<line x1="308.70" y1="245.41" x2="310.50" y2="245.41" stroke="#262626" stroke-width="1"/>
<line x1="307.30" y1="236.56" x2="310.50" y2="236.56" stroke="#262626" stroke-width="1"/>
<text x="304.80" y="239.06" font-size="11" text-anchor="end" fill="#262626" stroke="#262626" stroke-width="0.18" font-family="'Liberation Serif', serif">160</text>
<line x1="308.70" y1="227.71" x2="310.50" y2="227.71" stroke="#262626" stroke-width="1"/>
<line x1="307.30" y1="218.85" x2="310.50" y2="218.85" stroke="#262626" stroke-width="1"/>
<text x="304.80" y="221.35" font-size="11" text-anchor="end" fill="#262626" stroke="#262626" stroke-width="0.18" font-family="'Liberation Serif', serif">180</text>
<line x1="310.50" y1="378.20" x2="310.50" y2="381.40" stroke="#262626" stroke-width="1"/>
<text x="310.50" y="391.70" font-size="11" text-anchor="middle" fill="#262626" stroke="#262626" stroke-width="0.18" font-family="'Liberation Serif', serif">0</text>
<line x1="326.86" y1="378.20" x2="326.86" y2="380.00" stroke="#262626" stroke-width="1"/>
<line x1="343.21" y1="378.20" x2="343.21" y2="381.40" stroke="#262626" stroke-width="1"/>
<text x="343.21" y="391.70" font-size="11" text-anchor="middle" fill="#262626" stroke="#262626" stroke-width="0.18" font-family="'Liberation Serif', serif">10</text>
<line x1="359.57" y1="378.20" x2="359.57" y2="380.00" stroke="#262626" stroke-width="1"/>
<line x1="375.93" y1="378.20" x2="375.93" y2="381.40" stroke="#262626" stroke-width="1"/>
<text x="375.93" y="391.70" font-size="11" text-anchor="middle" fill="#262626" stroke="#262626" stroke-width="0.18" font-family="'Liberation Serif', serif">20</text>
<line x1="392.29" y1="378.20" x2="392.29" y2="380.00" stroke="#262626" stroke-width="1"/>
<line x1="408.64" y1="378.20" x2="408.64" y2="381.40" stroke="#262626" stroke-width="1"/>
<text x="408.64" y="391.70" font-size="11" text-anchor="middle" fill="#262626" stroke="#262626" stroke-width="0.18" font-family="'Liberation Serif', serif">30</text>
<line x1="425.00" y1="378.20" x2="425.00" y2="380.00" stroke="#262626" stroke-width="1"/>
<line x1="441.36" y1="378.20" x2="441.36" y2="381.40" stroke="#262626" stroke-width="1"/>
<text x="441.36" y="391.70" font-size="11" text-anchor="middle" fill="#262626" stroke="#262626" stroke-width="0.18" font-family="'Liberation Serif', serif">40</text>
<line x1="457.71" y1="378.20" x2="457.71" y2="380.00" stroke="#262626" stroke-width="1"/>
<line x1="474.07" y1="378.20" x2="474.07" y2="381.40" stroke="#262626" stroke-width="1"/>
<text x="474.07" y="391.70" font-size="11" text-anchor="middle" fill="#262626" stroke="#262626" stroke-width="0.18" font-family="'Liberation Serif', serif">50</text>
<line x1="490.43" y1="378.20" x2="490.43" y2="380.00" stroke="#262626" stroke-width="1"/>
<line x1="506.79" y1="378.20" x2="506.79" y2="381.40" stroke="#262626" stroke-width="1"/>
<text x="506.79" y="391.70" font-size="11" text-anchor="middle" fill="#262626" stroke="#262626" stroke-width="0.18" font-family="'Liberation Serif', serif">60</text>
<line x1="523.14" y1="378.20" x2="523.14" y2="380.00" stroke="#262626" stroke-width="1"/>
<line x1="539.50" y1="378.20" x2="539.50" y2="381.40" stroke="#262626" stroke-width="1"/>
<text x="539.50" y="391.70" font-size="11" text-anchor="middle" fill="#262626" stroke="#262626" stroke-width="0.18" font-family="'Liberation Serif', serif">70</text>
<text x="0" y="0" transform="translate(283.70,294.40) rotate(-90)" font-size="11.9" text-anchor="middle" textLength="169.5" lengthAdjust="spacingAndGlyphs" fill="#262626" font-family="'Liberation Serif', serif">Specific discharge capacity (mAh/g)</text>
<text x="425.00" y="405.90" font-size="11.8" text-anchor="middle" textLength="66" lengthAdjust="spacingAndGlyphs" fill="#262626" font-family="'Liberation Serif', serif">Cycle number</text>
<text x="354.50" y="219.60" font-size="11.4" text-anchor="start" fill="#262626" stroke="#262626" stroke-width="0.18" font-family="'Liberation Serif', serif" textLength="153.0" lengthAdjust="spacingAndGlyphs">Thick-film with laser structuring</text>
<text x="321.10" y="228.30" font-size="11.4" text-anchor="start" fill="#262626" stroke="#262626" stroke-width="0.18" font-family="'Liberation Serif', serif" textLength="21.4" lengthAdjust="spacingAndGlyphs">C/10</text>
<text x="310.30" y="243.70" font-size="11.4" text-anchor="start" fill="#262626" stroke="#262626" stroke-width="0.18" font-family="'Liberation Serif', serif" textLength="22.0" lengthAdjust="spacingAndGlyphs">C/20</text>
<text x="341.90" y="229.70" font-size="11.4" text-anchor="start" fill="#262626" stroke="#262626" stroke-width="0.18" font-family="'Liberation Serif', serif" textLength="17.3" lengthAdjust="spacingAndGlyphs">C/5</text>
<text x="363.00" y="243.30" font-size="11.4" text-anchor="start" fill="#262626" stroke="#262626" stroke-width="0.18" font-family="'Liberation Serif', serif" textLength="16.6" lengthAdjust="spacingAndGlyphs">C/2</text>
<text x="401.50" y="283.80" font-size="11.4" text-anchor="start" fill="#262626" stroke="#262626" stroke-width="0.18" font-family="'Liberation Serif', serif" textLength="12.9" lengthAdjust="spacingAndGlyphs">1C</text>
<text x="429.60" y="357.30" font-size="11.4" text-anchor="start" fill="#262626" stroke="#262626" stroke-width="0.18" font-family="'Liberation Serif', serif" textLength="13.7" lengthAdjust="spacingAndGlyphs">2C</text>
<text x="463.20" y="362.70" font-size="11.4" text-anchor="start" fill="#262626" stroke="#262626" stroke-width="0.18" font-family="'Liberation Serif', serif" textLength="13.7" lengthAdjust="spacingAndGlyphs">3C</text>
<text x="495.40" y="367.90" font-size="11.4" text-anchor="start" fill="#262626" stroke="#262626" stroke-width="0.18" font-family="'Liberation Serif', serif" textLength="13.4" lengthAdjust="spacingAndGlyphs">5C</text>
<text x="517.30" y="231.00" font-size="11.4" text-anchor="start" fill="#262626" stroke="#262626" stroke-width="0.18" font-family="'Liberation Serif', serif" textLength="17.6" lengthAdjust="spacingAndGlyphs">C/5</text>
<rect x="489.68" y="261.38" width="2.65" height="2.65" fill="none" stroke="#f26a1e" stroke-width="0.95"/>
<text x="499.80" y="266.80" font-size="11.4" text-anchor="start" fill="#262626" stroke="#262626" stroke-width="0.18" font-family="'Liberation Serif', serif" textLength="37.6" lengthAdjust="spacingAndGlyphs">TBA 1:2</text>
<rect x="489.68" y="276.88" width="2.65" height="2.65" fill="none" stroke="#f0383f" stroke-width="0.95"/>
<text x="499.80" y="282.30" font-size="11.4" text-anchor="start" fill="#262626" stroke="#262626" stroke-width="0.18" font-family="'Liberation Serif', serif" textLength="37.6" lengthAdjust="spacingAndGlyphs">TBA 1:1</text>
<rect x="489.68" y="292.38" width="2.65" height="2.65" fill="none" stroke="#d5161f" stroke-width="0.95"/>
<text x="499.80" y="297.80" font-size="11.4" text-anchor="start" fill="#262626" stroke="#262626" stroke-width="0.18" font-family="'Liberation Serif', serif" textLength="37.6" lengthAdjust="spacingAndGlyphs">TBA 2:1</text>
<rect x="489.68" y="307.88" width="2.65" height="2.65" fill="none" stroke="#ebe71c" stroke-width="0.95"/>
<text x="499.80" y="313.30" font-size="11.4" text-anchor="start" fill="#262626" stroke="#262626" stroke-width="0.18" font-family="'Liberation Serif', serif" textLength="37.6" lengthAdjust="spacingAndGlyphs">BTA 1:2</text>
<rect x="489.68" y="323.38" width="2.65" height="2.65" fill="none" stroke="#b1b519" stroke-width="0.95"/>
<text x="499.80" y="328.80" font-size="11.4" text-anchor="start" fill="#262626" stroke="#262626" stroke-width="0.18" font-family="'Liberation Serif', serif" textLength="37.6" lengthAdjust="spacingAndGlyphs">BTA 1:1</text>
<rect x="489.68" y="338.88" width="2.65" height="2.65" fill="none" stroke="#4f9b1b" stroke-width="0.95"/>
<text x="499.80" y="344.30" font-size="11.4" text-anchor="start" fill="#262626" stroke="#262626" stroke-width="0.18" font-family="'Liberation Serif', serif" textLength="37.6" lengthAdjust="spacingAndGlyphs">BTA 2:1</text>
<text x="278.90" y="399.80" font-size="11" text-anchor="start" fill="#262626" stroke="#262626" stroke-width="0.18" font-family="'Liberation Serif', serif" textLength="14.4" lengthAdjust="spacingAndGlyphs" font-weight="bold">(d)</text>
</svg>
</body></html>
